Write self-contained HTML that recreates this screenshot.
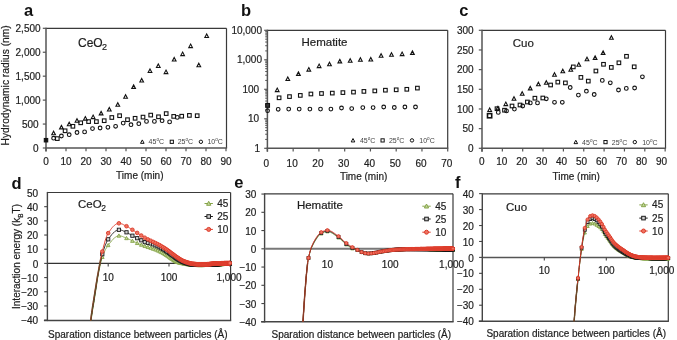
<!DOCTYPE html>
<html><head><meta charset="utf-8"><title>Figure</title>
<style>html,body{margin:0;padding:0;background:#fff;}svg{display:block;}</style></head>
<body><svg width="677" height="340" viewBox="0 0 677 340" font-family='"Liberation Sans", Arial, Helvetica, sans-serif'>
<rect width="677" height="340" fill="#fff"/>
<line x1="46.00" y1="28.30" x2="226.50" y2="28.30" stroke="#3a3a3a" stroke-width="1.2"/>
<line x1="226.50" y1="28.30" x2="226.50" y2="148.00" stroke="#3a3a3a" stroke-width="1.2"/>
<line x1="46.00" y1="27.70" x2="46.00" y2="151.40" stroke="#555" stroke-width="1.5"/>
<line x1="45.20" y1="148.00" x2="227.10" y2="148.00" stroke="#555" stroke-width="1.5"/>
<line x1="46.00" y1="148.00" x2="46.00" y2="151.20" stroke="#555" stroke-width="1.2"/>
<text x="46.00" y="165.00" font-size="10" text-anchor="middle" fill="#1e1e1e" stroke="#1e1e1e" stroke-width="0.2" font-weight="normal" >0</text>
<line x1="66.00" y1="148.00" x2="66.00" y2="151.20" stroke="#555" stroke-width="1.2"/>
<text x="66.00" y="165.00" font-size="10" text-anchor="middle" fill="#1e1e1e" stroke="#1e1e1e" stroke-width="0.2" font-weight="normal" >10</text>
<line x1="86.00" y1="148.00" x2="86.00" y2="151.20" stroke="#555" stroke-width="1.2"/>
<text x="86.00" y="165.00" font-size="10" text-anchor="middle" fill="#1e1e1e" stroke="#1e1e1e" stroke-width="0.2" font-weight="normal" >20</text>
<line x1="106.00" y1="148.00" x2="106.00" y2="151.20" stroke="#555" stroke-width="1.2"/>
<text x="106.00" y="165.00" font-size="10" text-anchor="middle" fill="#1e1e1e" stroke="#1e1e1e" stroke-width="0.2" font-weight="normal" >30</text>
<line x1="126.00" y1="148.00" x2="126.00" y2="151.20" stroke="#555" stroke-width="1.2"/>
<text x="126.00" y="165.00" font-size="10" text-anchor="middle" fill="#1e1e1e" stroke="#1e1e1e" stroke-width="0.2" font-weight="normal" >40</text>
<line x1="146.00" y1="148.00" x2="146.00" y2="151.20" stroke="#555" stroke-width="1.2"/>
<text x="146.00" y="165.00" font-size="10" text-anchor="middle" fill="#1e1e1e" stroke="#1e1e1e" stroke-width="0.2" font-weight="normal" >50</text>
<line x1="166.00" y1="148.00" x2="166.00" y2="151.20" stroke="#555" stroke-width="1.2"/>
<text x="166.00" y="165.00" font-size="10" text-anchor="middle" fill="#1e1e1e" stroke="#1e1e1e" stroke-width="0.2" font-weight="normal" >60</text>
<line x1="186.00" y1="148.00" x2="186.00" y2="151.20" stroke="#555" stroke-width="1.2"/>
<text x="186.00" y="165.00" font-size="10" text-anchor="middle" fill="#1e1e1e" stroke="#1e1e1e" stroke-width="0.2" font-weight="normal" >70</text>
<line x1="206.00" y1="148.00" x2="206.00" y2="151.20" stroke="#555" stroke-width="1.2"/>
<text x="206.00" y="165.00" font-size="10" text-anchor="middle" fill="#1e1e1e" stroke="#1e1e1e" stroke-width="0.2" font-weight="normal" >80</text>
<line x1="226.00" y1="148.00" x2="226.00" y2="151.20" stroke="#555" stroke-width="1.2"/>
<text x="226.00" y="165.00" font-size="10" text-anchor="middle" fill="#1e1e1e" stroke="#1e1e1e" stroke-width="0.2" font-weight="normal" >90</text>
<line x1="42.80" y1="148.00" x2="46.00" y2="148.00" stroke="#555" stroke-width="1.2"/>
<text x="38.60" y="151.60" font-size="10" text-anchor="end" fill="#1e1e1e" stroke="#1e1e1e" stroke-width="0.2" font-weight="normal" >0</text>
<line x1="42.80" y1="124.06" x2="46.00" y2="124.06" stroke="#555" stroke-width="1.2"/>
<text x="38.60" y="127.66" font-size="10" text-anchor="end" fill="#1e1e1e" stroke="#1e1e1e" stroke-width="0.2" font-weight="normal" >500</text>
<line x1="42.80" y1="100.12" x2="46.00" y2="100.12" stroke="#555" stroke-width="1.2"/>
<text x="40.60" y="103.72" font-size="10" text-anchor="end" fill="#1e1e1e" stroke="#1e1e1e" stroke-width="0.2" font-weight="normal" >1,000</text>
<line x1="42.80" y1="76.18" x2="46.00" y2="76.18" stroke="#555" stroke-width="1.2"/>
<text x="40.60" y="79.78" font-size="10" text-anchor="end" fill="#1e1e1e" stroke="#1e1e1e" stroke-width="0.2" font-weight="normal" >1,500</text>
<line x1="42.80" y1="52.24" x2="46.00" y2="52.24" stroke="#555" stroke-width="1.2"/>
<text x="40.60" y="55.84" font-size="10" text-anchor="end" fill="#1e1e1e" stroke="#1e1e1e" stroke-width="0.2" font-weight="normal" >2,000</text>
<line x1="42.80" y1="28.30" x2="46.00" y2="28.30" stroke="#555" stroke-width="1.2"/>
<text x="40.60" y="31.90" font-size="10" text-anchor="end" fill="#1e1e1e" stroke="#1e1e1e" stroke-width="0.2" font-weight="normal" >2,500</text>
<path d="M53.60 131.17L55.45 134.68L51.75 134.68Z" fill="none" stroke="#111" stroke-width="1.1"/>
<path d="M61.40 125.37L63.25 128.88L59.55 128.88Z" fill="none" stroke="#111" stroke-width="1.1"/>
<path d="M69.20 122.27L71.05 125.78L67.35 125.78Z" fill="none" stroke="#111" stroke-width="1.1"/>
<path d="M77.00 118.77L78.85 122.28L75.15 122.28Z" fill="none" stroke="#111" stroke-width="1.1"/>
<path d="M85.30 116.57L87.15 120.08L83.45 120.08Z" fill="none" stroke="#111" stroke-width="1.1"/>
<path d="M93.10 115.07L94.95 118.58L91.25 118.58Z" fill="none" stroke="#111" stroke-width="1.1"/>
<path d="M101.10 111.37L102.95 114.88L99.25 114.88Z" fill="none" stroke="#111" stroke-width="1.1"/>
<path d="M109.30 107.47L111.15 110.98L107.45 110.98Z" fill="none" stroke="#111" stroke-width="1.1"/>
<path d="M117.80 102.77L119.65 106.28L115.95 106.28Z" fill="none" stroke="#111" stroke-width="1.1"/>
<path d="M125.60 94.77L127.45 98.28L123.75 98.28Z" fill="none" stroke="#111" stroke-width="1.1"/>
<path d="M133.60 84.87L135.45 88.38L131.75 88.38Z" fill="none" stroke="#111" stroke-width="1.1"/>
<path d="M141.70 78.47L143.55 81.98L139.85 81.98Z" fill="none" stroke="#111" stroke-width="1.1"/>
<path d="M150.00 68.97L151.85 72.48L148.15 72.48Z" fill="none" stroke="#111" stroke-width="1.1"/>
<path d="M158.30 63.97L160.15 67.48L156.45 67.48Z" fill="none" stroke="#111" stroke-width="1.1"/>
<path d="M166.00 70.07L167.85 73.58L164.15 73.58Z" fill="none" stroke="#111" stroke-width="1.1"/>
<path d="M174.20 57.47L176.05 60.98L172.35 60.98Z" fill="none" stroke="#111" stroke-width="1.1"/>
<path d="M182.60 52.07L184.45 55.58L180.75 55.58Z" fill="none" stroke="#111" stroke-width="1.1"/>
<path d="M190.60 44.07L192.45 47.58L188.75 47.58Z" fill="none" stroke="#111" stroke-width="1.1"/>
<path d="M198.80 63.27L200.65 66.78L196.95 66.78Z" fill="none" stroke="#111" stroke-width="1.1"/>
<path d="M206.70 33.97L208.55 37.48L204.85 37.48Z" fill="none" stroke="#111" stroke-width="1.1"/>
<rect x="55.50" y="136.80" width="3.60" height="3.60" fill="none" stroke="#111" stroke-width="1.1"/>
<rect x="63.30" y="129.00" width="3.60" height="3.60" fill="none" stroke="#111" stroke-width="1.1"/>
<rect x="71.10" y="124.50" width="3.60" height="3.60" fill="none" stroke="#111" stroke-width="1.1"/>
<rect x="78.90" y="121.00" width="3.60" height="3.60" fill="none" stroke="#111" stroke-width="1.1"/>
<rect x="86.80" y="119.80" width="3.60" height="3.60" fill="none" stroke="#111" stroke-width="1.1"/>
<rect x="94.60" y="119.80" width="3.60" height="3.60" fill="none" stroke="#111" stroke-width="1.1"/>
<rect x="102.40" y="118.90" width="3.60" height="3.60" fill="none" stroke="#111" stroke-width="1.1"/>
<rect x="110.00" y="115.70" width="3.60" height="3.60" fill="none" stroke="#111" stroke-width="1.1"/>
<rect x="117.80" y="113.90" width="3.60" height="3.60" fill="none" stroke="#111" stroke-width="1.1"/>
<rect x="125.70" y="117.90" width="3.60" height="3.60" fill="none" stroke="#111" stroke-width="1.1"/>
<rect x="133.30" y="116.50" width="3.60" height="3.60" fill="none" stroke="#111" stroke-width="1.1"/>
<rect x="141.20" y="115.30" width="3.60" height="3.60" fill="none" stroke="#111" stroke-width="1.1"/>
<rect x="148.90" y="113.30" width="3.60" height="3.60" fill="none" stroke="#111" stroke-width="1.1"/>
<rect x="156.70" y="115.00" width="3.60" height="3.60" fill="none" stroke="#111" stroke-width="1.1"/>
<rect x="164.40" y="111.80" width="3.60" height="3.60" fill="none" stroke="#111" stroke-width="1.1"/>
<rect x="171.90" y="114.60" width="3.60" height="3.60" fill="none" stroke="#111" stroke-width="1.1"/>
<rect x="179.90" y="114.40" width="3.60" height="3.60" fill="none" stroke="#111" stroke-width="1.1"/>
<rect x="187.60" y="113.60" width="3.60" height="3.60" fill="none" stroke="#111" stroke-width="1.1"/>
<rect x="195.40" y="113.90" width="3.60" height="3.60" fill="none" stroke="#111" stroke-width="1.1"/>
<circle cx="53.60" cy="138.20" r="1.85" fill="none" stroke="#111" stroke-width="1.1"/>
<circle cx="61.40" cy="136.00" r="1.85" fill="none" stroke="#111" stroke-width="1.1"/>
<circle cx="69.20" cy="134.70" r="1.85" fill="none" stroke="#111" stroke-width="1.1"/>
<circle cx="77.00" cy="132.50" r="1.85" fill="none" stroke="#111" stroke-width="1.1"/>
<circle cx="84.60" cy="131.90" r="1.85" fill="none" stroke="#111" stroke-width="1.1"/>
<circle cx="92.50" cy="128.60" r="1.85" fill="none" stroke="#111" stroke-width="1.1"/>
<circle cx="100.10" cy="128.00" r="1.85" fill="none" stroke="#111" stroke-width="1.1"/>
<circle cx="107.90" cy="127.30" r="1.85" fill="none" stroke="#111" stroke-width="1.1"/>
<circle cx="115.60" cy="126.30" r="1.85" fill="none" stroke="#111" stroke-width="1.1"/>
<circle cx="123.20" cy="123.10" r="1.85" fill="none" stroke="#111" stroke-width="1.1"/>
<circle cx="131.00" cy="124.70" r="1.85" fill="none" stroke="#111" stroke-width="1.1"/>
<circle cx="138.80" cy="123.70" r="1.85" fill="none" stroke="#111" stroke-width="1.1"/>
<circle cx="146.50" cy="121.40" r="1.85" fill="none" stroke="#111" stroke-width="1.1"/>
<circle cx="154.40" cy="121.40" r="1.85" fill="none" stroke="#111" stroke-width="1.1"/>
<circle cx="162.10" cy="120.70" r="1.85" fill="none" stroke="#111" stroke-width="1.1"/>
<circle cx="169.60" cy="121.90" r="1.85" fill="none" stroke="#111" stroke-width="1.1"/>
<circle cx="177.30" cy="117.40" r="1.85" fill="none" stroke="#111" stroke-width="1.1"/>
<rect x="44.30" y="138.50" width="3.40" height="3.40" fill="#111" stroke="#111" stroke-width="1.1"/>
<path d="M142.30 139.92L144.10 143.34L140.50 143.34Z" fill="none" stroke="#111" stroke-width="1.0"/>
<rect x="170.20" y="140.20" width="3.20" height="3.20" fill="none" stroke="#111" stroke-width="1.0"/>
<circle cx="200.90" cy="141.80" r="1.70" fill="none" stroke="#111" stroke-width="1.0"/>
<text x="148.60" y="144.40" font-size="7" fill="#444">45<tspan font-size="4.6" dy="-3.2">o</tspan><tspan dy="3.2">C</tspan></text>
<text x="177.70" y="144.40" font-size="7" fill="#444">25<tspan font-size="4.6" dy="-3.2">o</tspan><tspan dy="3.2">C</tspan></text>
<text x="207.40" y="144.40" font-size="7" fill="#444">10<tspan font-size="4.6" dy="-3.2">o</tspan><tspan dy="3.2">C</tspan></text>
<text x="24.00" y="16.00" font-size="16.5" text-anchor="start" fill="#111" font-weight="bold" >a</text>
<text x="78" y="46.8" font-size="12" fill="#1e1e1e" stroke="#1e1e1e" stroke-width="0.2">CeO<tspan font-size="9" dx="-0.6" dy="2.8">2</tspan></text>
<text x="139.80" y="179.20" font-size="10" text-anchor="middle" fill="#1e1e1e" stroke="#1e1e1e" stroke-width="0.2" font-weight="normal" >Time (min)</text>
<text transform="translate(9.4,85.4) rotate(-90)" font-size="10.25" text-anchor="middle" fill="#1e1e1e" stroke="#1e1e1e" stroke-width="0.2">Hydrodynamic radius (nm)</text>
<line x1="267.40" y1="30.30" x2="447.70" y2="30.30" stroke="#3a3a3a" stroke-width="1.2"/>
<line x1="447.70" y1="30.30" x2="447.70" y2="148.30" stroke="#3a3a3a" stroke-width="1.2"/>
<line x1="267.40" y1="29.70" x2="267.40" y2="151.70" stroke="#555" stroke-width="1.5"/>
<line x1="266.60" y1="148.30" x2="448.30" y2="148.30" stroke="#555" stroke-width="1.5"/>
<line x1="267.40" y1="148.30" x2="267.40" y2="151.50" stroke="#555" stroke-width="1.2"/>
<text x="266.40" y="167.00" font-size="10" text-anchor="middle" fill="#1e1e1e" stroke="#1e1e1e" stroke-width="0.2" font-weight="normal" >0</text>
<line x1="293.16" y1="148.30" x2="293.16" y2="151.50" stroke="#555" stroke-width="1.2"/>
<text x="292.16" y="167.00" font-size="10" text-anchor="middle" fill="#1e1e1e" stroke="#1e1e1e" stroke-width="0.2" font-weight="normal" >10</text>
<line x1="318.92" y1="148.30" x2="318.92" y2="151.50" stroke="#555" stroke-width="1.2"/>
<text x="317.92" y="167.00" font-size="10" text-anchor="middle" fill="#1e1e1e" stroke="#1e1e1e" stroke-width="0.2" font-weight="normal" >20</text>
<line x1="344.68" y1="148.30" x2="344.68" y2="151.50" stroke="#555" stroke-width="1.2"/>
<text x="343.68" y="167.00" font-size="10" text-anchor="middle" fill="#1e1e1e" stroke="#1e1e1e" stroke-width="0.2" font-weight="normal" >30</text>
<line x1="370.44" y1="148.30" x2="370.44" y2="151.50" stroke="#555" stroke-width="1.2"/>
<text x="369.44" y="167.00" font-size="10" text-anchor="middle" fill="#1e1e1e" stroke="#1e1e1e" stroke-width="0.2" font-weight="normal" >40</text>
<line x1="396.20" y1="148.30" x2="396.20" y2="151.50" stroke="#555" stroke-width="1.2"/>
<text x="395.20" y="167.00" font-size="10" text-anchor="middle" fill="#1e1e1e" stroke="#1e1e1e" stroke-width="0.2" font-weight="normal" >50</text>
<line x1="421.96" y1="148.30" x2="421.96" y2="151.50" stroke="#555" stroke-width="1.2"/>
<text x="420.96" y="167.00" font-size="10" text-anchor="middle" fill="#1e1e1e" stroke="#1e1e1e" stroke-width="0.2" font-weight="normal" >60</text>
<line x1="447.72" y1="148.30" x2="447.72" y2="151.50" stroke="#555" stroke-width="1.2"/>
<text x="446.72" y="167.00" font-size="10" text-anchor="middle" fill="#1e1e1e" stroke="#1e1e1e" stroke-width="0.2" font-weight="normal" >70</text>
<line x1="264.20" y1="148.30" x2="267.40" y2="148.30" stroke="#555" stroke-width="1.2"/>
<text x="260.00" y="151.90" font-size="10" text-anchor="end" fill="#1e1e1e" stroke="#1e1e1e" stroke-width="0.2" font-weight="normal" >1</text>
<line x1="264.20" y1="118.80" x2="267.40" y2="118.80" stroke="#555" stroke-width="1.2"/>
<text x="259.10" y="122.40" font-size="10" text-anchor="end" fill="#1e1e1e" stroke="#1e1e1e" stroke-width="0.2" font-weight="normal" >10</text>
<line x1="264.20" y1="89.30" x2="267.40" y2="89.30" stroke="#555" stroke-width="1.2"/>
<text x="259.10" y="92.90" font-size="10" text-anchor="end" fill="#1e1e1e" stroke="#1e1e1e" stroke-width="0.2" font-weight="normal" >100</text>
<line x1="264.20" y1="59.80" x2="267.40" y2="59.80" stroke="#555" stroke-width="1.2"/>
<text x="262.00" y="63.40" font-size="10" text-anchor="end" fill="#1e1e1e" stroke="#1e1e1e" stroke-width="0.2" font-weight="normal" >1,000</text>
<line x1="264.20" y1="30.30" x2="267.40" y2="30.30" stroke="#555" stroke-width="1.2"/>
<text x="262.00" y="33.90" font-size="10" text-anchor="end" fill="#1e1e1e" stroke="#1e1e1e" stroke-width="0.2" font-weight="normal" >10,000</text>
<line x1="265.20" y1="139.42" x2="267.40" y2="139.42" stroke="#555" stroke-width="1.0"/>
<line x1="265.20" y1="134.22" x2="267.40" y2="134.22" stroke="#555" stroke-width="1.0"/>
<line x1="265.20" y1="130.54" x2="267.40" y2="130.54" stroke="#555" stroke-width="1.0"/>
<line x1="265.20" y1="127.68" x2="267.40" y2="127.68" stroke="#555" stroke-width="1.0"/>
<line x1="265.20" y1="125.34" x2="267.40" y2="125.34" stroke="#555" stroke-width="1.0"/>
<line x1="265.20" y1="123.37" x2="267.40" y2="123.37" stroke="#555" stroke-width="1.0"/>
<line x1="265.20" y1="121.66" x2="267.40" y2="121.66" stroke="#555" stroke-width="1.0"/>
<line x1="265.20" y1="120.15" x2="267.40" y2="120.15" stroke="#555" stroke-width="1.0"/>
<line x1="265.20" y1="109.92" x2="267.40" y2="109.92" stroke="#555" stroke-width="1.0"/>
<line x1="265.20" y1="104.72" x2="267.40" y2="104.72" stroke="#555" stroke-width="1.0"/>
<line x1="265.20" y1="101.04" x2="267.40" y2="101.04" stroke="#555" stroke-width="1.0"/>
<line x1="265.20" y1="98.18" x2="267.40" y2="98.18" stroke="#555" stroke-width="1.0"/>
<line x1="265.20" y1="95.84" x2="267.40" y2="95.84" stroke="#555" stroke-width="1.0"/>
<line x1="265.20" y1="93.87" x2="267.40" y2="93.87" stroke="#555" stroke-width="1.0"/>
<line x1="265.20" y1="92.16" x2="267.40" y2="92.16" stroke="#555" stroke-width="1.0"/>
<line x1="265.20" y1="90.65" x2="267.40" y2="90.65" stroke="#555" stroke-width="1.0"/>
<line x1="265.20" y1="80.42" x2="267.40" y2="80.42" stroke="#555" stroke-width="1.0"/>
<line x1="265.20" y1="75.22" x2="267.40" y2="75.22" stroke="#555" stroke-width="1.0"/>
<line x1="265.20" y1="71.54" x2="267.40" y2="71.54" stroke="#555" stroke-width="1.0"/>
<line x1="265.20" y1="68.68" x2="267.40" y2="68.68" stroke="#555" stroke-width="1.0"/>
<line x1="265.20" y1="66.34" x2="267.40" y2="66.34" stroke="#555" stroke-width="1.0"/>
<line x1="265.20" y1="64.37" x2="267.40" y2="64.37" stroke="#555" stroke-width="1.0"/>
<line x1="265.20" y1="62.66" x2="267.40" y2="62.66" stroke="#555" stroke-width="1.0"/>
<line x1="265.20" y1="61.15" x2="267.40" y2="61.15" stroke="#555" stroke-width="1.0"/>
<line x1="265.20" y1="50.92" x2="267.40" y2="50.92" stroke="#555" stroke-width="1.0"/>
<line x1="265.20" y1="45.72" x2="267.40" y2="45.72" stroke="#555" stroke-width="1.0"/>
<line x1="265.20" y1="42.04" x2="267.40" y2="42.04" stroke="#555" stroke-width="1.0"/>
<line x1="265.20" y1="39.18" x2="267.40" y2="39.18" stroke="#555" stroke-width="1.0"/>
<line x1="265.20" y1="36.84" x2="267.40" y2="36.84" stroke="#555" stroke-width="1.0"/>
<line x1="265.20" y1="34.87" x2="267.40" y2="34.87" stroke="#555" stroke-width="1.0"/>
<line x1="265.20" y1="33.16" x2="267.40" y2="33.16" stroke="#555" stroke-width="1.0"/>
<line x1="265.20" y1="31.65" x2="267.40" y2="31.65" stroke="#555" stroke-width="1.0"/>
<path d="M277.20 88.07L279.05 91.58L275.35 91.58Z" fill="none" stroke="#111" stroke-width="1.1"/>
<path d="M287.80 76.97L289.65 80.48L285.95 80.48Z" fill="none" stroke="#111" stroke-width="1.1"/>
<path d="M298.40 71.87L300.25 75.38L296.55 75.38Z" fill="none" stroke="#111" stroke-width="1.1"/>
<path d="M308.80 67.57L310.65 71.08L306.95 71.08Z" fill="none" stroke="#111" stroke-width="1.1"/>
<path d="M319.10 64.07L320.95 67.58L317.25 67.58Z" fill="none" stroke="#111" stroke-width="1.1"/>
<path d="M329.50 62.17L331.35 65.68L327.65 65.68Z" fill="none" stroke="#111" stroke-width="1.1"/>
<path d="M339.80 59.37L341.65 62.88L337.95 62.88Z" fill="none" stroke="#111" stroke-width="1.1"/>
<path d="M350.20 58.67L352.05 62.18L348.35 62.18Z" fill="none" stroke="#111" stroke-width="1.1"/>
<path d="M360.40 57.67L362.25 61.18L358.55 61.18Z" fill="none" stroke="#111" stroke-width="1.1"/>
<path d="M370.80 57.47L372.65 60.98L368.95 60.98Z" fill="none" stroke="#111" stroke-width="1.1"/>
<path d="M381.10 53.67L382.95 57.18L379.25 57.18Z" fill="none" stroke="#111" stroke-width="1.1"/>
<path d="M391.50 52.77L393.35 56.28L389.65 56.28Z" fill="none" stroke="#111" stroke-width="1.1"/>
<path d="M402.10 52.07L403.95 55.58L400.25 55.58Z" fill="none" stroke="#111" stroke-width="1.1"/>
<path d="M412.40 50.87L414.25 54.38L410.55 54.38Z" fill="none" stroke="#111" stroke-width="1.1"/>
<rect x="277.30" y="96.00" width="3.60" height="3.60" fill="none" stroke="#111" stroke-width="1.1"/>
<rect x="287.70" y="94.80" width="3.60" height="3.60" fill="none" stroke="#111" stroke-width="1.1"/>
<rect x="298.50" y="93.60" width="3.60" height="3.60" fill="none" stroke="#111" stroke-width="1.1"/>
<rect x="309.10" y="92.20" width="3.60" height="3.60" fill="none" stroke="#111" stroke-width="1.1"/>
<rect x="319.70" y="91.70" width="3.60" height="3.60" fill="none" stroke="#111" stroke-width="1.1"/>
<rect x="330.50" y="91.30" width="3.60" height="3.60" fill="none" stroke="#111" stroke-width="1.1"/>
<rect x="341.10" y="90.80" width="3.60" height="3.60" fill="none" stroke="#111" stroke-width="1.1"/>
<rect x="351.70" y="90.30" width="3.60" height="3.60" fill="none" stroke="#111" stroke-width="1.1"/>
<rect x="362.10" y="89.60" width="3.60" height="3.60" fill="none" stroke="#111" stroke-width="1.1"/>
<rect x="373.00" y="89.10" width="3.60" height="3.60" fill="none" stroke="#111" stroke-width="1.1"/>
<rect x="383.60" y="88.40" width="3.60" height="3.60" fill="none" stroke="#111" stroke-width="1.1"/>
<rect x="394.40" y="88.00" width="3.60" height="3.60" fill="none" stroke="#111" stroke-width="1.1"/>
<rect x="405.00" y="87.50" width="3.60" height="3.60" fill="none" stroke="#111" stroke-width="1.1"/>
<rect x="415.60" y="86.30" width="3.60" height="3.60" fill="none" stroke="#111" stroke-width="1.1"/>
<circle cx="278.20" cy="109.30" r="1.85" fill="none" stroke="#111" stroke-width="1.1"/>
<circle cx="288.70" cy="109.10" r="1.85" fill="none" stroke="#111" stroke-width="1.1"/>
<circle cx="299.20" cy="109.10" r="1.85" fill="none" stroke="#111" stroke-width="1.1"/>
<circle cx="309.90" cy="109.10" r="1.85" fill="none" stroke="#111" stroke-width="1.1"/>
<circle cx="320.50" cy="109.10" r="1.85" fill="none" stroke="#111" stroke-width="1.1"/>
<circle cx="330.90" cy="109.10" r="1.85" fill="none" stroke="#111" stroke-width="1.1"/>
<circle cx="341.50" cy="108.00" r="1.85" fill="none" stroke="#111" stroke-width="1.1"/>
<circle cx="351.70" cy="108.60" r="1.85" fill="none" stroke="#111" stroke-width="1.1"/>
<circle cx="362.80" cy="107.60" r="1.85" fill="none" stroke="#111" stroke-width="1.1"/>
<circle cx="373.10" cy="107.60" r="1.85" fill="none" stroke="#111" stroke-width="1.1"/>
<circle cx="383.70" cy="107.00" r="1.85" fill="none" stroke="#111" stroke-width="1.1"/>
<circle cx="394.30" cy="107.50" r="1.85" fill="none" stroke="#111" stroke-width="1.1"/>
<circle cx="404.90" cy="107.00" r="1.85" fill="none" stroke="#111" stroke-width="1.1"/>
<circle cx="415.50" cy="107.00" r="1.85" fill="none" stroke="#111" stroke-width="1.1"/>
<rect x="265.70" y="103.50" width="3.80" height="3.80" fill="#333" stroke="#111" stroke-width="1.1"/>
<circle cx="267.60" cy="110.70" r="1.80" fill="none" stroke="#111" stroke-width="1.1"/>
<path d="M353.00 138.52L354.80 141.94L351.20 141.94Z" fill="none" stroke="#111" stroke-width="1.0"/>
<rect x="381.00" y="138.80" width="3.20" height="3.20" fill="none" stroke="#111" stroke-width="1.0"/>
<circle cx="412.00" cy="140.40" r="1.70" fill="none" stroke="#111" stroke-width="1.0"/>
<text x="359.90" y="143.00" font-size="7" fill="#444">45<tspan font-size="4.6" dy="-3.2">o</tspan><tspan dy="3.2">C</tspan></text>
<text x="388.90" y="143.00" font-size="7" fill="#444">25<tspan font-size="4.6" dy="-3.2">o</tspan><tspan dy="3.2">C</tspan></text>
<text x="419.30" y="143.00" font-size="7" fill="#444">10<tspan font-size="4.6" dy="-3.2">o</tspan><tspan dy="3.2">C</tspan></text>
<text x="241.00" y="16.00" font-size="16.5" text-anchor="start" fill="#111" font-weight="bold" >b</text>
<text x="301.50" y="46.00" font-size="11.5" text-anchor="start" fill="#1e1e1e" stroke="#1e1e1e" stroke-width="0.2" font-weight="normal" >Hematite</text>
<text x="363.60" y="179.80" font-size="10" text-anchor="middle" fill="#1e1e1e" stroke="#1e1e1e" stroke-width="0.2" font-weight="normal" >Time (min)</text>
<line x1="482.00" y1="30.30" x2="665.50" y2="30.30" stroke="#3a3a3a" stroke-width="1.2"/>
<line x1="665.50" y1="30.30" x2="665.50" y2="148.30" stroke="#3a3a3a" stroke-width="1.2"/>
<line x1="482.00" y1="29.70" x2="482.00" y2="151.70" stroke="#555" stroke-width="1.5"/>
<line x1="481.20" y1="148.30" x2="666.10" y2="148.30" stroke="#555" stroke-width="1.5"/>
<line x1="482.00" y1="148.30" x2="482.00" y2="151.50" stroke="#555" stroke-width="1.2"/>
<text x="481.80" y="165.00" font-size="10" text-anchor="middle" fill="#1e1e1e" stroke="#1e1e1e" stroke-width="0.2" font-weight="normal" >0</text>
<line x1="502.35" y1="148.30" x2="502.35" y2="151.50" stroke="#555" stroke-width="1.2"/>
<text x="501.76" y="165.00" font-size="10" text-anchor="middle" fill="#1e1e1e" stroke="#1e1e1e" stroke-width="0.2" font-weight="normal" >10</text>
<line x1="522.70" y1="148.30" x2="522.70" y2="151.50" stroke="#555" stroke-width="1.2"/>
<text x="521.72" y="165.00" font-size="10" text-anchor="middle" fill="#1e1e1e" stroke="#1e1e1e" stroke-width="0.2" font-weight="normal" >20</text>
<line x1="543.05" y1="148.30" x2="543.05" y2="151.50" stroke="#555" stroke-width="1.2"/>
<text x="541.68" y="165.00" font-size="10" text-anchor="middle" fill="#1e1e1e" stroke="#1e1e1e" stroke-width="0.2" font-weight="normal" >30</text>
<line x1="563.40" y1="148.30" x2="563.40" y2="151.50" stroke="#555" stroke-width="1.2"/>
<text x="561.64" y="165.00" font-size="10" text-anchor="middle" fill="#1e1e1e" stroke="#1e1e1e" stroke-width="0.2" font-weight="normal" >40</text>
<line x1="583.75" y1="148.30" x2="583.75" y2="151.50" stroke="#555" stroke-width="1.2"/>
<text x="581.60" y="165.00" font-size="10" text-anchor="middle" fill="#1e1e1e" stroke="#1e1e1e" stroke-width="0.2" font-weight="normal" >50</text>
<line x1="604.10" y1="148.30" x2="604.10" y2="151.50" stroke="#555" stroke-width="1.2"/>
<text x="601.56" y="165.00" font-size="10" text-anchor="middle" fill="#1e1e1e" stroke="#1e1e1e" stroke-width="0.2" font-weight="normal" >60</text>
<line x1="624.45" y1="148.30" x2="624.45" y2="151.50" stroke="#555" stroke-width="1.2"/>
<text x="621.52" y="165.00" font-size="10" text-anchor="middle" fill="#1e1e1e" stroke="#1e1e1e" stroke-width="0.2" font-weight="normal" >70</text>
<line x1="644.80" y1="148.30" x2="644.80" y2="151.50" stroke="#555" stroke-width="1.2"/>
<text x="641.48" y="165.00" font-size="10" text-anchor="middle" fill="#1e1e1e" stroke="#1e1e1e" stroke-width="0.2" font-weight="normal" >80</text>
<line x1="665.15" y1="148.30" x2="665.15" y2="151.50" stroke="#555" stroke-width="1.2"/>
<text x="661.44" y="165.00" font-size="10" text-anchor="middle" fill="#1e1e1e" stroke="#1e1e1e" stroke-width="0.2" font-weight="normal" >90</text>
<line x1="478.80" y1="148.30" x2="482.00" y2="148.30" stroke="#555" stroke-width="1.2"/>
<text x="473.60" y="151.90" font-size="10" text-anchor="end" fill="#1e1e1e" stroke="#1e1e1e" stroke-width="0.2" font-weight="normal" >0</text>
<line x1="478.80" y1="128.63" x2="482.00" y2="128.63" stroke="#555" stroke-width="1.2"/>
<text x="473.60" y="132.23" font-size="10" text-anchor="end" fill="#1e1e1e" stroke="#1e1e1e" stroke-width="0.2" font-weight="normal" >50</text>
<line x1="478.80" y1="108.97" x2="482.00" y2="108.97" stroke="#555" stroke-width="1.2"/>
<text x="473.60" y="112.57" font-size="10" text-anchor="end" fill="#1e1e1e" stroke="#1e1e1e" stroke-width="0.2" font-weight="normal" >100</text>
<line x1="478.80" y1="89.30" x2="482.00" y2="89.30" stroke="#555" stroke-width="1.2"/>
<text x="473.60" y="92.90" font-size="10" text-anchor="end" fill="#1e1e1e" stroke="#1e1e1e" stroke-width="0.2" font-weight="normal" >150</text>
<line x1="478.80" y1="69.63" x2="482.00" y2="69.63" stroke="#555" stroke-width="1.2"/>
<text x="473.60" y="73.23" font-size="10" text-anchor="end" fill="#1e1e1e" stroke="#1e1e1e" stroke-width="0.2" font-weight="normal" >200</text>
<line x1="478.80" y1="49.97" x2="482.00" y2="49.97" stroke="#555" stroke-width="1.2"/>
<text x="473.60" y="53.57" font-size="10" text-anchor="end" fill="#1e1e1e" stroke="#1e1e1e" stroke-width="0.2" font-weight="normal" >250</text>
<line x1="478.80" y1="30.30" x2="482.00" y2="30.30" stroke="#555" stroke-width="1.2"/>
<text x="473.60" y="33.90" font-size="10" text-anchor="end" fill="#1e1e1e" stroke="#1e1e1e" stroke-width="0.2" font-weight="normal" >300</text>
<path d="M489.70 107.97L491.55 111.48L487.85 111.48Z" fill="none" stroke="#111" stroke-width="1.1"/>
<path d="M497.90 106.37L499.75 109.88L496.05 109.88Z" fill="none" stroke="#111" stroke-width="1.1"/>
<path d="M505.80 102.07L507.65 105.58L503.95 105.58Z" fill="none" stroke="#111" stroke-width="1.1"/>
<path d="M514.00 96.67L515.85 100.18L512.15 100.18Z" fill="none" stroke="#111" stroke-width="1.1"/>
<path d="M522.20 91.77L524.05 95.28L520.35 95.28Z" fill="none" stroke="#111" stroke-width="1.1"/>
<path d="M530.20 86.37L532.05 89.88L528.35 89.88Z" fill="none" stroke="#111" stroke-width="1.1"/>
<path d="M538.40 82.27L540.25 85.78L536.55 85.78Z" fill="none" stroke="#111" stroke-width="1.1"/>
<path d="M546.30 80.67L548.15 84.18L544.45 84.18Z" fill="none" stroke="#111" stroke-width="1.1"/>
<path d="M554.50 72.77L556.35 76.28L552.65 76.28Z" fill="none" stroke="#111" stroke-width="1.1"/>
<path d="M562.80 69.27L564.65 72.78L560.95 72.78Z" fill="none" stroke="#111" stroke-width="1.1"/>
<path d="M570.80 67.67L572.65 71.18L568.95 71.18Z" fill="none" stroke="#111" stroke-width="1.1"/>
<path d="M578.80 62.67L580.65 66.18L576.95 66.18Z" fill="none" stroke="#111" stroke-width="1.1"/>
<path d="M587.00 57.17L588.85 60.68L585.15 60.68Z" fill="none" stroke="#111" stroke-width="1.1"/>
<path d="M595.10 55.87L596.95 59.38L593.25 59.38Z" fill="none" stroke="#111" stroke-width="1.1"/>
<path d="M603.10 50.87L604.95 54.38L601.25 54.38Z" fill="none" stroke="#111" stroke-width="1.1"/>
<path d="M611.40 35.67L613.25 39.18L609.55 39.18Z" fill="none" stroke="#111" stroke-width="1.1"/>
<rect x="495.20" y="106.90" width="3.60" height="3.60" fill="none" stroke="#111" stroke-width="1.1"/>
<rect x="502.70" y="108.40" width="3.60" height="3.60" fill="none" stroke="#111" stroke-width="1.1"/>
<rect x="510.20" y="104.20" width="3.60" height="3.60" fill="none" stroke="#111" stroke-width="1.1"/>
<rect x="518.20" y="103.20" width="3.60" height="3.60" fill="none" stroke="#111" stroke-width="1.1"/>
<rect x="525.60" y="100.20" width="3.60" height="3.60" fill="none" stroke="#111" stroke-width="1.1"/>
<rect x="533.10" y="96.40" width="3.60" height="3.60" fill="none" stroke="#111" stroke-width="1.1"/>
<rect x="541.00" y="96.20" width="3.60" height="3.60" fill="none" stroke="#111" stroke-width="1.1"/>
<rect x="548.80" y="83.20" width="3.60" height="3.60" fill="none" stroke="#111" stroke-width="1.1"/>
<rect x="556.00" y="80.30" width="3.60" height="3.60" fill="none" stroke="#111" stroke-width="1.1"/>
<rect x="563.60" y="81.10" width="3.60" height="3.60" fill="none" stroke="#111" stroke-width="1.1"/>
<rect x="571.50" y="65.10" width="3.60" height="3.60" fill="none" stroke="#111" stroke-width="1.1"/>
<rect x="579.10" y="75.60" width="3.60" height="3.60" fill="none" stroke="#111" stroke-width="1.1"/>
<rect x="586.50" y="79.30" width="3.60" height="3.60" fill="none" stroke="#111" stroke-width="1.1"/>
<rect x="594.10" y="69.20" width="3.60" height="3.60" fill="none" stroke="#111" stroke-width="1.1"/>
<rect x="601.70" y="62.50" width="3.60" height="3.60" fill="none" stroke="#111" stroke-width="1.1"/>
<rect x="609.50" y="65.60" width="3.60" height="3.60" fill="none" stroke="#111" stroke-width="1.1"/>
<rect x="617.10" y="61.00" width="3.60" height="3.60" fill="none" stroke="#111" stroke-width="1.1"/>
<rect x="624.70" y="54.50" width="3.60" height="3.60" fill="none" stroke="#111" stroke-width="1.1"/>
<rect x="632.40" y="65.00" width="3.60" height="3.60" fill="none" stroke="#111" stroke-width="1.1"/>
<circle cx="498.30" cy="112.40" r="1.85" fill="none" stroke="#111" stroke-width="1.1"/>
<circle cx="506.50" cy="110.90" r="1.85" fill="none" stroke="#111" stroke-width="1.1"/>
<circle cx="514.40" cy="109.10" r="1.85" fill="none" stroke="#111" stroke-width="1.1"/>
<circle cx="522.70" cy="106.00" r="1.85" fill="none" stroke="#111" stroke-width="1.1"/>
<circle cx="530.30" cy="102.90" r="1.85" fill="none" stroke="#111" stroke-width="1.1"/>
<circle cx="537.50" cy="102.90" r="1.85" fill="none" stroke="#111" stroke-width="1.1"/>
<circle cx="546.30" cy="98.80" r="1.85" fill="none" stroke="#111" stroke-width="1.1"/>
<circle cx="554.50" cy="102.30" r="1.85" fill="none" stroke="#111" stroke-width="1.1"/>
<circle cx="562.30" cy="102.30" r="1.85" fill="none" stroke="#111" stroke-width="1.1"/>
<circle cx="570.20" cy="87.50" r="1.85" fill="none" stroke="#111" stroke-width="1.1"/>
<circle cx="578.40" cy="95.10" r="1.85" fill="none" stroke="#111" stroke-width="1.1"/>
<circle cx="586.40" cy="91.20" r="1.85" fill="none" stroke="#111" stroke-width="1.1"/>
<circle cx="594.20" cy="94.50" r="1.85" fill="none" stroke="#111" stroke-width="1.1"/>
<circle cx="602.30" cy="80.40" r="1.85" fill="none" stroke="#111" stroke-width="1.1"/>
<circle cx="610.30" cy="82.80" r="1.85" fill="none" stroke="#111" stroke-width="1.1"/>
<circle cx="618.50" cy="90.00" r="1.85" fill="none" stroke="#111" stroke-width="1.1"/>
<circle cx="626.30" cy="88.40" r="1.85" fill="none" stroke="#111" stroke-width="1.1"/>
<circle cx="634.60" cy="88.00" r="1.85" fill="none" stroke="#111" stroke-width="1.1"/>
<circle cx="642.40" cy="76.80" r="1.85" fill="none" stroke="#111" stroke-width="1.1"/>
<rect x="487.50" y="113.60" width="4.20" height="4.20" fill="none" stroke="#111" stroke-width="1.6"/>
<path d="M575.80 140.22L577.60 143.64L574.00 143.64Z" fill="none" stroke="#111" stroke-width="1.0"/>
<rect x="603.90" y="140.50" width="3.20" height="3.20" fill="none" stroke="#111" stroke-width="1.0"/>
<circle cx="634.80" cy="142.10" r="1.70" fill="none" stroke="#111" stroke-width="1.0"/>
<text x="582.10" y="144.70" font-size="7" fill="#444">45<tspan font-size="4.6" dy="-3.2">o</tspan><tspan dy="3.2">C</tspan></text>
<text x="611.80" y="144.70" font-size="7" fill="#444">25<tspan font-size="4.6" dy="-3.2">o</tspan><tspan dy="3.2">C</tspan></text>
<text x="642.20" y="144.70" font-size="7" fill="#444">10<tspan font-size="4.6" dy="-3.2">o</tspan><tspan dy="3.2">C</tspan></text>
<text x="459.20" y="16.00" font-size="16.5" text-anchor="start" fill="#111" font-weight="bold" >c</text>
<text x="512.70" y="47.30" font-size="11.5" text-anchor="start" fill="#1e1e1e" stroke="#1e1e1e" stroke-width="0.2" font-weight="normal" >Cuo</text>
<text x="576.20" y="179.50" font-size="10" text-anchor="middle" fill="#1e1e1e" stroke="#1e1e1e" stroke-width="0.2" font-weight="normal" >Time (min)</text>
<clipPath id="cd"><rect x="47.4" y="192.5" width="185.39999999999998" height="128.0"/></clipPath>
<line x1="47.40" y1="192.50" x2="230.60" y2="192.50" stroke="#3a3a3a" stroke-width="1.2"/>
<line x1="230.60" y1="192.50" x2="230.60" y2="320.50" stroke="#3a3a3a" stroke-width="1.2"/>
<line x1="47.40" y1="191.90" x2="47.40" y2="321.10" stroke="#444" stroke-width="1.4"/>
<line x1="43.90" y1="320.50" x2="231.20" y2="320.50" stroke="#444" stroke-width="1.4"/>
<line x1="47.40" y1="263.40" x2="230.60" y2="263.40" stroke="#333" stroke-width="1.1"/>
<text x="38.20" y="196.60" font-size="10" text-anchor="end" fill="#1e1e1e" stroke="#1e1e1e" stroke-width="0.2" font-weight="normal" >50</text>
<line x1="44.20" y1="206.68" x2="47.40" y2="206.68" stroke="#444" stroke-width="1.1"/>
<text x="38.20" y="210.78" font-size="10" text-anchor="end" fill="#1e1e1e" stroke="#1e1e1e" stroke-width="0.2" font-weight="normal" >40</text>
<line x1="44.20" y1="220.86" x2="47.40" y2="220.86" stroke="#444" stroke-width="1.1"/>
<text x="38.20" y="224.96" font-size="10" text-anchor="end" fill="#1e1e1e" stroke="#1e1e1e" stroke-width="0.2" font-weight="normal" >30</text>
<line x1="44.20" y1="235.04" x2="47.40" y2="235.04" stroke="#444" stroke-width="1.1"/>
<text x="38.20" y="239.14" font-size="10" text-anchor="end" fill="#1e1e1e" stroke="#1e1e1e" stroke-width="0.2" font-weight="normal" >20</text>
<line x1="44.20" y1="249.22" x2="47.40" y2="249.22" stroke="#444" stroke-width="1.1"/>
<text x="38.20" y="253.32" font-size="10" text-anchor="end" fill="#1e1e1e" stroke="#1e1e1e" stroke-width="0.2" font-weight="normal" >10</text>
<line x1="44.20" y1="263.40" x2="47.40" y2="263.40" stroke="#444" stroke-width="1.1"/>
<text x="38.20" y="267.50" font-size="10" text-anchor="end" fill="#1e1e1e" stroke="#1e1e1e" stroke-width="0.2" font-weight="normal" >0</text>
<line x1="44.20" y1="277.58" x2="47.40" y2="277.58" stroke="#444" stroke-width="1.1"/>
<text x="38.20" y="281.68" font-size="10" text-anchor="end" fill="#1e1e1e" stroke="#1e1e1e" stroke-width="0.2" font-weight="normal" >−10</text>
<line x1="44.20" y1="291.76" x2="47.40" y2="291.76" stroke="#444" stroke-width="1.1"/>
<text x="38.20" y="295.86" font-size="10" text-anchor="end" fill="#1e1e1e" stroke="#1e1e1e" stroke-width="0.2" font-weight="normal" >−20</text>
<line x1="44.20" y1="305.94" x2="47.40" y2="305.94" stroke="#444" stroke-width="1.1"/>
<text x="38.20" y="310.04" font-size="10" text-anchor="end" fill="#1e1e1e" stroke="#1e1e1e" stroke-width="0.2" font-weight="normal" >−30</text>
<line x1="44.20" y1="320.12" x2="47.40" y2="320.12" stroke="#444" stroke-width="1.1"/>
<text x="38.20" y="324.22" font-size="10" text-anchor="end" fill="#1e1e1e" stroke="#1e1e1e" stroke-width="0.2" font-weight="normal" >−40</text>
<line x1="108.20" y1="263.40" x2="108.20" y2="266.60" stroke="#444" stroke-width="1.1"/>
<text x="108.20" y="280.80" font-size="10" text-anchor="middle" fill="#1e1e1e" stroke="#1e1e1e" stroke-width="0.2" font-weight="normal" >10</text>
<line x1="169.00" y1="263.40" x2="169.00" y2="266.60" stroke="#444" stroke-width="1.1"/>
<text x="169.00" y="280.80" font-size="10" text-anchor="middle" fill="#1e1e1e" stroke="#1e1e1e" stroke-width="0.2" font-weight="normal" >100</text>
<line x1="229.80" y1="263.40" x2="229.80" y2="266.60" stroke="#444" stroke-width="1.1"/>
<text x="229.00" y="280.80" font-size="10" text-anchor="middle" fill="#1e1e1e" stroke="#1e1e1e" stroke-width="0.2" font-weight="normal" >1,000</text>
<defs>
<marker id="m1" markerUnits="userSpaceOnUse" markerWidth="12" markerHeight="12" refX="0" refY="0" viewBox="-6 -6 12 12" overflow="visible"><path d="M0 -1.78L1.80 1.46L-1.80 1.46Z" fill="#c4d89a" stroke="#86a44a" stroke-width="0.9"/></marker>
</defs>
<g clip-path="url(#cd)">
<path d="M87.1 362.7 L87.4 358.8 L87.7 355.0 L88.0 351.3 L88.3 347.7 L88.5 344.2 L88.8 340.9 L89.1 337.7 L89.4 334.7 L89.7 331.9 L90.0 329.4 L90.3 327.0 L90.5 324.6 L90.8 322.4 L91.1 320.3 L91.4 318.3 L91.7 316.4 L92.0 314.5 L92.3 312.6 L92.5 310.8 L92.8 309.1 L93.1 307.3 L93.4 305.6 L93.7 303.8 L94.0 302.1 L94.3 300.3 L94.5 298.5 L94.8 296.6 L95.1 294.7 L95.4 292.8 L95.7 290.9 L96.0 289.0 L96.3 287.1 L96.6 285.2 L96.8 283.3 L97.1 281.5 L97.4 279.7 L97.7 277.9 L98.0 276.3 L98.3 274.6 L98.6 273.1 L98.8 271.6 L99.1 270.2 L99.4 268.8 L99.7 267.4 L100.0 266.0 L100.3 264.7 L100.6 263.4 L100.8 262.2 L101.1 261.1 L101.4 260.0 L101.7 258.9 L102.0 258.0 L102.3 257.1 L102.6 256.3 L102.8 255.6 L103.1 254.8 L103.4 254.1 L103.7 253.4 L104.0 252.7 L104.3 252.1 L104.6 251.5 L104.8 250.8 L105.1 250.3 L105.4 249.7 L105.7 249.2 L106.0 248.6 L106.3 248.1 L106.6 247.6 L106.8 247.2 L107.1 246.7 L107.4 246.3 L107.7 245.9 L108.0 245.5 L108.3 245.2 L108.6 244.8 L108.8 244.4 L109.1 244.1 L109.4 243.7 L109.7 243.3 L110.0 243.0 L110.3 242.6 L110.6 242.2 L110.8 241.9 L111.1 241.5 L111.4 241.2 L111.7 240.8 L112.0 240.5 L112.3 240.2 L112.6 239.8 L112.9 239.5 L113.1 239.2 L113.4 238.9 L113.7 238.6 L114.0 238.4 L114.3 238.1 L114.6 237.8 L114.9 237.6 L115.1 237.4 L115.4 237.1 L115.7 236.9 L116.0 236.7 L116.3 236.6 L116.6 236.4 L116.9 236.3 L117.1 236.1 L117.4 236.0 L117.7 235.9 L118.0 235.9 L118.3 235.8 L118.6 235.8 L118.9 235.7 L119.1 235.8 L119.4 235.8 L119.7 235.8 L120.0 235.8 L120.3 235.9 L120.6 235.9 L120.9 236.0 L121.1 236.1 L121.4 236.2 L121.7 236.2 L122.0 236.3 L122.3 236.4 L122.6 236.5 L122.9 236.7 L123.1 236.8 L123.4 236.9 L123.7 237.0 L124.0 237.1 L124.3 237.2 L124.6 237.4 L124.9 237.5 L125.1 237.6 L125.4 237.7 L125.7 237.8 L126.0 238.0 L126.3 238.1 L126.6 238.2 L126.9 238.3 L127.1 238.4 L127.4 238.5 L127.7 238.7 L128.0 238.8 L128.3 238.9 L128.6 239.0 L128.9 239.2 L129.1 239.3 L129.4 239.4 L129.7 239.6 L130.0 239.7 L130.3 239.8 L130.6 240.0 L130.9 240.1 L131.2 240.3 L131.4 240.4 L131.7 240.5 L132.0 240.7 L132.3 240.8 L132.6 240.9 L132.9 241.1 L133.2 241.2 L133.4 241.3 L133.7 241.5 L134.0 241.6 L134.3 241.8 L134.6 241.9 L134.9 242.0 L135.2 242.2 L135.4 242.3 L135.7 242.4 L136.0 242.6 L136.3 242.7 L136.6 242.8 L136.9 243.0 L137.2 243.1 L137.4 243.2 L137.7 243.4 L138.0 243.5 L138.3 243.6 L138.6 243.7 L138.9 243.8 L139.2 244.0 L139.4 244.1 L139.7 244.2 L140.0 244.3 L140.3 244.4 L140.6 244.6 L140.9 244.7 L141.2 244.8 L141.4 244.9 L141.7 245.0 L142.0 245.1 L142.3 245.2 L142.6 245.3 L142.9 245.4 L143.2 245.5 L143.4 245.6 L143.7 245.7 L144.0 245.8 L144.3 245.9 L144.6 246.0 L144.9 246.1 L145.2 246.2 L145.4 246.3 L145.7 246.4 L146.0 246.5 L146.3 246.6 L146.6 246.7 L146.9 246.8 L147.2 246.8 L147.4 246.9 L147.7 247.0 L148.0 247.1 L148.3 247.2 L148.6 247.3 L148.9 247.4 L149.2 247.5 L149.5 247.5 L149.7 247.6 L150.0 247.7 L150.3 247.8 L150.6 247.9 L150.9 248.0 L151.2 248.1 L151.5 248.2 L151.7 248.3 L152.0 248.4 L152.3 248.5 L152.6 248.6 L152.9 248.7 L153.2 248.8 L153.5 248.9 L153.7 249.0 L154.0 249.1 L154.3 249.2 L154.6 249.3 L154.9 249.4 L155.2 249.5 L155.5 249.6 L155.7 249.7 L156.0 249.8 L156.3 250.0 L156.6 250.1 L156.9 250.2 L157.2 250.3 L157.5 250.4 L157.7 250.5 L158.0 250.7 L158.3 250.8 L158.6 250.9 L158.9 251.0 L159.2 251.2 L159.5 251.3 L159.7 251.4 L160.0 251.6 L160.3 251.7 L160.6 251.8 L160.9 252.0 L161.2 252.1 L161.5 252.3 L161.7 252.4 L162.0 252.6 L162.3 252.7 L162.6 252.9 L162.9 253.0 L163.2 253.2 L163.5 253.3 L163.7 253.5 L164.0 253.7 L164.3 253.8 L164.6 254.0 L164.9 254.2 L165.2 254.4 L165.5 254.5 L165.7 254.7 L166.0 254.9 L166.3 255.1 L166.6 255.2 L166.9 255.4 L167.2 255.6 L167.5 255.8 L167.8 256.0 L168.0 256.2 L168.3 256.4 L168.6 256.6 L168.9 256.8 L169.2 257.1 L169.5 257.3 L169.8 257.5 L170.0 257.7 L170.3 257.9 L170.6 258.1 L170.9 258.3 L171.2 258.5 L171.5 258.7 L171.8 258.9 L172.0 259.0 L172.3 259.2 L172.6 259.4 L172.9 259.6 L173.2 259.8 L173.5 260.0 L173.8 260.2 L174.0 260.4 L174.3 260.6 L174.6 260.7 L174.9 260.9 L175.2 261.1 L175.5 261.2 L175.8 261.4 L176.0 261.5 L176.3 261.7 L176.6 261.8 L176.9 261.9 L177.2 262.0 L177.5 262.1 L177.8 262.2 L178.0 262.3 L178.3 262.4 L178.6 262.4 L178.9 262.5 L179.2 262.6 L179.5 262.6 L179.8 262.7 L180.0 262.8 L180.3 262.8 L180.6 262.9 L180.9 263.0 L181.2 263.0 L181.5 263.1 L181.8 263.1 L182.0 263.2 L182.3 263.2 L182.6 263.3 L182.9 263.4 L183.2 263.4 L183.5 263.5 L183.8 263.5 L184.0 263.6 L184.3 263.7 L184.6 263.7 L184.9 263.8 L185.2 263.8 L185.5 263.9 L185.8 263.9 L186.1 264.0 L186.3 264.0 L186.6 264.1 L186.9 264.1 L187.2 264.2 L187.5 264.2 L187.8 264.3 L188.1 264.3 L188.3 264.3 L188.6 264.4 L188.9 264.4 L189.2 264.5 L189.5 264.5 L189.8 264.5 L190.1 264.6 L190.3 264.6 L190.6 264.6 L190.9 264.7 L191.2 264.7 L191.5 264.7 L191.8 264.8 L192.1 264.8 L192.3 264.8 L192.6 264.8 L192.9 264.8 L193.2 264.9 L193.5 264.9 L193.8 264.9 L194.1 264.9 L194.3 264.9 L194.6 264.9 L194.9 265.0 L195.2 265.0 L195.5 265.0 L195.8 265.0 L196.1 265.0 L196.3 265.0 L196.6 265.0 L196.9 265.0 L197.2 265.1 L197.5 265.1 L197.8 265.1 L198.1 265.1 L198.3 265.1 L198.6 265.1 L198.9 265.1 L199.2 265.1 L199.5 265.1 L199.8 265.1 L200.1 265.1 L200.3 265.1 L200.6 265.1 L200.9 265.1 L201.2 265.1 L201.5 265.1 L201.8 265.1 L202.1 265.1 L202.3 265.1 L202.6 265.1 L202.9 265.1 L203.2 265.1 L203.5 265.1 L203.8 265.0 L204.1 265.0 L204.4 265.0 L204.6 265.0 L204.9 265.0 L205.2 265.0 L205.5 265.0 L205.8 265.0 L206.1 265.0 L206.4 265.0 L206.6 265.0 L206.9 265.0 L207.2 264.9 L207.5 264.9 L207.8 264.9 L208.1 264.9 L208.4 264.9 L208.6 264.9 L208.9 264.9 L209.2 264.9 L209.5 264.8 L209.8 264.8 L210.1 264.8 L210.4 264.8 L210.6 264.8 L210.9 264.8 L211.2 264.7 L211.5 264.7 L211.8 264.7 L212.1 264.7 L212.4 264.7 L212.6 264.6 L212.9 264.6 L213.2 264.6 L213.5 264.6 L213.8 264.6 L214.1 264.5 L214.4 264.5 L214.6 264.5 L214.9 264.5 L215.2 264.5 L215.5 264.5 L215.8 264.4 L216.1 264.4 L216.4 264.4 L216.6 264.4 L216.9 264.4 L217.2 264.4 L217.5 264.3 L217.8 264.3 L218.1 264.3 L218.4 264.3 L218.6 264.3 L218.9 264.3 L219.2 264.2 L219.5 264.2 L219.8 264.2 L220.1 264.2 L220.4 264.2 L220.6 264.2 L220.9 264.1 L221.2 264.1 L221.5 264.1 L221.8 264.1 L222.1 264.1 L222.4 264.1 L222.7 264.1 L222.9 264.1 L223.2 264.0 L223.5 264.0 L223.8 264.0 L224.1 264.0 L224.4 264.0 L224.7 264.0 L224.9 264.0 L225.2 264.0 L225.5 264.0 L225.8 263.9 L226.1 263.9 L226.4 263.9 L226.7 263.9 L226.9 263.9 L227.2 263.9 L227.5 263.9 L227.8 263.9 L228.1 263.9 L228.4 263.9 L228.7 263.9 L228.9 263.8 L229.2 263.8 L229.5 263.8 L229.8 263.8" fill="none" stroke="#86a44a" stroke-width="1.0"/>
<path d="M102.3 257.0 L108.2 245.2 L118.9 235.7 L126.5 238.2 L132.4 240.9 L137.2 243.1 L141.3 244.8 L144.8 246.1 L147.9 247.1 L150.7 247.9 L153.2 248.8 L155.5 249.6 L157.6 250.5 L159.6 251.4 L161.4 252.2 L163.1 253.1 L164.7 254.1 L166.2 255.0 L167.6 255.9 L169.0 256.9 L170.3 257.9 L171.5 258.7 L172.7 259.5 L173.8 260.2 L174.9 260.9 L175.9 261.5 L176.9 261.9 L177.9 262.2 L178.8 262.5 L179.7 262.7 L180.6 262.9 L181.4 263.1 L182.2 263.2 L183.0 263.4 L183.8 263.5 L184.5 263.7 L185.2 263.8 L185.9 264.0 L186.6 264.1 L187.3 264.2 L188.0 264.3 L188.6 264.4 L189.2 264.5 L189.8 264.5 L190.4 264.6 L191.0 264.7 L191.6 264.7 L192.1 264.8 L192.7 264.8 L193.2 264.9 L193.7 264.9 L194.2 264.9 L194.7 264.9 L195.2 265.0 L195.7 265.0 L196.2 265.0 L196.7 265.0 L197.1 265.1 L197.6 265.1 L198.0 265.1 L198.4 265.1 L198.9 265.1 L199.3 265.1 L199.7 265.1 L200.1 265.1 L200.5 265.1 L200.9 265.1 L201.3 265.1 L201.7 265.1 L202.1 265.1 L202.5 265.1 L202.8 265.1 L203.2 265.1 L203.5 265.1 L203.9 265.0 L204.3 265.0 L204.6 265.0 L204.9 265.0 L205.3 265.0 L205.6 265.0 L205.9 265.0 L206.3 265.0 L206.6 265.0 L206.9 265.0 L207.2 264.9 L207.5 264.9 L207.8 264.9 L208.1 264.9 L208.4 264.9 L208.7 264.9 L209.0 264.9 L209.3 264.9 L209.6 264.8 L209.9 264.8 L210.1 264.8 L210.4 264.8 L210.7 264.8 L211.0 264.7 L211.2 264.7 L211.5 264.7 L211.8 264.7 L212.0 264.7 L212.3 264.7 L212.5 264.6 L212.8 264.6 L213.0 264.6 L213.3 264.6 L213.5 264.6 L213.8 264.6 L214.0 264.6 L214.3 264.5 L214.5 264.5 L214.7 264.5 L215.0 264.5 L215.2 264.5 L215.4 264.5 L215.6 264.5 L215.9 264.4 L216.1 264.4 L216.3 264.4 L216.5 264.4 L216.7 264.4 L217.0 264.4 L217.2 264.4 L217.4 264.3 L217.6 264.3 L217.8 264.3 L218.0 264.3 L218.2 264.3 L218.4 264.3 L218.6 264.3 L218.8 264.3 L219.0 264.2 L219.2 264.2 L219.4 264.2 L219.6 264.2 L219.8 264.2 L220.0 264.2 L220.2 264.2 L220.4 264.2 L220.6 264.2 L220.8 264.2 L220.9 264.1 L221.1 264.1 L221.3 264.1 L221.5 264.1 L221.7 264.1 L221.8 264.1 L222.0 264.1 L222.2 264.1 L222.4 264.1 L222.6 264.1 L222.7 264.1 L222.9 264.1 L223.1 264.0 L223.2 264.0 L223.4 264.0 L223.6 264.0 L223.7 264.0 L223.9 264.0 L224.1 264.0 L224.2 264.0 L224.4 264.0 L224.6 264.0 L224.7 264.0 L224.9 264.0 L225.0 264.0 L225.2 264.0 L225.4 264.0 L225.5 264.0 L225.7 263.9 L225.8 263.9 L226.0 263.9 L226.1 263.9 L226.3 263.9 L226.4 263.9 L226.6 263.9 L226.7 263.9 L226.9 263.9 L227.0 263.9 L227.2 263.9 L227.3 263.9 L227.5 263.9 L227.6 263.9 L227.7 263.9 L227.9 263.9 L228.0 263.9 L228.2 263.9 L228.3 263.9 L228.4 263.9 L228.6 263.9 L228.7 263.9 L228.9 263.8 L229.0 263.8 L229.1 263.8 L229.3 263.8 L229.4 263.8 L229.5 263.8 L229.7 263.8 L229.8 263.8" fill="none" stroke="none" marker-start="url(#m1)" marker-mid="url(#m1)" marker-end="url(#m1)"/>
</g>
<defs>
<marker id="m2" markerUnits="userSpaceOnUse" markerWidth="12" markerHeight="12" refX="0" refY="0" viewBox="-6 -6 12 12" overflow="visible"><rect x="-1.62" y="-1.62" width="3.24" height="3.24" fill="#d0d0d0" stroke="#1a1a1a" stroke-width="0.9"/></marker>
</defs>
<g clip-path="url(#cd)">
<path d="M87.1 362.7 L87.4 358.6 L87.7 354.6 L88.0 350.7 L88.3 347.0 L88.5 343.3 L88.8 339.8 L89.1 336.5 L89.4 333.4 L89.7 330.6 L90.0 327.9 L90.3 325.5 L90.5 323.2 L90.8 320.9 L91.1 318.8 L91.4 316.8 L91.7 314.8 L92.0 312.9 L92.3 311.1 L92.5 309.3 L92.8 307.6 L93.1 305.8 L93.4 304.1 L93.7 302.4 L94.0 300.6 L94.3 298.9 L94.5 297.1 L94.8 295.2 L95.1 293.3 L95.4 291.4 L95.7 289.5 L96.0 287.7 L96.3 285.8 L96.6 283.9 L96.8 282.1 L97.1 280.2 L97.4 278.4 L97.7 276.7 L98.0 275.0 L98.3 273.3 L98.6 271.7 L98.8 270.2 L99.1 268.7 L99.4 267.2 L99.7 265.7 L100.0 264.2 L100.3 262.8 L100.6 261.4 L100.8 260.1 L101.1 258.8 L101.4 257.6 L101.7 256.4 L102.0 255.3 L102.3 254.3 L102.6 253.4 L102.8 252.4 L103.1 251.5 L103.4 250.6 L103.7 249.7 L104.0 248.8 L104.3 248.0 L104.6 247.2 L104.8 246.4 L105.1 245.6 L105.4 244.9 L105.7 244.2 L106.0 243.5 L106.3 242.8 L106.6 242.2 L106.8 241.6 L107.1 241.0 L107.4 240.5 L107.7 240.0 L108.0 239.6 L108.3 239.2 L108.6 238.8 L108.8 238.4 L109.1 238.0 L109.4 237.6 L109.7 237.3 L110.0 236.9 L110.3 236.5 L110.6 236.1 L110.8 235.8 L111.1 235.4 L111.4 235.1 L111.7 234.7 L112.0 234.4 L112.3 234.1 L112.6 233.7 L112.9 233.4 L113.1 233.1 L113.4 232.8 L113.7 232.5 L114.0 232.3 L114.3 232.0 L114.6 231.8 L114.9 231.5 L115.1 231.3 L115.4 231.1 L115.7 230.9 L116.0 230.7 L116.3 230.6 L116.6 230.4 L116.9 230.3 L117.1 230.1 L117.4 230.0 L117.7 230.0 L118.0 229.9 L118.3 229.8 L118.6 229.8 L118.9 229.8 L119.1 229.8 L119.4 229.8 L119.7 229.8 L120.0 229.9 L120.3 229.9 L120.6 230.0 L120.9 230.1 L121.1 230.1 L121.4 230.2 L121.7 230.3 L122.0 230.4 L122.3 230.5 L122.6 230.6 L122.9 230.7 L123.1 230.8 L123.4 231.0 L123.7 231.1 L124.0 231.2 L124.3 231.3 L124.6 231.5 L124.9 231.6 L125.1 231.7 L125.4 231.9 L125.7 232.0 L126.0 232.1 L126.3 232.3 L126.6 232.4 L126.9 232.5 L127.1 232.6 L127.4 232.8 L127.7 232.9 L128.0 233.1 L128.3 233.3 L128.6 233.4 L128.9 233.6 L129.1 233.8 L129.4 234.0 L129.7 234.1 L130.0 234.3 L130.3 234.5 L130.6 234.7 L130.9 234.9 L131.2 235.0 L131.4 235.2 L131.7 235.4 L132.0 235.5 L132.3 235.7 L132.6 235.8 L132.9 236.0 L133.2 236.1 L133.4 236.3 L133.7 236.4 L134.0 236.6 L134.3 236.7 L134.6 236.9 L134.9 237.0 L135.2 237.1 L135.4 237.3 L135.7 237.4 L136.0 237.6 L136.3 237.7 L136.6 237.8 L136.9 238.0 L137.2 238.1 L137.4 238.3 L137.7 238.4 L138.0 238.6 L138.3 238.7 L138.6 238.9 L138.9 239.0 L139.2 239.2 L139.4 239.3 L139.7 239.5 L140.0 239.6 L140.3 239.8 L140.6 239.9 L140.9 240.1 L141.2 240.2 L141.4 240.4 L141.7 240.5 L142.0 240.7 L142.3 240.9 L142.6 241.0 L142.9 241.2 L143.2 241.4 L143.4 241.5 L143.7 241.7 L144.0 241.8 L144.3 241.9 L144.6 242.1 L144.9 242.2 L145.2 242.2 L145.4 242.3 L145.7 242.4 L146.0 242.5 L146.3 242.6 L146.6 242.6 L146.9 242.7 L147.2 242.7 L147.4 242.8 L147.7 242.9 L148.0 242.9 L148.3 243.0 L148.6 243.0 L148.9 243.1 L149.2 243.2 L149.5 243.2 L149.7 243.3 L150.0 243.4 L150.3 243.4 L150.6 243.5 L150.9 243.6 L151.2 243.7 L151.5 243.8 L151.7 243.9 L152.0 244.0 L152.3 244.1 L152.6 244.2 L152.9 244.3 L153.2 244.4 L153.5 244.5 L153.7 244.6 L154.0 244.8 L154.3 244.9 L154.6 245.0 L154.9 245.1 L155.2 245.2 L155.5 245.4 L155.7 245.5 L156.0 245.6 L156.3 245.7 L156.6 245.9 L156.9 246.0 L157.2 246.1 L157.5 246.3 L157.7 246.4 L158.0 246.5 L158.3 246.7 L158.6 246.8 L158.9 247.0 L159.2 247.1 L159.5 247.3 L159.7 247.4 L160.0 247.5 L160.3 247.7 L160.6 247.8 L160.9 248.0 L161.2 248.2 L161.5 248.3 L161.7 248.5 L162.0 248.6 L162.3 248.8 L162.6 249.0 L162.9 249.1 L163.2 249.3 L163.5 249.5 L163.7 249.6 L164.0 249.8 L164.3 250.0 L164.6 250.1 L164.9 250.3 L165.2 250.5 L165.5 250.7 L165.7 250.9 L166.0 251.0 L166.3 251.2 L166.6 251.4 L166.9 251.6 L167.2 251.8 L167.5 252.0 L167.8 252.2 L168.0 252.4 L168.3 252.6 L168.6 252.8 L168.9 253.0 L169.2 253.2 L169.5 253.4 L169.8 253.6 L170.0 253.8 L170.3 254.0 L170.6 254.2 L170.9 254.4 L171.2 254.6 L171.5 254.8 L171.8 255.0 L172.0 255.2 L172.3 255.4 L172.6 255.7 L172.9 255.9 L173.2 256.1 L173.5 256.3 L173.8 256.5 L174.0 256.7 L174.3 256.9 L174.6 257.1 L174.9 257.4 L175.2 257.6 L175.5 257.8 L175.8 258.0 L176.0 258.2 L176.3 258.4 L176.6 258.5 L176.9 258.7 L177.2 258.9 L177.5 259.1 L177.8 259.3 L178.0 259.4 L178.3 259.6 L178.6 259.8 L178.9 259.9 L179.2 260.1 L179.5 260.3 L179.8 260.4 L180.0 260.6 L180.3 260.7 L180.6 260.9 L180.9 261.0 L181.2 261.2 L181.5 261.3 L181.8 261.4 L182.0 261.6 L182.3 261.7 L182.6 261.8 L182.9 261.9 L183.2 262.0 L183.5 262.1 L183.8 262.3 L184.0 262.4 L184.3 262.5 L184.6 262.6 L184.9 262.7 L185.2 262.8 L185.5 262.9 L185.8 263.0 L186.1 263.1 L186.3 263.2 L186.6 263.2 L186.9 263.3 L187.2 263.4 L187.5 263.5 L187.8 263.6 L188.1 263.6 L188.3 263.7 L188.6 263.8 L188.9 263.9 L189.2 263.9 L189.5 264.0 L189.8 264.1 L190.1 264.1 L190.3 264.2 L190.6 264.2 L190.9 264.3 L191.2 264.4 L191.5 264.4 L191.8 264.4 L192.1 264.5 L192.3 264.5 L192.6 264.5 L192.9 264.6 L193.2 264.6 L193.5 264.6 L193.8 264.6 L194.1 264.6 L194.3 264.6 L194.6 264.7 L194.9 264.7 L195.2 264.7 L195.5 264.7 L195.8 264.7 L196.1 264.7 L196.3 264.7 L196.6 264.8 L196.9 264.8 L197.2 264.8 L197.5 264.8 L197.8 264.8 L198.1 264.8 L198.3 264.8 L198.6 264.8 L198.9 264.8 L199.2 264.8 L199.5 264.8 L199.8 264.8 L200.1 264.8 L200.3 264.8 L200.6 264.8 L200.9 264.8 L201.2 264.8 L201.5 264.8 L201.8 264.8 L202.1 264.8 L202.3 264.8 L202.6 264.8 L202.9 264.8 L203.2 264.8 L203.5 264.8 L203.8 264.8 L204.1 264.8 L204.4 264.8 L204.6 264.8 L204.9 264.8 L205.2 264.8 L205.5 264.8 L205.8 264.8 L206.1 264.8 L206.4 264.8 L206.6 264.8 L206.9 264.7 L207.2 264.7 L207.5 264.7 L207.8 264.7 L208.1 264.7 L208.4 264.7 L208.6 264.7 L208.9 264.7 L209.2 264.6 L209.5 264.6 L209.8 264.6 L210.1 264.6 L210.4 264.6 L210.6 264.5 L210.9 264.5 L211.2 264.5 L211.5 264.5 L211.8 264.4 L212.1 264.4 L212.4 264.4 L212.6 264.4 L212.9 264.3 L213.2 264.3 L213.5 264.3 L213.8 264.3 L214.1 264.3 L214.4 264.2 L214.6 264.2 L214.9 264.2 L215.2 264.2 L215.5 264.2 L215.8 264.2 L216.1 264.2 L216.4 264.1 L216.6 264.1 L216.9 264.1 L217.2 264.1 L217.5 264.1 L217.8 264.1 L218.1 264.0 L218.4 264.0 L218.6 264.0 L218.9 264.0 L219.2 264.0 L219.5 264.0 L219.8 264.0 L220.1 264.0 L220.4 263.9 L220.6 263.9 L220.9 263.9 L221.2 263.9 L221.5 263.9 L221.8 263.9 L222.1 263.9 L222.4 263.9 L222.7 263.9 L222.9 263.9 L223.2 263.8 L223.5 263.8 L223.8 263.8 L224.1 263.8 L224.4 263.8 L224.7 263.8 L224.9 263.8 L225.2 263.8 L225.5 263.8 L225.8 263.8 L226.1 263.8 L226.4 263.8 L226.7 263.7 L226.9 263.7 L227.2 263.7 L227.5 263.7 L227.8 263.7 L228.1 263.7 L228.4 263.7 L228.7 263.7 L228.9 263.7 L229.2 263.7 L229.5 263.7 L229.8 263.7" fill="none" stroke="#1a1a1a" stroke-width="1.0"/>
<path d="M102.3 254.2 L108.2 239.3 L118.9 229.8 L126.5 232.3 L132.4 235.7 L137.2 238.2 L141.3 240.3 L144.8 242.1 L147.9 242.9 L150.7 243.5 L153.2 244.4 L155.5 245.4 L157.6 246.3 L159.6 247.3 L161.4 248.3 L163.1 249.2 L164.7 250.2 L166.2 251.2 L167.6 252.1 L169.0 253.1 L170.3 254.0 L171.5 254.9 L172.7 255.7 L173.8 256.5 L174.9 257.3 L175.9 258.1 L176.9 258.7 L177.9 259.3 L178.8 259.9 L179.7 260.4 L180.6 260.8 L181.4 261.3 L182.2 261.6 L183.0 262.0 L183.8 262.3 L184.5 262.5 L185.2 262.8 L185.9 263.0 L186.6 263.3 L187.3 263.4 L188.0 263.6 L188.6 263.8 L189.2 263.9 L189.8 264.1 L190.4 264.2 L191.0 264.3 L191.6 264.4 L192.1 264.5 L192.7 264.5 L193.2 264.6 L193.7 264.6 L194.2 264.6 L194.7 264.7 L195.2 264.7 L195.7 264.7 L196.2 264.7 L196.7 264.8 L197.1 264.8 L197.6 264.8 L198.0 264.8 L198.4 264.8 L198.9 264.8 L199.3 264.8 L199.7 264.8 L200.1 264.8 L200.5 264.8 L200.9 264.8 L201.3 264.8 L201.7 264.8 L202.1 264.8 L202.5 264.8 L202.8 264.8 L203.2 264.8 L203.5 264.8 L203.9 264.8 L204.3 264.8 L204.6 264.8 L204.9 264.8 L205.3 264.8 L205.6 264.8 L205.9 264.8 L206.3 264.8 L206.6 264.8 L206.9 264.7 L207.2 264.7 L207.5 264.7 L207.8 264.7 L208.1 264.7 L208.4 264.7 L208.7 264.7 L209.0 264.7 L209.3 264.6 L209.6 264.6 L209.9 264.6 L210.1 264.6 L210.4 264.5 L210.7 264.5 L211.0 264.5 L211.2 264.5 L211.5 264.5 L211.8 264.4 L212.0 264.4 L212.3 264.4 L212.5 264.4 L212.8 264.4 L213.0 264.3 L213.3 264.3 L213.5 264.3 L213.8 264.3 L214.0 264.3 L214.3 264.3 L214.5 264.2 L214.7 264.2 L215.0 264.2 L215.2 264.2 L215.4 264.2 L215.6 264.2 L215.9 264.2 L216.1 264.2 L216.3 264.1 L216.5 264.1 L216.7 264.1 L217.0 264.1 L217.2 264.1 L217.4 264.1 L217.6 264.1 L217.8 264.1 L218.0 264.1 L218.2 264.0 L218.4 264.0 L218.6 264.0 L218.8 264.0 L219.0 264.0 L219.2 264.0 L219.4 264.0 L219.6 264.0 L219.8 264.0 L220.0 264.0 L220.2 264.0 L220.4 263.9 L220.6 263.9 L220.8 263.9 L220.9 263.9 L221.1 263.9 L221.3 263.9 L221.5 263.9 L221.7 263.9 L221.8 263.9 L222.0 263.9 L222.2 263.9 L222.4 263.9 L222.6 263.9 L222.7 263.9 L222.9 263.9 L223.1 263.8 L223.2 263.8 L223.4 263.8 L223.6 263.8 L223.7 263.8 L223.9 263.8 L224.1 263.8 L224.2 263.8 L224.4 263.8 L224.6 263.8 L224.7 263.8 L224.9 263.8 L225.0 263.8 L225.2 263.8 L225.4 263.8 L225.5 263.8 L225.7 263.8 L225.8 263.8 L226.0 263.8 L226.1 263.8 L226.3 263.8 L226.4 263.8 L226.6 263.7 L226.7 263.7 L226.9 263.7 L227.0 263.7 L227.2 263.7 L227.3 263.7 L227.5 263.7 L227.6 263.7 L227.7 263.7 L227.9 263.7 L228.0 263.7 L228.2 263.7 L228.3 263.7 L228.4 263.7 L228.6 263.7 L228.7 263.7 L228.9 263.7 L229.0 263.7 L229.1 263.7 L229.3 263.7 L229.4 263.7 L229.5 263.7 L229.7 263.7 L229.8 263.7" fill="none" stroke="none" marker-start="url(#m2)" marker-mid="url(#m2)" marker-end="url(#m2)"/>
</g>
<defs>
<marker id="m3" markerUnits="userSpaceOnUse" markerWidth="12" markerHeight="12" refX="0" refY="0" viewBox="-6 -6 12 12" overflow="visible"><circle r="1.80" fill="#ee7462" stroke="#dc3b2a" stroke-width="0.9"/></marker>
</defs>
<g clip-path="url(#cd)">
<path d="M87.1 362.7 L87.4 358.4 L87.7 354.3 L88.0 350.3 L88.3 346.3 L88.5 342.5 L88.8 338.9 L89.1 335.4 L89.4 332.2 L89.7 329.2 L90.0 326.5 L90.3 323.9 L90.5 321.5 L90.8 319.1 L91.1 316.9 L91.4 314.7 L91.7 312.7 L92.0 310.7 L92.3 308.7 L92.5 306.8 L92.8 305.0 L93.1 303.2 L93.4 301.4 L93.7 299.6 L94.0 297.8 L94.3 296.0 L94.5 294.2 L94.8 292.4 L95.1 290.6 L95.4 288.8 L95.7 287.0 L96.0 285.2 L96.3 283.5 L96.6 281.8 L96.8 280.1 L97.1 278.4 L97.4 276.7 L97.7 275.1 L98.0 273.5 L98.3 271.9 L98.6 270.3 L98.8 268.8 L99.1 267.2 L99.4 265.7 L99.7 264.1 L100.0 262.6 L100.3 261.1 L100.6 259.6 L100.8 258.1 L101.1 256.7 L101.4 255.4 L101.7 254.0 L102.0 252.8 L102.3 251.6 L102.6 250.5 L102.8 249.4 L103.1 248.3 L103.4 247.2 L103.7 246.1 L104.0 245.0 L104.3 243.9 L104.6 242.9 L104.8 241.9 L105.1 240.9 L105.4 240.0 L105.7 239.0 L106.0 238.2 L106.3 237.3 L106.6 236.5 L106.8 235.8 L107.1 235.1 L107.4 234.5 L107.7 233.9 L108.0 233.4 L108.3 232.9 L108.6 232.5 L108.8 232.1 L109.1 231.7 L109.4 231.3 L109.7 230.9 L110.0 230.5 L110.3 230.1 L110.6 229.7 L110.8 229.3 L111.1 228.9 L111.4 228.6 L111.7 228.2 L112.0 227.9 L112.3 227.5 L112.6 227.2 L112.9 226.9 L113.1 226.6 L113.4 226.3 L113.7 226.0 L114.0 225.7 L114.3 225.5 L114.6 225.2 L114.9 225.0 L115.1 224.8 L115.4 224.6 L115.7 224.4 L116.0 224.2 L116.3 224.0 L116.6 223.9 L116.9 223.7 L117.1 223.6 L117.4 223.5 L117.7 223.4 L118.0 223.4 L118.3 223.3 L118.6 223.3 L118.9 223.3 L119.1 223.3 L119.4 223.3 L119.7 223.3 L120.0 223.4 L120.3 223.4 L120.6 223.5 L120.9 223.6 L121.1 223.7 L121.4 223.8 L121.7 223.9 L122.0 224.0 L122.3 224.1 L122.6 224.2 L122.9 224.4 L123.1 224.5 L123.4 224.7 L123.7 224.8 L124.0 225.0 L124.3 225.1 L124.6 225.3 L124.9 225.4 L125.1 225.6 L125.4 225.7 L125.7 225.9 L126.0 226.0 L126.3 226.1 L126.6 226.3 L126.9 226.4 L127.1 226.6 L127.4 226.7 L127.7 226.9 L128.0 227.0 L128.3 227.2 L128.6 227.4 L128.9 227.6 L129.1 227.7 L129.4 227.9 L129.7 228.1 L130.0 228.3 L130.3 228.4 L130.6 228.6 L130.9 228.8 L131.2 229.0 L131.4 229.2 L131.7 229.4 L132.0 229.6 L132.3 229.7 L132.6 229.9 L132.9 230.1 L133.2 230.3 L133.4 230.5 L133.7 230.6 L134.0 230.8 L134.3 231.0 L134.6 231.2 L134.9 231.4 L135.2 231.6 L135.4 231.8 L135.7 232.0 L136.0 232.1 L136.3 232.3 L136.6 232.5 L136.9 232.7 L137.2 232.9 L137.4 233.1 L137.7 233.2 L138.0 233.4 L138.3 233.6 L138.6 233.8 L138.9 234.0 L139.2 234.1 L139.4 234.3 L139.7 234.5 L140.0 234.7 L140.3 234.8 L140.6 235.0 L140.9 235.2 L141.2 235.4 L141.4 235.6 L141.7 235.8 L142.0 235.9 L142.3 236.1 L142.6 236.3 L142.9 236.5 L143.2 236.7 L143.4 236.9 L143.7 237.1 L144.0 237.3 L144.3 237.4 L144.6 237.6 L144.9 237.8 L145.2 237.9 L145.4 238.1 L145.7 238.2 L146.0 238.4 L146.3 238.6 L146.6 238.7 L146.9 238.8 L147.2 239.0 L147.4 239.1 L147.7 239.3 L148.0 239.4 L148.3 239.6 L148.6 239.7 L148.9 239.8 L149.2 240.0 L149.5 240.1 L149.7 240.2 L150.0 240.4 L150.3 240.5 L150.6 240.7 L150.9 240.8 L151.2 240.9 L151.5 241.1 L151.7 241.2 L152.0 241.3 L152.3 241.5 L152.6 241.6 L152.9 241.7 L153.2 241.9 L153.5 242.0 L153.7 242.1 L154.0 242.3 L154.3 242.4 L154.6 242.5 L154.9 242.7 L155.2 242.8 L155.5 243.0 L155.7 243.1 L156.0 243.2 L156.3 243.4 L156.6 243.5 L156.9 243.7 L157.2 243.8 L157.5 244.0 L157.7 244.1 L158.0 244.3 L158.3 244.4 L158.6 244.6 L158.9 244.7 L159.2 244.9 L159.5 245.1 L159.7 245.2 L160.0 245.4 L160.3 245.5 L160.6 245.7 L160.9 245.9 L161.2 246.0 L161.5 246.2 L161.7 246.4 L162.0 246.5 L162.3 246.7 L162.6 246.9 L162.9 247.0 L163.2 247.2 L163.5 247.4 L163.7 247.6 L164.0 247.7 L164.3 247.9 L164.6 248.1 L164.9 248.3 L165.2 248.5 L165.5 248.7 L165.7 248.8 L166.0 249.0 L166.3 249.2 L166.6 249.4 L166.9 249.6 L167.2 249.8 L167.5 250.0 L167.8 250.3 L168.0 250.5 L168.3 250.7 L168.6 250.9 L168.9 251.1 L169.2 251.3 L169.5 251.6 L169.8 251.8 L170.0 252.0 L170.3 252.2 L170.6 252.5 L170.9 252.7 L171.2 252.9 L171.5 253.1 L171.8 253.3 L172.0 253.5 L172.3 253.8 L172.6 254.0 L172.9 254.2 L173.2 254.4 L173.5 254.6 L173.8 254.8 L174.0 255.1 L174.3 255.3 L174.6 255.5 L174.9 255.7 L175.2 255.9 L175.5 256.1 L175.8 256.3 L176.0 256.6 L176.3 256.8 L176.6 257.0 L176.9 257.2 L177.2 257.3 L177.5 257.5 L177.8 257.7 L178.0 257.9 L178.3 258.1 L178.6 258.3 L178.9 258.5 L179.2 258.7 L179.5 258.9 L179.8 259.1 L180.0 259.3 L180.3 259.4 L180.6 259.6 L180.9 259.8 L181.2 259.9 L181.5 260.1 L181.8 260.3 L182.0 260.4 L182.3 260.5 L182.6 260.7 L182.9 260.8 L183.2 260.9 L183.5 261.1 L183.8 261.2 L184.0 261.3 L184.3 261.4 L184.6 261.5 L184.9 261.7 L185.2 261.8 L185.5 261.9 L185.8 262.0 L186.1 262.1 L186.3 262.2 L186.6 262.3 L186.9 262.4 L187.2 262.5 L187.5 262.5 L187.8 262.6 L188.1 262.7 L188.3 262.8 L188.6 262.9 L188.9 263.0 L189.2 263.1 L189.5 263.1 L189.8 263.2 L190.1 263.3 L190.3 263.4 L190.6 263.4 L190.9 263.5 L191.2 263.6 L191.5 263.6 L191.8 263.7 L192.1 263.7 L192.3 263.8 L192.6 263.8 L192.9 263.9 L193.2 263.9 L193.5 263.9 L193.8 263.9 L194.1 264.0 L194.3 264.0 L194.6 264.0 L194.9 264.1 L195.2 264.1 L195.5 264.1 L195.8 264.1 L196.1 264.2 L196.3 264.2 L196.6 264.2 L196.9 264.2 L197.2 264.2 L197.5 264.3 L197.8 264.3 L198.1 264.3 L198.3 264.3 L198.6 264.3 L198.9 264.3 L199.2 264.3 L199.5 264.3 L199.8 264.3 L200.1 264.3 L200.3 264.3 L200.6 264.3 L200.9 264.3 L201.2 264.3 L201.5 264.3 L201.8 264.3 L202.1 264.3 L202.3 264.3 L202.6 264.3 L202.9 264.3 L203.2 264.3 L203.5 264.3 L203.8 264.3 L204.1 264.3 L204.4 264.3 L204.6 264.3 L204.9 264.3 L205.2 264.3 L205.5 264.3 L205.8 264.3 L206.1 264.3 L206.4 264.3 L206.6 264.3 L206.9 264.3 L207.2 264.2 L207.5 264.2 L207.8 264.2 L208.1 264.2 L208.4 264.2 L208.6 264.2 L208.9 264.2 L209.2 264.1 L209.5 264.1 L209.8 264.1 L210.1 264.1 L210.4 264.0 L210.6 264.0 L210.9 264.0 L211.2 263.9 L211.5 263.9 L211.8 263.9 L212.1 263.9 L212.4 263.8 L212.6 263.8 L212.9 263.8 L213.2 263.8 L213.5 263.7 L213.8 263.7 L214.1 263.7 L214.4 263.7 L214.6 263.7 L214.9 263.6 L215.2 263.6 L215.5 263.6 L215.8 263.6 L216.1 263.6 L216.4 263.6 L216.6 263.6 L216.9 263.5 L217.2 263.5 L217.5 263.5 L217.8 263.5 L218.1 263.5 L218.4 263.5 L218.6 263.4 L218.9 263.4 L219.2 263.4 L219.5 263.4 L219.8 263.4 L220.1 263.4 L220.4 263.4 L220.6 263.4 L220.9 263.4 L221.2 263.3 L221.5 263.3 L221.8 263.3 L222.1 263.3 L222.4 263.3 L222.7 263.3 L222.9 263.3 L223.2 263.3 L223.5 263.3 L223.8 263.3 L224.1 263.3 L224.4 263.2 L224.7 263.2 L224.9 263.2 L225.2 263.2 L225.5 263.2 L225.8 263.2 L226.1 263.2 L226.4 263.2 L226.7 263.2 L226.9 263.2 L227.2 263.2 L227.5 263.2 L227.8 263.2 L228.1 263.2 L228.4 263.2 L228.7 263.2 L228.9 263.2 L229.2 263.2 L229.5 263.1 L229.8 263.1" fill="none" stroke="#dc3b2a" stroke-width="1.0"/>
<path d="M102.3 251.5 L108.2 233.1 L118.9 223.3 L126.5 226.2 L132.4 229.8 L137.2 232.9 L141.3 235.5 L144.8 237.7 L147.9 239.4 L150.7 240.7 L153.2 241.9 L155.5 243.0 L157.6 244.1 L159.6 245.1 L161.4 246.2 L163.1 247.2 L164.7 248.2 L166.2 249.2 L167.6 250.2 L169.0 251.2 L170.3 252.2 L171.5 253.2 L172.7 254.0 L173.8 254.9 L174.9 255.7 L175.9 256.5 L176.9 257.2 L177.9 257.8 L178.8 258.4 L179.7 259.0 L180.6 259.6 L181.4 260.1 L182.2 260.5 L183.0 260.9 L183.8 261.2 L184.5 261.5 L185.2 261.8 L185.9 262.0 L186.6 262.3 L187.3 262.5 L188.0 262.7 L188.6 262.9 L189.2 263.1 L189.8 263.2 L190.4 263.4 L191.0 263.5 L191.6 263.7 L192.1 263.8 L192.7 263.8 L193.2 263.9 L193.7 263.9 L194.2 264.0 L194.7 264.0 L195.2 264.1 L195.7 264.1 L196.2 264.2 L196.7 264.2 L197.1 264.2 L197.6 264.3 L198.0 264.3 L198.4 264.3 L198.9 264.3 L199.3 264.3 L199.7 264.3 L200.1 264.3 L200.5 264.3 L200.9 264.3 L201.3 264.3 L201.7 264.3 L202.1 264.3 L202.5 264.3 L202.8 264.3 L203.2 264.3 L203.5 264.3 L203.9 264.3 L204.3 264.3 L204.6 264.3 L204.9 264.3 L205.3 264.3 L205.6 264.3 L205.9 264.3 L206.3 264.3 L206.6 264.3 L206.9 264.3 L207.2 264.2 L207.5 264.2 L207.8 264.2 L208.1 264.2 L208.4 264.2 L208.7 264.2 L209.0 264.1 L209.3 264.1 L209.6 264.1 L209.9 264.1 L210.1 264.0 L210.4 264.0 L210.7 264.0 L211.0 264.0 L211.2 263.9 L211.5 263.9 L211.8 263.9 L212.0 263.9 L212.3 263.8 L212.5 263.8 L212.8 263.8 L213.0 263.8 L213.3 263.8 L213.5 263.7 L213.8 263.7 L214.0 263.7 L214.3 263.7 L214.5 263.7 L214.7 263.7 L215.0 263.6 L215.2 263.6 L215.4 263.6 L215.6 263.6 L215.9 263.6 L216.1 263.6 L216.3 263.6 L216.5 263.6 L216.7 263.5 L217.0 263.5 L217.2 263.5 L217.4 263.5 L217.6 263.5 L217.8 263.5 L218.0 263.5 L218.2 263.5 L218.4 263.5 L218.6 263.4 L218.8 263.4 L219.0 263.4 L219.2 263.4 L219.4 263.4 L219.6 263.4 L219.8 263.4 L220.0 263.4 L220.2 263.4 L220.4 263.4 L220.6 263.4 L220.8 263.4 L220.9 263.4 L221.1 263.3 L221.3 263.3 L221.5 263.3 L221.7 263.3 L221.8 263.3 L222.0 263.3 L222.2 263.3 L222.4 263.3 L222.6 263.3 L222.7 263.3 L222.9 263.3 L223.1 263.3 L223.2 263.3 L223.4 263.3 L223.6 263.3 L223.7 263.3 L223.9 263.3 L224.1 263.3 L224.2 263.3 L224.4 263.2 L224.6 263.2 L224.7 263.2 L224.9 263.2 L225.0 263.2 L225.2 263.2 L225.4 263.2 L225.5 263.2 L225.7 263.2 L225.8 263.2 L226.0 263.2 L226.1 263.2 L226.3 263.2 L226.4 263.2 L226.6 263.2 L226.7 263.2 L226.9 263.2 L227.0 263.2 L227.2 263.2 L227.3 263.2 L227.5 263.2 L227.6 263.2 L227.7 263.2 L227.9 263.2 L228.0 263.2 L228.2 263.2 L228.3 263.2 L228.4 263.2 L228.6 263.2 L228.7 263.2 L228.9 263.2 L229.0 263.2 L229.1 263.2 L229.3 263.2 L229.4 263.1 L229.5 263.1 L229.7 263.1 L229.8 263.1" fill="none" stroke="none" marker-start="url(#m3)" marker-mid="url(#m3)" marker-end="url(#m3)"/>
</g>
<g clip-path="url(#cd)"><path d="M87.7 354.2 L87.9 351.1 L88.1 348.0 L88.4 345.1 L88.6 342.2 L88.8 339.4 L89.0 336.7 L89.2 334.2 L89.4 331.8 L89.7 329.5 L89.9 327.3 L90.1 325.3 L90.3 323.4 L90.5 321.5 L90.8 319.7 L91.0 318.0 L91.2 316.3 L91.4 314.7 L91.6 313.1 L91.9 311.5 L92.1 310.0 L92.3 308.5 L92.5 307.1 L92.7 305.7 L92.9 304.3 L93.2 302.9 L93.4 301.5 L93.6 300.2 L93.8 298.8 L94.0 297.4 L94.3 296.1 L94.5 294.7 L94.7 293.3 L94.9 291.9 L95.1 290.5 L95.4 289.1 L95.6 287.7 L95.8 286.4 L96.0 285.0 L96.2 283.7 L96.4 282.4 L96.7 281.1 L96.9 279.8 L97.1 278.5 L97.3 277.2 L97.5 276.0 L97.8 274.7 L98.0 273.5 L98.2 272.3 L98.4 271.1 L98.6 269.9 L98.9 268.7 L99.1 267.5 L99.3 266.3 L99.5 265.1 L99.7 263.9 L99.9 262.8 L100.2 261.6 L100.4 260.5 L100.6 259.3" fill="none" stroke="#6a4a2a" stroke-width="1.4"/></g>
<line x1="204.50" y1="203.50" x2="212.90" y2="203.50" stroke="#86a44a" stroke-width="1.0"/>
<path d="M208.70 201.31L210.80 205.30L206.60 205.30Z" fill="#c4d89a" stroke="#86a44a" stroke-width="1.0"/>
<text x="217.20" y="207.00" font-size="10" text-anchor="start" fill="#1e1e1e" stroke="#1e1e1e" stroke-width="0.2" font-weight="normal" >45</text>
<line x1="204.50" y1="216.50" x2="212.90" y2="216.50" stroke="#1a1a1a" stroke-width="1.0"/>
<rect x="206.90" y="214.70" width="3.60" height="3.60" fill="#d0d0d0" stroke="#1a1a1a" stroke-width="1.0"/>
<text x="217.20" y="220.00" font-size="10" text-anchor="start" fill="#1e1e1e" stroke="#1e1e1e" stroke-width="0.2" font-weight="normal" >25</text>
<line x1="204.50" y1="229.40" x2="212.90" y2="229.40" stroke="#dc3b2a" stroke-width="1.0"/>
<circle cx="208.70" cy="229.40" r="2.00" fill="#ee7462" stroke="#dc3b2a" stroke-width="1.0"/>
<text x="217.20" y="232.90" font-size="10" text-anchor="start" fill="#1e1e1e" stroke="#1e1e1e" stroke-width="0.2" font-weight="normal" >10</text>
<text x="11.50" y="189.00" font-size="16.5" text-anchor="start" fill="#111" font-weight="bold" >d</text>
<text x="78" y="208" font-size="11.5" fill="#1e1e1e" stroke="#1e1e1e" stroke-width="0.2">CeO<tspan font-size="8.5" dx="-0.4" dy="3">2</tspan></text>
<text x="137.80" y="337.50" font-size="10" text-anchor="middle" fill="#1e1e1e" stroke="#1e1e1e" stroke-width="0.2" font-weight="normal" >Sparation distance between particles (Å)</text>
<text transform="translate(20,256.5) rotate(-90)" font-size="10" text-anchor="middle" fill="#1e1e1e" stroke="#1e1e1e" stroke-width="0.2">Interaction energy (k<tspan font-size="6.5" dy="2.5">B</tspan><tspan dy="-2.5">T)</tspan></text>
<clipPath id="ce"><rect x="264.6" y="193.8" width="190.59999999999997" height="128.0"/></clipPath>
<line x1="264.60" y1="193.80" x2="453.00" y2="193.80" stroke="#3a3a3a" stroke-width="1.2"/>
<line x1="453.00" y1="193.80" x2="453.00" y2="321.80" stroke="#3a3a3a" stroke-width="1.2"/>
<line x1="264.60" y1="193.20" x2="264.60" y2="322.40" stroke="#444" stroke-width="1.4"/>
<line x1="261.10" y1="321.80" x2="453.60" y2="321.80" stroke="#444" stroke-width="1.4"/>
<line x1="264.60" y1="248.80" x2="453.00" y2="248.80" stroke="#787878" stroke-width="1.9"/>
<line x1="261.40" y1="194.05" x2="264.60" y2="194.05" stroke="#444" stroke-width="1.1"/>
<text x="256.40" y="198.15" font-size="10" text-anchor="end" fill="#1e1e1e" stroke="#1e1e1e" stroke-width="0.2" font-weight="normal" >30</text>
<line x1="261.40" y1="212.30" x2="264.60" y2="212.30" stroke="#444" stroke-width="1.1"/>
<text x="256.40" y="216.40" font-size="10" text-anchor="end" fill="#1e1e1e" stroke="#1e1e1e" stroke-width="0.2" font-weight="normal" >20</text>
<line x1="261.40" y1="230.55" x2="264.60" y2="230.55" stroke="#444" stroke-width="1.1"/>
<text x="256.40" y="234.65" font-size="10" text-anchor="end" fill="#1e1e1e" stroke="#1e1e1e" stroke-width="0.2" font-weight="normal" >10</text>
<line x1="261.40" y1="248.80" x2="264.60" y2="248.80" stroke="#444" stroke-width="1.1"/>
<text x="256.40" y="252.90" font-size="10" text-anchor="end" fill="#1e1e1e" stroke="#1e1e1e" stroke-width="0.2" font-weight="normal" >0</text>
<line x1="261.40" y1="267.05" x2="264.60" y2="267.05" stroke="#444" stroke-width="1.1"/>
<text x="256.40" y="271.15" font-size="10" text-anchor="end" fill="#1e1e1e" stroke="#1e1e1e" stroke-width="0.2" font-weight="normal" >−10</text>
<line x1="261.40" y1="285.30" x2="264.60" y2="285.30" stroke="#444" stroke-width="1.1"/>
<text x="256.40" y="289.40" font-size="10" text-anchor="end" fill="#1e1e1e" stroke="#1e1e1e" stroke-width="0.2" font-weight="normal" >−20</text>
<line x1="261.40" y1="303.55" x2="264.60" y2="303.55" stroke="#444" stroke-width="1.1"/>
<text x="256.40" y="307.65" font-size="10" text-anchor="end" fill="#1e1e1e" stroke="#1e1e1e" stroke-width="0.2" font-weight="normal" >−30</text>
<line x1="261.40" y1="321.80" x2="264.60" y2="321.80" stroke="#444" stroke-width="1.1"/>
<text x="256.40" y="325.90" font-size="10" text-anchor="end" fill="#1e1e1e" stroke="#1e1e1e" stroke-width="0.2" font-weight="normal" >−40</text>
<text x="327.40" y="267.70" font-size="10" text-anchor="middle" fill="#1e1e1e" stroke="#1e1e1e" stroke-width="0.2" font-weight="normal" >10</text>
<text x="390.20" y="267.70" font-size="10" text-anchor="middle" fill="#1e1e1e" stroke="#1e1e1e" stroke-width="0.2" font-weight="normal" >100</text>
<text x="451.60" y="267.70" font-size="10" text-anchor="middle" fill="#1e1e1e" stroke="#1e1e1e" stroke-width="0.2" font-weight="normal" >1,000</text>
<defs>
<marker id="m4" markerUnits="userSpaceOnUse" markerWidth="12" markerHeight="12" refX="0" refY="0" viewBox="-6 -6 12 12" overflow="visible"><path d="M0 -1.58L1.60 1.30L-1.60 1.30Z" fill="#c4d89a" stroke="#86a44a" stroke-width="0.9"/></marker>
</defs>
<g clip-path="url(#ce)">
<path d="M298.8 413.1 L299.1 404.9 L299.4 396.9 L299.7 389.0 L300.0 381.2 L300.3 373.7 L300.6 366.5 L300.9 359.5 L301.2 352.8 L301.5 346.5 L301.9 340.5 L302.2 335.0 L302.5 329.8 L302.8 324.9 L303.1 320.0 L303.4 315.1 L303.7 310.4 L304.0 305.7 L304.3 301.1 L304.6 296.6 L304.9 292.3 L305.3 288.1 L305.6 284.1 L305.9 280.3 L306.2 276.7 L306.5 273.4 L306.8 270.2 L307.1 267.3 L307.4 264.7 L307.7 262.4 L308.0 260.3 L308.3 258.6 L308.7 257.2 L309.0 255.9 L309.3 254.7 L309.6 253.6 L309.9 252.5 L310.2 251.5 L310.5 250.6 L310.8 249.7 L311.1 248.9 L311.4 248.1 L311.7 247.4 L312.1 246.7 L312.4 246.0 L312.7 245.4 L313.0 244.8 L313.3 244.2 L313.6 243.6 L313.9 243.1 L314.2 242.5 L314.5 242.0 L314.8 241.4 L315.1 240.9 L315.5 240.4 L315.8 239.9 L316.1 239.4 L316.4 238.9 L316.7 238.5 L317.0 238.0 L317.3 237.6 L317.6 237.2 L317.9 236.8 L318.2 236.4 L318.5 236.0 L318.9 235.7 L319.2 235.3 L319.5 235.0 L319.8 234.7 L320.1 234.5 L320.4 234.2 L320.7 234.0 L321.0 233.8 L321.3 233.6 L321.6 233.5 L321.9 233.3 L322.3 233.2 L322.6 233.0 L322.9 232.9 L323.2 232.7 L323.5 232.6 L323.8 232.5 L324.1 232.4 L324.4 232.2 L324.7 232.1 L325.0 232.0 L325.3 231.9 L325.7 231.9 L326.0 231.8 L326.3 231.7 L326.6 231.7 L326.9 231.7 L327.2 231.6 L327.5 231.6 L327.8 231.7 L328.1 231.7 L328.4 231.7 L328.7 231.8 L329.1 231.9 L329.4 232.0 L329.7 232.1 L330.0 232.2 L330.3 232.3 L330.6 232.4 L330.9 232.6 L331.2 232.7 L331.5 232.9 L331.8 233.0 L332.1 233.2 L332.5 233.4 L332.8 233.6 L333.1 233.8 L333.4 234.0 L333.7 234.2 L334.0 234.4 L334.3 234.7 L334.6 234.9 L334.9 235.1 L335.2 235.3 L335.5 235.6 L335.9 235.8 L336.2 236.0 L336.5 236.2 L336.8 236.5 L337.1 236.7 L337.4 236.9 L337.7 237.1 L338.0 237.4 L338.3 237.6 L338.6 237.8 L338.9 238.0 L339.3 238.3 L339.6 238.5 L339.9 238.8 L340.2 239.0 L340.5 239.3 L340.8 239.6 L341.1 239.9 L341.4 240.1 L341.7 240.4 L342.0 240.7 L342.3 241.0 L342.7 241.3 L343.0 241.6 L343.3 241.9 L343.6 242.2 L343.9 242.5 L344.2 242.8 L344.5 243.1 L344.8 243.4 L345.1 243.6 L345.4 243.9 L345.7 244.2 L346.1 244.4 L346.4 244.6 L346.7 244.9 L347.0 245.1 L347.3 245.4 L347.6 245.6 L347.9 245.8 L348.2 246.1 L348.5 246.3 L348.8 246.5 L349.1 246.8 L349.5 247.0 L349.8 247.2 L350.1 247.4 L350.4 247.6 L350.7 247.8 L351.0 248.0 L351.3 248.1 L351.6 248.3 L351.9 248.4 L352.2 248.6 L352.5 248.7 L352.9 248.8 L353.2 248.9 L353.5 249.0 L353.8 249.0 L354.1 249.1 L354.4 249.2 L354.7 249.2 L355.0 249.3 L355.3 249.4 L355.6 249.4 L355.9 249.5 L356.3 249.6 L356.6 249.7 L356.9 249.7 L357.2 249.8 L357.5 249.9 L357.8 250.1 L358.1 250.2 L358.4 250.4 L358.7 250.5 L359.0 250.7 L359.3 250.9 L359.7 251.1 L360.0 251.3 L360.3 251.5 L360.6 251.6 L360.9 251.8 L361.2 251.9 L361.5 252.1 L361.8 252.2 L362.1 252.3 L362.4 252.4 L362.7 252.5 L363.1 252.6 L363.4 252.7 L363.7 252.8 L364.0 252.9 L364.3 253.0 L364.6 253.1 L364.9 253.1 L365.2 253.2 L365.5 253.2 L365.8 253.3 L366.1 253.3 L366.5 253.4 L366.8 253.4 L367.1 253.5 L367.4 253.5 L367.7 253.5 L368.0 253.5 L368.3 253.5 L368.6 253.5 L368.9 253.5 L369.2 253.5 L369.5 253.5 L369.9 253.5 L370.2 253.5 L370.5 253.4 L370.8 253.4 L371.1 253.4 L371.4 253.3 L371.7 253.3 L372.0 253.3 L372.3 253.2 L372.6 253.2 L372.9 253.1 L373.3 253.1 L373.6 253.0 L373.9 253.0 L374.2 253.0 L374.5 252.9 L374.8 252.9 L375.1 252.8 L375.4 252.8 L375.7 252.7 L376.0 252.6 L376.3 252.6 L376.7 252.5 L377.0 252.4 L377.3 252.4 L377.6 252.3 L377.9 252.2 L378.2 252.2 L378.5 252.1 L378.8 252.0 L379.1 252.0 L379.4 251.9 L379.7 251.9 L380.1 251.8 L380.4 251.7 L380.7 251.7 L381.0 251.6 L381.3 251.6 L381.6 251.5 L381.9 251.5 L382.2 251.4 L382.5 251.4 L382.8 251.3 L383.1 251.3 L383.5 251.2 L383.8 251.2 L384.1 251.1 L384.4 251.1 L384.7 251.0 L385.0 251.0 L385.3 250.9 L385.6 250.9 L385.9 250.8 L386.2 250.8 L386.5 250.7 L386.9 250.7 L387.2 250.6 L387.5 250.6 L387.8 250.6 L388.1 250.5 L388.4 250.5 L388.7 250.4 L389.0 250.4 L389.3 250.4 L389.6 250.3 L389.9 250.3 L390.3 250.2 L390.6 250.2 L390.9 250.1 L391.2 250.1 L391.5 250.1 L391.8 250.0 L392.1 250.0 L392.4 250.0 L392.7 249.9 L393.0 249.9 L393.3 249.9 L393.7 249.8 L394.0 249.8 L394.3 249.8 L394.6 249.8 L394.9 249.7 L395.2 249.7 L395.5 249.7 L395.8 249.7 L396.1 249.7 L396.4 249.6 L396.7 249.6 L397.1 249.6 L397.4 249.6 L397.7 249.6 L398.0 249.5 L398.3 249.5 L398.6 249.5 L398.9 249.5 L399.2 249.5 L399.5 249.5 L399.8 249.4 L400.1 249.4 L400.5 249.4 L400.8 249.4 L401.1 249.4 L401.4 249.4 L401.7 249.4 L402.0 249.3 L402.3 249.3 L402.6 249.3 L402.9 249.3 L403.2 249.3 L403.5 249.3 L403.9 249.3 L404.2 249.3 L404.5 249.2 L404.8 249.2 L405.1 249.2 L405.4 249.2 L405.7 249.2 L406.0 249.2 L406.3 249.2 L406.6 249.2 L406.9 249.2 L407.3 249.2 L407.6 249.2 L407.9 249.2 L408.2 249.2 L408.5 249.2 L408.8 249.2 L409.1 249.2 L409.4 249.2 L409.7 249.2 L410.0 249.2 L410.3 249.2 L410.7 249.2 L411.0 249.2 L411.3 249.2 L411.6 249.2 L411.9 249.2 L412.2 249.2 L412.5 249.2 L412.8 249.2 L413.1 249.2 L413.4 249.2 L413.7 249.2 L414.1 249.2 L414.4 249.2 L414.7 249.2 L415.0 249.2 L415.3 249.2 L415.6 249.2 L415.9 249.2 L416.2 249.2 L416.5 249.2 L416.8 249.2 L417.1 249.2 L417.5 249.2 L417.8 249.2 L418.1 249.2 L418.4 249.2 L418.7 249.2 L419.0 249.2 L419.3 249.2 L419.6 249.2 L419.9 249.2 L420.2 249.2 L420.5 249.2 L420.9 249.2 L421.2 249.2 L421.5 249.2 L421.8 249.2 L422.1 249.2 L422.4 249.2 L422.7 249.2 L423.0 249.2 L423.3 249.2 L423.6 249.2 L423.9 249.2 L424.3 249.2 L424.6 249.2 L424.9 249.2 L425.2 249.2 L425.5 249.2 L425.8 249.2 L426.1 249.2 L426.4 249.2 L426.7 249.2 L427.0 249.2 L427.3 249.2 L427.7 249.2 L428.0 249.2 L428.3 249.2 L428.6 249.2 L428.9 249.2 L429.2 249.3 L429.5 249.3 L429.8 249.3 L430.1 249.3 L430.4 249.3 L430.7 249.3 L431.1 249.3 L431.4 249.3 L431.7 249.3 L432.0 249.3 L432.3 249.3 L432.6 249.3 L432.9 249.3 L433.2 249.3 L433.5 249.3 L433.8 249.3 L434.1 249.3 L434.5 249.3 L434.8 249.3 L435.1 249.4 L435.4 249.4 L435.7 249.4 L436.0 249.4 L436.3 249.4 L436.6 249.4 L436.9 249.4 L437.2 249.4 L437.5 249.4 L437.9 249.4 L438.2 249.4 L438.5 249.4 L438.8 249.4 L439.1 249.5 L439.4 249.5 L439.7 249.5 L440.0 249.5 L440.3 249.5 L440.6 249.5 L440.9 249.5 L441.3 249.5 L441.6 249.5 L441.9 249.5 L442.2 249.6 L442.5 249.6 L442.8 249.6 L443.1 249.6 L443.4 249.6 L443.7 249.6 L444.0 249.6 L444.3 249.6 L444.7 249.6 L445.0 249.7 L445.3 249.7 L445.6 249.7 L445.9 249.7 L446.2 249.7 L446.5 249.7 L446.8 249.7 L447.1 249.8 L447.4 249.8 L447.7 249.8 L448.1 249.8 L448.4 249.8 L448.7 249.8 L449.0 249.8 L449.3 249.9 L449.6 249.9 L449.9 249.9 L450.2 249.9 L450.5 249.9 L450.8 249.9 L451.1 250.0 L451.5 250.0 L451.8 250.0 L452.1 250.0 L452.4 250.0 L452.7 250.1 L453.0 250.1" fill="none" stroke="#86a44a" stroke-width="1.0"/>
<path d="M308.5 257.9 L321.3 233.7 L327.4 231.6 L338.5 237.7 L346.3 244.6 L352.4 248.6 L357.4 249.9 L361.6 252.1 L365.2 253.2 L368.4 253.5 L371.3 253.3 L373.9 253.0 L376.3 252.6 L378.5 252.1 L380.5 251.7 L382.4 251.4 L384.1 251.1 L385.8 250.8 L387.3 250.6 L388.8 250.4 L390.2 250.2 L391.5 250.1 L392.8 249.9 L394.0 249.8 L395.2 249.7 L396.3 249.6 L397.4 249.6 L398.4 249.5 L399.4 249.5 L400.3 249.4 L401.3 249.4 L402.2 249.3 L403.0 249.3 L403.9 249.3 L404.7 249.2 L405.5 249.2 L406.2 249.2 L407.0 249.2 L407.7 249.2 L408.4 249.2 L409.1 249.2 L409.8 249.2 L410.4 249.2 L411.1 249.2 L411.7 249.2 L412.3 249.2 L412.9 249.2 L413.5 249.2 L414.1 249.2 L414.6 249.2 L415.2 249.2 L415.7 249.2 L416.3 249.2 L416.8 249.2 L417.3 249.2 L417.8 249.2 L418.3 249.2 L418.8 249.2 L419.2 249.2 L419.7 249.2 L420.2 249.2 L420.6 249.2 L421.1 249.2 L421.5 249.2 L421.9 249.2 L422.3 249.2 L422.8 249.2 L423.2 249.2 L423.6 249.2 L424.0 249.2 L424.4 249.2 L424.8 249.2 L425.1 249.2 L425.5 249.2 L425.9 249.2 L426.2 249.2 L426.6 249.2 L427.0 249.2 L427.3 249.2 L427.7 249.2 L428.0 249.2 L428.3 249.2 L428.7 249.2 L429.0 249.3 L429.3 249.3 L429.7 249.3 L430.0 249.3 L430.3 249.3 L430.6 249.3 L430.9 249.3 L431.2 249.3 L431.5 249.3 L431.8 249.3 L432.1 249.3 L432.4 249.3 L432.7 249.3 L433.0 249.3 L433.3 249.3 L433.5 249.3 L433.8 249.3 L434.1 249.3 L434.4 249.3 L434.6 249.3 L434.9 249.4 L435.2 249.4 L435.4 249.4 L435.7 249.4 L435.9 249.4 L436.2 249.4 L436.4 249.4 L436.7 249.4 L436.9 249.4 L437.2 249.4 L437.4 249.4 L437.7 249.4 L437.9 249.4 L438.1 249.4 L438.4 249.4 L438.6 249.4 L438.8 249.4 L439.1 249.5 L439.3 249.5 L439.5 249.5 L439.7 249.5 L440.0 249.5 L440.2 249.5 L440.4 249.5 L440.6 249.5 L440.8 249.5 L441.0 249.5 L441.3 249.5 L441.5 249.5 L441.7 249.5 L441.9 249.5 L442.1 249.6 L442.3 249.6 L442.5 249.6 L442.7 249.6 L442.9 249.6 L443.1 249.6 L443.3 249.6 L443.5 249.6 L443.7 249.6 L443.9 249.6 L444.0 249.6 L444.2 249.6 L444.4 249.6 L444.6 249.6 L444.8 249.7 L445.0 249.7 L445.2 249.7 L445.3 249.7 L445.5 249.7 L445.7 249.7 L445.9 249.7 L446.0 249.7 L446.2 249.7 L446.4 249.7 L446.6 249.7 L446.7 249.7 L446.9 249.7 L447.1 249.8 L447.3 249.8 L447.4 249.8 L447.6 249.8 L447.8 249.8 L447.9 249.8 L448.1 249.8 L448.2 249.8 L448.4 249.8 L448.6 249.8 L448.7 249.8 L448.9 249.8 L449.0 249.9 L449.2 249.9 L449.4 249.9 L449.5 249.9 L449.7 249.9 L449.8 249.9 L450.0 249.9 L450.1 249.9 L450.3 249.9 L450.4 249.9 L450.6 249.9 L450.7 249.9 L450.9 250.0 L451.0 250.0 L451.2 250.0 L451.3 250.0 L451.5 250.0 L451.6 250.0 L451.7 250.0 L451.9 250.0 L452.0 250.0 L452.2 250.0 L452.3 250.0 L452.4 250.0 L452.6 250.1 L452.7 250.1 L452.9 250.1 L453.0 250.1" fill="none" stroke="none" marker-start="url(#m4)" marker-mid="url(#m4)" marker-end="url(#m4)"/>
</g>
<defs>
<marker id="m5" markerUnits="userSpaceOnUse" markerWidth="12" markerHeight="12" refX="0" refY="0" viewBox="-6 -6 12 12" overflow="visible"><rect x="-1.44" y="-1.44" width="2.88" height="2.88" fill="#d0d0d0" stroke="#1a1a1a" stroke-width="0.9"/></marker>
</defs>
<g clip-path="url(#ce)">
<path d="M298.8 413.1 L299.1 404.9 L299.4 396.9 L299.7 389.0 L300.0 381.2 L300.3 373.7 L300.6 366.5 L300.9 359.5 L301.2 352.8 L301.5 346.5 L301.9 340.5 L302.2 335.0 L302.5 329.8 L302.8 324.9 L303.1 320.0 L303.4 315.2 L303.7 310.4 L304.0 305.7 L304.3 301.2 L304.6 296.7 L304.9 292.4 L305.3 288.3 L305.6 284.3 L305.9 280.5 L306.2 276.9 L306.5 273.5 L306.8 270.4 L307.1 267.5 L307.4 264.8 L307.7 262.5 L308.0 260.4 L308.3 258.6 L308.7 257.2 L309.0 255.8 L309.3 254.5 L309.6 253.3 L309.9 252.2 L310.2 251.2 L310.5 250.2 L310.8 249.2 L311.1 248.4 L311.4 247.6 L311.7 246.8 L312.1 246.0 L312.4 245.4 L312.7 244.7 L313.0 244.1 L313.3 243.5 L313.6 242.9 L313.9 242.3 L314.2 241.8 L314.5 241.2 L314.8 240.7 L315.1 240.1 L315.5 239.6 L315.8 239.1 L316.1 238.6 L316.4 238.2 L316.7 237.7 L317.0 237.2 L317.3 236.8 L317.6 236.4 L317.9 236.0 L318.2 235.6 L318.5 235.3 L318.9 234.9 L319.2 234.6 L319.5 234.3 L319.8 234.0 L320.1 233.7 L320.4 233.5 L320.7 233.3 L321.0 233.1 L321.3 232.9 L321.6 232.8 L321.9 232.6 L322.3 232.4 L322.6 232.3 L322.9 232.2 L323.2 232.0 L323.5 231.9 L323.8 231.7 L324.1 231.6 L324.4 231.5 L324.7 231.4 L325.0 231.3 L325.3 231.2 L325.7 231.1 L326.0 231.1 L326.3 231.0 L326.6 231.0 L326.9 230.9 L327.2 230.9 L327.5 230.9 L327.8 230.9 L328.1 231.0 L328.4 231.0 L328.7 231.1 L329.1 231.1 L329.4 231.2 L329.7 231.3 L330.0 231.4 L330.3 231.6 L330.6 231.7 L330.9 231.8 L331.2 232.0 L331.5 232.1 L331.8 232.3 L332.1 232.5 L332.5 232.7 L332.8 232.9 L333.1 233.1 L333.4 233.3 L333.7 233.5 L334.0 233.7 L334.3 233.9 L334.6 234.1 L334.9 234.4 L335.2 234.6 L335.5 234.8 L335.9 235.1 L336.2 235.3 L336.5 235.5 L336.8 235.7 L337.1 236.0 L337.4 236.2 L337.7 236.4 L338.0 236.6 L338.3 236.8 L338.6 237.1 L338.9 237.3 L339.3 237.5 L339.6 237.8 L339.9 238.0 L340.2 238.3 L340.5 238.6 L340.8 238.8 L341.1 239.1 L341.4 239.4 L341.7 239.7 L342.0 240.0 L342.3 240.3 L342.7 240.6 L343.0 240.9 L343.3 241.2 L343.6 241.5 L343.9 241.8 L344.2 242.1 L344.5 242.4 L344.8 242.6 L345.1 242.9 L345.4 243.2 L345.7 243.4 L346.1 243.7 L346.4 243.9 L346.7 244.2 L347.0 244.4 L347.3 244.6 L347.6 244.8 L347.9 245.1 L348.2 245.3 L348.5 245.5 L348.8 245.7 L349.1 245.9 L349.5 246.1 L349.8 246.4 L350.1 246.6 L350.4 246.8 L350.7 246.9 L351.0 247.1 L351.3 247.3 L351.6 247.5 L351.9 247.7 L352.2 247.8 L352.5 248.0 L352.9 248.1 L353.2 248.2 L353.5 248.4 L353.8 248.5 L354.1 248.6 L354.4 248.7 L354.7 248.9 L355.0 249.0 L355.3 249.1 L355.6 249.2 L355.9 249.3 L356.3 249.4 L356.6 249.6 L356.9 249.7 L357.2 249.8 L357.5 250.0 L357.8 250.1 L358.1 250.3 L358.4 250.4 L358.7 250.6 L359.0 250.8 L359.3 251.0 L359.7 251.1 L360.0 251.3 L360.3 251.5 L360.6 251.6 L360.9 251.8 L361.2 251.9 L361.5 252.1 L361.8 252.2 L362.1 252.3 L362.4 252.4 L362.7 252.5 L363.1 252.6 L363.4 252.7 L363.7 252.8 L364.0 252.9 L364.3 253.0 L364.6 253.1 L364.9 253.1 L365.2 253.2 L365.5 253.2 L365.8 253.3 L366.1 253.3 L366.5 253.4 L366.8 253.4 L367.1 253.5 L367.4 253.5 L367.7 253.5 L368.0 253.5 L368.3 253.5 L368.6 253.5 L368.9 253.5 L369.2 253.5 L369.5 253.5 L369.9 253.5 L370.2 253.5 L370.5 253.4 L370.8 253.4 L371.1 253.4 L371.4 253.3 L371.7 253.3 L372.0 253.3 L372.3 253.2 L372.6 253.2 L372.9 253.1 L373.3 253.1 L373.6 253.0 L373.9 253.0 L374.2 253.0 L374.5 252.9 L374.8 252.9 L375.1 252.8 L375.4 252.8 L375.7 252.7 L376.0 252.6 L376.3 252.6 L376.7 252.5 L377.0 252.4 L377.3 252.4 L377.6 252.3 L377.9 252.2 L378.2 252.2 L378.5 252.1 L378.8 252.0 L379.1 252.0 L379.4 251.9 L379.7 251.9 L380.1 251.8 L380.4 251.7 L380.7 251.7 L381.0 251.6 L381.3 251.6 L381.6 251.5 L381.9 251.5 L382.2 251.4 L382.5 251.4 L382.8 251.3 L383.1 251.3 L383.5 251.2 L383.8 251.2 L384.1 251.1 L384.4 251.1 L384.7 251.0 L385.0 251.0 L385.3 250.9 L385.6 250.9 L385.9 250.8 L386.2 250.8 L386.5 250.7 L386.9 250.7 L387.2 250.6 L387.5 250.6 L387.8 250.6 L388.1 250.5 L388.4 250.5 L388.7 250.4 L389.0 250.4 L389.3 250.4 L389.6 250.3 L389.9 250.3 L390.3 250.2 L390.6 250.2 L390.9 250.1 L391.2 250.1 L391.5 250.1 L391.8 250.0 L392.1 250.0 L392.4 250.0 L392.7 249.9 L393.0 249.9 L393.3 249.9 L393.7 249.8 L394.0 249.8 L394.3 249.8 L394.6 249.8 L394.9 249.7 L395.2 249.7 L395.5 249.7 L395.8 249.7 L396.1 249.7 L396.4 249.6 L396.7 249.6 L397.1 249.6 L397.4 249.6 L397.7 249.6 L398.0 249.5 L398.3 249.5 L398.6 249.5 L398.9 249.5 L399.2 249.5 L399.5 249.5 L399.8 249.4 L400.1 249.4 L400.5 249.4 L400.8 249.4 L401.1 249.4 L401.4 249.4 L401.7 249.4 L402.0 249.3 L402.3 249.3 L402.6 249.3 L402.9 249.3 L403.2 249.3 L403.5 249.3 L403.9 249.3 L404.2 249.3 L404.5 249.2 L404.8 249.2 L405.1 249.2 L405.4 249.2 L405.7 249.2 L406.0 249.2 L406.3 249.2 L406.6 249.2 L406.9 249.2 L407.3 249.2 L407.6 249.2 L407.9 249.2 L408.2 249.2 L408.5 249.2 L408.8 249.2 L409.1 249.2 L409.4 249.2 L409.7 249.2 L410.0 249.2 L410.3 249.2 L410.7 249.2 L411.0 249.2 L411.3 249.2 L411.6 249.2 L411.9 249.2 L412.2 249.2 L412.5 249.2 L412.8 249.2 L413.1 249.2 L413.4 249.2 L413.7 249.2 L414.1 249.2 L414.4 249.2 L414.7 249.2 L415.0 249.2 L415.3 249.2 L415.6 249.2 L415.9 249.2 L416.2 249.2 L416.5 249.2 L416.8 249.2 L417.1 249.2 L417.5 249.2 L417.8 249.2 L418.1 249.2 L418.4 249.2 L418.7 249.2 L419.0 249.2 L419.3 249.2 L419.6 249.2 L419.9 249.2 L420.2 249.2 L420.5 249.2 L420.9 249.2 L421.2 249.2 L421.5 249.2 L421.8 249.2 L422.1 249.2 L422.4 249.2 L422.7 249.2 L423.0 249.2 L423.3 249.2 L423.6 249.2 L423.9 249.2 L424.3 249.2 L424.6 249.2 L424.9 249.2 L425.2 249.2 L425.5 249.2 L425.8 249.2 L426.1 249.2 L426.4 249.2 L426.7 249.2 L427.0 249.2 L427.3 249.2 L427.7 249.2 L428.0 249.2 L428.3 249.2 L428.6 249.2 L428.9 249.2 L429.2 249.2 L429.5 249.2 L429.8 249.2 L430.1 249.2 L430.4 249.2 L430.7 249.2 L431.1 249.2 L431.4 249.2 L431.7 249.2 L432.0 249.2 L432.3 249.2 L432.6 249.2 L432.9 249.2 L433.2 249.2 L433.5 249.2 L433.8 249.2 L434.1 249.2 L434.5 249.2 L434.8 249.2 L435.1 249.2 L435.4 249.2 L435.7 249.2 L436.0 249.2 L436.3 249.2 L436.6 249.2 L436.9 249.2 L437.2 249.2 L437.5 249.2 L437.9 249.2 L438.2 249.2 L438.5 249.2 L438.8 249.2 L439.1 249.2 L439.4 249.2 L439.7 249.2 L440.0 249.2 L440.3 249.2 L440.6 249.2 L440.9 249.2 L441.3 249.2 L441.6 249.2 L441.9 249.2 L442.2 249.2 L442.5 249.2 L442.8 249.2 L443.1 249.2 L443.4 249.3 L443.7 249.3 L444.0 249.3 L444.3 249.3 L444.7 249.3 L445.0 249.3 L445.3 249.3 L445.6 249.3 L445.9 249.3 L446.2 249.3 L446.5 249.3 L446.8 249.3 L447.1 249.3 L447.4 249.3 L447.7 249.3 L448.1 249.3 L448.4 249.3 L448.7 249.3 L449.0 249.3 L449.3 249.3 L449.6 249.3 L449.9 249.3 L450.2 249.3 L450.5 249.3 L450.8 249.3 L451.1 249.3 L451.5 249.3 L451.8 249.3 L452.1 249.3 L452.4 249.3 L452.7 249.3 L453.0 249.3" fill="none" stroke="#1a1a1a" stroke-width="1.0"/>
<path d="M308.5 257.9 L321.3 232.9 L327.4 230.9 L338.5 236.9 L346.3 243.9 L352.4 247.9 L357.4 249.9 L361.6 252.1 L365.2 253.2 L368.4 253.5 L371.3 253.3 L373.9 253.0 L376.3 252.6 L378.5 252.1 L380.5 251.7 L382.4 251.4 L384.1 251.1 L385.8 250.8 L387.3 250.6 L388.8 250.4 L390.2 250.2 L391.5 250.1 L392.8 249.9 L394.0 249.8 L395.2 249.7 L396.3 249.6 L397.4 249.6 L398.4 249.5 L399.4 249.5 L400.3 249.4 L401.3 249.4 L402.2 249.3 L403.0 249.3 L403.9 249.3 L404.7 249.2 L405.5 249.2 L406.2 249.2 L407.0 249.2 L407.7 249.2 L408.4 249.2 L409.1 249.2 L409.8 249.2 L410.4 249.2 L411.1 249.2 L411.7 249.2 L412.3 249.2 L412.9 249.2 L413.5 249.2 L414.1 249.2 L414.6 249.2 L415.2 249.2 L415.7 249.2 L416.3 249.2 L416.8 249.2 L417.3 249.2 L417.8 249.2 L418.3 249.2 L418.8 249.2 L419.2 249.2 L419.7 249.2 L420.2 249.2 L420.6 249.2 L421.1 249.2 L421.5 249.2 L421.9 249.2 L422.3 249.2 L422.8 249.2 L423.2 249.2 L423.6 249.2 L424.0 249.2 L424.4 249.2 L424.8 249.2 L425.1 249.2 L425.5 249.2 L425.9 249.2 L426.2 249.2 L426.6 249.2 L427.0 249.2 L427.3 249.2 L427.7 249.2 L428.0 249.2 L428.3 249.2 L428.7 249.2 L429.0 249.2 L429.3 249.2 L429.7 249.2 L430.0 249.2 L430.3 249.2 L430.6 249.2 L430.9 249.2 L431.2 249.2 L431.5 249.2 L431.8 249.2 L432.1 249.2 L432.4 249.2 L432.7 249.2 L433.0 249.2 L433.3 249.2 L433.5 249.2 L433.8 249.2 L434.1 249.2 L434.4 249.2 L434.6 249.2 L434.9 249.2 L435.2 249.2 L435.4 249.2 L435.7 249.2 L435.9 249.2 L436.2 249.2 L436.4 249.2 L436.7 249.2 L436.9 249.2 L437.2 249.2 L437.4 249.2 L437.7 249.2 L437.9 249.2 L438.1 249.2 L438.4 249.2 L438.6 249.2 L438.8 249.2 L439.1 249.2 L439.3 249.2 L439.5 249.2 L439.7 249.2 L440.0 249.2 L440.2 249.2 L440.4 249.2 L440.6 249.2 L440.8 249.2 L441.0 249.2 L441.3 249.2 L441.5 249.2 L441.7 249.2 L441.9 249.2 L442.1 249.2 L442.3 249.2 L442.5 249.2 L442.7 249.2 L442.9 249.2 L443.1 249.2 L443.3 249.3 L443.5 249.3 L443.7 249.3 L443.9 249.3 L444.0 249.3 L444.2 249.3 L444.4 249.3 L444.6 249.3 L444.8 249.3 L445.0 249.3 L445.2 249.3 L445.3 249.3 L445.5 249.3 L445.7 249.3 L445.9 249.3 L446.0 249.3 L446.2 249.3 L446.4 249.3 L446.6 249.3 L446.7 249.3 L446.9 249.3 L447.1 249.3 L447.3 249.3 L447.4 249.3 L447.6 249.3 L447.8 249.3 L447.9 249.3 L448.1 249.3 L448.2 249.3 L448.4 249.3 L448.6 249.3 L448.7 249.3 L448.9 249.3 L449.0 249.3 L449.2 249.3 L449.4 249.3 L449.5 249.3 L449.7 249.3 L449.8 249.3 L450.0 249.3 L450.1 249.3 L450.3 249.3 L450.4 249.3 L450.6 249.3 L450.7 249.3 L450.9 249.3 L451.0 249.3 L451.2 249.3 L451.3 249.3 L451.5 249.3 L451.6 249.3 L451.7 249.3 L451.9 249.3 L452.0 249.3 L452.2 249.3 L452.3 249.3 L452.4 249.3 L452.6 249.3 L452.7 249.3 L452.9 249.3 L453.0 249.3" fill="none" stroke="none" marker-start="url(#m5)" marker-mid="url(#m5)" marker-end="url(#m5)"/>
</g>
<defs>
<marker id="m6" markerUnits="userSpaceOnUse" markerWidth="12" markerHeight="12" refX="0" refY="0" viewBox="-6 -6 12 12" overflow="visible"><circle r="1.60" fill="#ee7462" stroke="#dc3b2a" stroke-width="0.9"/></marker>
</defs>
<g clip-path="url(#ce)">
<path d="M298.8 413.1 L299.1 404.9 L299.4 396.9 L299.7 389.0 L300.0 381.2 L300.3 373.7 L300.6 366.5 L300.9 359.5 L301.2 352.8 L301.5 346.5 L301.9 340.5 L302.2 335.0 L302.5 329.8 L302.8 324.9 L303.1 320.0 L303.4 315.2 L303.7 310.4 L304.0 305.8 L304.3 301.2 L304.6 296.8 L304.9 292.5 L305.3 288.4 L305.6 284.4 L305.9 280.7 L306.2 277.1 L306.5 273.7 L306.8 270.5 L307.1 267.6 L307.4 265.0 L307.7 262.6 L308.0 260.5 L308.3 258.7 L308.7 257.1 L309.0 255.7 L309.3 254.4 L309.6 253.1 L309.9 252.0 L310.2 250.8 L310.5 249.8 L310.8 248.8 L311.1 247.9 L311.4 247.0 L311.7 246.2 L312.1 245.4 L312.4 244.7 L312.7 244.0 L313.0 243.4 L313.3 242.7 L313.6 242.2 L313.9 241.6 L314.2 241.0 L314.5 240.5 L314.8 239.9 L315.1 239.4 L315.5 238.9 L315.8 238.4 L316.1 237.9 L316.4 237.4 L316.7 236.9 L317.0 236.5 L317.3 236.1 L317.6 235.6 L317.9 235.2 L318.2 234.9 L318.5 234.5 L318.9 234.2 L319.2 233.8 L319.5 233.5 L319.8 233.3 L320.1 233.0 L320.4 232.8 L320.7 232.5 L321.0 232.4 L321.3 232.2 L321.6 232.0 L321.9 231.9 L322.3 231.7 L322.6 231.6 L322.9 231.4 L323.2 231.3 L323.5 231.1 L323.8 231.0 L324.1 230.9 L324.4 230.8 L324.7 230.7 L325.0 230.6 L325.3 230.5 L325.7 230.4 L326.0 230.3 L326.3 230.3 L326.6 230.2 L326.9 230.2 L327.2 230.2 L327.5 230.2 L327.8 230.2 L328.1 230.2 L328.4 230.3 L328.7 230.3 L329.1 230.4 L329.4 230.5 L329.7 230.6 L330.0 230.7 L330.3 230.8 L330.6 231.0 L330.9 231.1 L331.2 231.3 L331.5 231.4 L331.8 231.6 L332.1 231.8 L332.5 232.0 L332.8 232.1 L333.1 232.3 L333.4 232.6 L333.7 232.8 L334.0 233.0 L334.3 233.2 L334.6 233.4 L334.9 233.6 L335.2 233.9 L335.5 234.1 L335.9 234.3 L336.2 234.6 L336.5 234.8 L336.8 235.0 L337.1 235.2 L337.4 235.5 L337.7 235.7 L338.0 235.9 L338.3 236.1 L338.6 236.3 L338.9 236.6 L339.3 236.8 L339.6 237.0 L339.9 237.3 L340.2 237.6 L340.5 237.8 L340.8 238.1 L341.1 238.4 L341.4 238.7 L341.7 239.0 L342.0 239.3 L342.3 239.6 L342.7 239.9 L343.0 240.2 L343.3 240.5 L343.6 240.8 L343.9 241.1 L344.2 241.4 L344.5 241.6 L344.8 241.9 L345.1 242.2 L345.4 242.5 L345.7 242.7 L346.1 243.0 L346.4 243.2 L346.7 243.4 L347.0 243.6 L347.3 243.9 L347.6 244.1 L347.9 244.3 L348.2 244.5 L348.5 244.7 L348.8 244.9 L349.1 245.1 L349.5 245.3 L349.8 245.5 L350.1 245.7 L350.4 245.9 L350.7 246.1 L351.0 246.3 L351.3 246.5 L351.6 246.7 L351.9 246.9 L352.2 247.1 L352.5 247.3 L352.9 247.4 L353.2 247.6 L353.5 247.8 L353.8 248.0 L354.1 248.1 L354.4 248.3 L354.7 248.5 L355.0 248.6 L355.3 248.8 L355.6 249.0 L355.9 249.1 L356.3 249.3 L356.6 249.5 L356.9 249.6 L357.2 249.8 L357.5 250.0 L357.8 250.1 L358.1 250.3 L358.4 250.5 L358.7 250.7 L359.0 250.8 L359.3 251.0 L359.7 251.2 L360.0 251.3 L360.3 251.5 L360.6 251.7 L360.9 251.8 L361.2 251.9 L361.5 252.1 L361.8 252.2 L362.1 252.3 L362.4 252.4 L362.7 252.5 L363.1 252.6 L363.4 252.7 L363.7 252.8 L364.0 252.9 L364.3 253.0 L364.6 253.1 L364.9 253.1 L365.2 253.2 L365.5 253.2 L365.8 253.3 L366.1 253.3 L366.5 253.4 L366.8 253.4 L367.1 253.5 L367.4 253.5 L367.7 253.5 L368.0 253.5 L368.3 253.5 L368.6 253.5 L368.9 253.5 L369.2 253.5 L369.5 253.5 L369.9 253.5 L370.2 253.5 L370.5 253.4 L370.8 253.4 L371.1 253.4 L371.4 253.3 L371.7 253.3 L372.0 253.3 L372.3 253.2 L372.6 253.2 L372.9 253.1 L373.3 253.1 L373.6 253.0 L373.9 253.0 L374.2 253.0 L374.5 252.9 L374.8 252.9 L375.1 252.8 L375.4 252.8 L375.7 252.7 L376.0 252.6 L376.3 252.6 L376.7 252.5 L377.0 252.4 L377.3 252.4 L377.6 252.3 L377.9 252.2 L378.2 252.2 L378.5 252.1 L378.8 252.0 L379.1 252.0 L379.4 251.9 L379.7 251.9 L380.1 251.8 L380.4 251.7 L380.7 251.7 L381.0 251.6 L381.3 251.6 L381.6 251.5 L381.9 251.5 L382.2 251.4 L382.5 251.4 L382.8 251.3 L383.1 251.3 L383.5 251.2 L383.8 251.2 L384.1 251.1 L384.4 251.1 L384.7 251.0 L385.0 251.0 L385.3 250.9 L385.6 250.9 L385.9 250.8 L386.2 250.8 L386.5 250.7 L386.9 250.7 L387.2 250.6 L387.5 250.6 L387.8 250.6 L388.1 250.5 L388.4 250.5 L388.7 250.4 L389.0 250.4 L389.3 250.4 L389.6 250.3 L389.9 250.3 L390.3 250.2 L390.6 250.2 L390.9 250.1 L391.2 250.1 L391.5 250.1 L391.8 250.0 L392.1 250.0 L392.4 250.0 L392.7 249.9 L393.0 249.9 L393.3 249.9 L393.7 249.8 L394.0 249.8 L394.3 249.8 L394.6 249.8 L394.9 249.7 L395.2 249.7 L395.5 249.7 L395.8 249.7 L396.1 249.7 L396.4 249.6 L396.7 249.6 L397.1 249.6 L397.4 249.6 L397.7 249.6 L398.0 249.6 L398.3 249.5 L398.6 249.5 L398.9 249.5 L399.2 249.5 L399.5 249.5 L399.8 249.5 L400.1 249.5 L400.5 249.4 L400.8 249.4 L401.1 249.4 L401.4 249.4 L401.7 249.4 L402.0 249.4 L402.3 249.4 L402.6 249.3 L402.9 249.3 L403.2 249.3 L403.5 249.3 L403.9 249.3 L404.2 249.3 L404.5 249.3 L404.8 249.3 L405.1 249.3 L405.4 249.3 L405.7 249.2 L406.0 249.2 L406.3 249.2 L406.6 249.2 L406.9 249.2 L407.3 249.2 L407.6 249.2 L407.9 249.2 L408.2 249.2 L408.5 249.2 L408.8 249.2 L409.1 249.2 L409.4 249.2 L409.7 249.2 L410.0 249.1 L410.3 249.1 L410.7 249.1 L411.0 249.1 L411.3 249.1 L411.6 249.1 L411.9 249.1 L412.2 249.1 L412.5 249.1 L412.8 249.1 L413.1 249.1 L413.4 249.1 L413.7 249.1 L414.1 249.1 L414.4 249.1 L414.7 249.1 L415.0 249.0 L415.3 249.0 L415.6 249.0 L415.9 249.0 L416.2 249.0 L416.5 249.0 L416.8 249.0 L417.1 249.0 L417.5 249.0 L417.8 249.0 L418.1 249.0 L418.4 249.0 L418.7 249.0 L419.0 249.0 L419.3 249.0 L419.6 249.0 L419.9 249.0 L420.2 248.9 L420.5 248.9 L420.9 248.9 L421.2 248.9 L421.5 248.9 L421.8 248.9 L422.1 248.9 L422.4 248.9 L422.7 248.9 L423.0 248.9 L423.3 248.9 L423.6 248.9 L423.9 248.9 L424.3 248.9 L424.6 248.9 L424.9 248.9 L425.2 248.9 L425.5 248.9 L425.8 248.9 L426.1 248.8 L426.4 248.8 L426.7 248.8 L427.0 248.8 L427.3 248.8 L427.7 248.8 L428.0 248.8 L428.3 248.8 L428.6 248.8 L428.9 248.8 L429.2 248.8 L429.5 248.8 L429.8 248.8 L430.1 248.8 L430.4 248.8 L430.7 248.8 L431.1 248.8 L431.4 248.8 L431.7 248.8 L432.0 248.8 L432.3 248.8 L432.6 248.8 L432.9 248.8 L433.2 248.7 L433.5 248.7 L433.8 248.7 L434.1 248.7 L434.5 248.7 L434.8 248.7 L435.1 248.7 L435.4 248.7 L435.7 248.7 L436.0 248.7 L436.3 248.7 L436.6 248.7 L436.9 248.7 L437.2 248.7 L437.5 248.7 L437.9 248.7 L438.2 248.7 L438.5 248.7 L438.8 248.7 L439.1 248.7 L439.4 248.7 L439.7 248.7 L440.0 248.7 L440.3 248.7 L440.6 248.7 L440.9 248.7 L441.3 248.7 L441.6 248.7 L441.9 248.7 L442.2 248.7 L442.5 248.7 L442.8 248.7 L443.1 248.7 L443.4 248.7 L443.7 248.6 L444.0 248.6 L444.3 248.6 L444.7 248.6 L445.0 248.6 L445.3 248.6 L445.6 248.6 L445.9 248.6 L446.2 248.6 L446.5 248.6 L446.8 248.6 L447.1 248.6 L447.4 248.6 L447.7 248.6 L448.1 248.6 L448.4 248.6 L448.7 248.6 L449.0 248.6 L449.3 248.6 L449.6 248.6 L449.9 248.6 L450.2 248.6 L450.5 248.6 L450.8 248.6 L451.1 248.6 L451.5 248.6 L451.8 248.6 L452.1 248.6 L452.4 248.6 L452.7 248.6 L453.0 248.6" fill="none" stroke="#dc3b2a" stroke-width="1.0"/>
<path d="M308.5 257.9 L321.3 232.2 L327.4 230.2 L338.5 236.2 L346.3 243.1 L352.4 247.2 L357.4 249.9 L361.6 252.1 L365.2 253.2 L368.4 253.5 L371.3 253.3 L373.9 253.0 L376.3 252.6 L378.5 252.1 L380.5 251.7 L382.4 251.4 L384.1 251.1 L385.8 250.8 L387.3 250.6 L388.8 250.4 L390.2 250.2 L391.5 250.1 L392.8 249.9 L394.0 249.8 L395.2 249.7 L396.3 249.6 L397.4 249.6 L398.4 249.5 L399.4 249.5 L400.3 249.4 L401.3 249.4 L402.2 249.4 L403.0 249.3 L403.9 249.3 L404.7 249.3 L405.5 249.3 L406.2 249.2 L407.0 249.2 L407.7 249.2 L408.4 249.2 L409.1 249.2 L409.8 249.2 L410.4 249.1 L411.1 249.1 L411.7 249.1 L412.3 249.1 L412.9 249.1 L413.5 249.1 L414.1 249.1 L414.6 249.1 L415.2 249.0 L415.7 249.0 L416.3 249.0 L416.8 249.0 L417.3 249.0 L417.8 249.0 L418.3 249.0 L418.8 249.0 L419.2 249.0 L419.7 249.0 L420.2 248.9 L420.6 248.9 L421.1 248.9 L421.5 248.9 L421.9 248.9 L422.3 248.9 L422.8 248.9 L423.2 248.9 L423.6 248.9 L424.0 248.9 L424.4 248.9 L424.8 248.9 L425.1 248.9 L425.5 248.9 L425.9 248.9 L426.2 248.8 L426.6 248.8 L427.0 248.8 L427.3 248.8 L427.7 248.8 L428.0 248.8 L428.3 248.8 L428.7 248.8 L429.0 248.8 L429.3 248.8 L429.7 248.8 L430.0 248.8 L430.3 248.8 L430.6 248.8 L430.9 248.8 L431.2 248.8 L431.5 248.8 L431.8 248.8 L432.1 248.8 L432.4 248.8 L432.7 248.8 L433.0 248.8 L433.3 248.7 L433.5 248.7 L433.8 248.7 L434.1 248.7 L434.4 248.7 L434.6 248.7 L434.9 248.7 L435.2 248.7 L435.4 248.7 L435.7 248.7 L435.9 248.7 L436.2 248.7 L436.4 248.7 L436.7 248.7 L436.9 248.7 L437.2 248.7 L437.4 248.7 L437.7 248.7 L437.9 248.7 L438.1 248.7 L438.4 248.7 L438.6 248.7 L438.8 248.7 L439.1 248.7 L439.3 248.7 L439.5 248.7 L439.7 248.7 L440.0 248.7 L440.2 248.7 L440.4 248.7 L440.6 248.7 L440.8 248.7 L441.0 248.7 L441.3 248.7 L441.5 248.7 L441.7 248.7 L441.9 248.7 L442.1 248.7 L442.3 248.7 L442.5 248.7 L442.7 248.7 L442.9 248.7 L443.1 248.7 L443.3 248.7 L443.5 248.7 L443.7 248.6 L443.9 248.6 L444.0 248.6 L444.2 248.6 L444.4 248.6 L444.6 248.6 L444.8 248.6 L445.0 248.6 L445.2 248.6 L445.3 248.6 L445.5 248.6 L445.7 248.6 L445.9 248.6 L446.0 248.6 L446.2 248.6 L446.4 248.6 L446.6 248.6 L446.7 248.6 L446.9 248.6 L447.1 248.6 L447.3 248.6 L447.4 248.6 L447.6 248.6 L447.8 248.6 L447.9 248.6 L448.1 248.6 L448.2 248.6 L448.4 248.6 L448.6 248.6 L448.7 248.6 L448.9 248.6 L449.0 248.6 L449.2 248.6 L449.4 248.6 L449.5 248.6 L449.7 248.6 L449.8 248.6 L450.0 248.6 L450.1 248.6 L450.3 248.6 L450.4 248.6 L450.6 248.6 L450.7 248.6 L450.9 248.6 L451.0 248.6 L451.2 248.6 L451.3 248.6 L451.5 248.6 L451.6 248.6 L451.7 248.6 L451.9 248.6 L452.0 248.6 L452.2 248.6 L452.3 248.6 L452.4 248.6 L452.6 248.6 L452.7 248.6 L452.9 248.6 L453.0 248.6" fill="none" stroke="none" marker-start="url(#m6)" marker-mid="url(#m6)" marker-end="url(#m6)"/>
</g>
<g clip-path="url(#ce)"><path d="M299.5 393.0 L299.7 389.5 L299.8 386.0 L299.9 382.6 L300.1 379.2 L300.2 375.9 L300.4 372.5 L300.5 369.3 L300.6 366.1 L300.8 362.9 L300.9 359.9 L301.1 356.8 L301.2 353.9 L301.3 351.0 L301.5 348.2 L301.6 345.4 L301.7 342.7 L301.9 340.1 L302.0 337.6 L302.2 335.2 L302.3 332.9 L302.4 330.6 L302.6 328.4 L302.7 326.2 L302.8 324.0 L303.0 321.8 L303.1 319.6 L303.3 317.5 L303.4 315.3 L303.5 313.2 L303.7 311.1 L303.8 309.0 L303.9 306.9 L304.1 304.9 L304.2 302.9 L304.4 300.9 L304.5 298.9 L304.6 296.9 L304.8 295.0 L304.9 293.1 L305.0 291.2 L305.2 289.4 L305.3 287.6 L305.5 285.8 L305.6 284.1 L305.7 282.4 L305.9 280.7 L306.0 279.1 L306.1 277.5 L306.3 275.9 L306.4 274.4 L306.6 273.0 L306.7 271.6 L306.8 270.2 L307.0 268.9 L307.1 267.6 L307.3 266.4 L307.4 265.2 L307.5 264.1 L307.7 263.1" fill="none" stroke="#8a3a26" stroke-width="1.4"/></g>
<line x1="422.30" y1="206.20" x2="430.70" y2="206.20" stroke="#86a44a" stroke-width="1.0"/>
<path d="M426.50 204.01L428.60 208.00L424.40 208.00Z" fill="#c4d89a" stroke="#86a44a" stroke-width="1.0"/>
<text x="435.30" y="209.70" font-size="10" text-anchor="start" fill="#1e1e1e" stroke="#1e1e1e" stroke-width="0.2" font-weight="normal" >45</text>
<line x1="422.30" y1="219.00" x2="430.70" y2="219.00" stroke="#1a1a1a" stroke-width="1.0"/>
<rect x="424.70" y="217.20" width="3.60" height="3.60" fill="#d0d0d0" stroke="#1a1a1a" stroke-width="1.0"/>
<text x="435.30" y="222.50" font-size="10" text-anchor="start" fill="#1e1e1e" stroke="#1e1e1e" stroke-width="0.2" font-weight="normal" >25</text>
<line x1="422.30" y1="232.20" x2="430.70" y2="232.20" stroke="#dc3b2a" stroke-width="1.0"/>
<circle cx="426.50" cy="232.20" r="2.00" fill="#ee7462" stroke="#dc3b2a" stroke-width="1.0"/>
<text x="435.30" y="235.70" font-size="10" text-anchor="start" fill="#1e1e1e" stroke="#1e1e1e" stroke-width="0.2" font-weight="normal" >10</text>
<text x="234.20" y="187.70" font-size="16.5" text-anchor="start" fill="#111" font-weight="bold" >e</text>
<text x="296.90" y="208.90" font-size="11.5" text-anchor="start" fill="#1e1e1e" stroke="#1e1e1e" stroke-width="0.2" font-weight="normal" >Hematite</text>
<text x="361.30" y="337.50" font-size="10" text-anchor="middle" fill="#1e1e1e" stroke="#1e1e1e" stroke-width="0.2" font-weight="normal" >Sparation distance between particles (Å)</text>
<clipPath id="cf"><rect x="482.3" y="193.8" width="188.19999999999993" height="127.5"/></clipPath>
<line x1="482.30" y1="193.80" x2="668.30" y2="193.80" stroke="#3a3a3a" stroke-width="1.2"/>
<line x1="668.30" y1="193.80" x2="668.30" y2="321.30" stroke="#3a3a3a" stroke-width="1.2"/>
<line x1="482.30" y1="193.20" x2="482.30" y2="321.90" stroke="#444" stroke-width="1.4"/>
<line x1="478.80" y1="321.30" x2="668.90" y2="321.30" stroke="#444" stroke-width="1.4"/>
<line x1="482.30" y1="257.40" x2="668.30" y2="257.40" stroke="#555" stroke-width="1.5"/>
<line x1="479.10" y1="193.64" x2="482.30" y2="193.64" stroke="#444" stroke-width="1.1"/>
<text x="473.90" y="197.74" font-size="10" text-anchor="end" fill="#1e1e1e" stroke="#1e1e1e" stroke-width="0.2" font-weight="normal" >40</text>
<line x1="479.10" y1="209.58" x2="482.30" y2="209.58" stroke="#444" stroke-width="1.1"/>
<text x="473.90" y="213.68" font-size="10" text-anchor="end" fill="#1e1e1e" stroke="#1e1e1e" stroke-width="0.2" font-weight="normal" >30</text>
<line x1="479.10" y1="225.52" x2="482.30" y2="225.52" stroke="#444" stroke-width="1.1"/>
<text x="473.90" y="229.62" font-size="10" text-anchor="end" fill="#1e1e1e" stroke="#1e1e1e" stroke-width="0.2" font-weight="normal" >20</text>
<line x1="479.10" y1="241.46" x2="482.30" y2="241.46" stroke="#444" stroke-width="1.1"/>
<text x="473.90" y="245.56" font-size="10" text-anchor="end" fill="#1e1e1e" stroke="#1e1e1e" stroke-width="0.2" font-weight="normal" >10</text>
<line x1="479.10" y1="257.40" x2="482.30" y2="257.40" stroke="#444" stroke-width="1.1"/>
<text x="473.90" y="261.50" font-size="10" text-anchor="end" fill="#1e1e1e" stroke="#1e1e1e" stroke-width="0.2" font-weight="normal" >0</text>
<line x1="479.10" y1="273.34" x2="482.30" y2="273.34" stroke="#444" stroke-width="1.1"/>
<text x="473.90" y="277.44" font-size="10" text-anchor="end" fill="#1e1e1e" stroke="#1e1e1e" stroke-width="0.2" font-weight="normal" >−10</text>
<line x1="479.10" y1="289.28" x2="482.30" y2="289.28" stroke="#444" stroke-width="1.1"/>
<text x="473.90" y="293.38" font-size="10" text-anchor="end" fill="#1e1e1e" stroke="#1e1e1e" stroke-width="0.2" font-weight="normal" >−20</text>
<line x1="479.10" y1="305.22" x2="482.30" y2="305.22" stroke="#444" stroke-width="1.1"/>
<text x="473.90" y="309.32" font-size="10" text-anchor="end" fill="#1e1e1e" stroke="#1e1e1e" stroke-width="0.2" font-weight="normal" >−30</text>
<line x1="479.10" y1="321.16" x2="482.30" y2="321.16" stroke="#444" stroke-width="1.1"/>
<text x="473.90" y="325.26" font-size="10" text-anchor="end" fill="#1e1e1e" stroke="#1e1e1e" stroke-width="0.2" font-weight="normal" >−40</text>
<line x1="544.30" y1="257.40" x2="544.30" y2="260.60" stroke="#444" stroke-width="1.1"/>
<text x="544.30" y="273.80" font-size="10" text-anchor="middle" fill="#1e1e1e" stroke="#1e1e1e" stroke-width="0.2" font-weight="normal" >10</text>
<line x1="606.30" y1="257.40" x2="606.30" y2="260.60" stroke="#444" stroke-width="1.1"/>
<text x="606.30" y="273.80" font-size="10" text-anchor="middle" fill="#1e1e1e" stroke="#1e1e1e" stroke-width="0.2" font-weight="normal" >100</text>
<line x1="668.30" y1="257.40" x2="668.30" y2="260.60" stroke="#444" stroke-width="1.1"/>
<text x="661.80" y="273.80" font-size="10" text-anchor="middle" fill="#1e1e1e" stroke="#1e1e1e" stroke-width="0.2" font-weight="normal" >1,000</text>
<defs>
<marker id="m7" markerUnits="userSpaceOnUse" markerWidth="12" markerHeight="12" refX="0" refY="0" viewBox="-6 -6 12 12" overflow="visible"><path d="M0 -1.58L1.60 1.30L-1.60 1.30Z" fill="#c4d89a" stroke="#86a44a" stroke-width="0.9"/></marker>
</defs>
<g clip-path="url(#cf)">
<path d="M571.0 376.9 L571.2 372.8 L571.4 368.6 L571.6 364.5 L571.8 360.5 L572.0 356.6 L572.2 352.7 L572.4 349.0 L572.6 345.3 L572.8 341.7 L573.0 338.3 L573.2 335.0 L573.4 331.8 L573.6 328.8 L573.8 325.9 L574.0 323.1 L574.2 320.5 L574.4 317.9 L574.6 315.5 L574.7 313.0 L574.9 310.7 L575.1 308.4 L575.3 306.2 L575.5 304.0 L575.7 301.9 L575.9 299.8 L576.1 297.7 L576.3 295.7 L576.5 293.8 L576.7 291.8 L576.9 289.9 L577.1 288.0 L577.3 286.2 L577.5 284.3 L577.7 282.5 L577.9 280.6 L578.1 278.8 L578.3 277.0 L578.5 275.2 L578.6 273.3 L578.8 271.5 L579.0 269.8 L579.2 268.0 L579.4 266.2 L579.6 264.5 L579.8 262.8 L580.0 261.2 L580.2 259.6 L580.4 258.0 L580.6 256.5 L580.8 255.0 L581.0 253.5 L581.2 252.1 L581.4 250.8 L581.6 249.5 L581.8 248.2 L582.0 247.0 L582.2 245.8 L582.3 244.6 L582.5 243.4 L582.7 242.3 L582.9 241.2 L583.1 240.1 L583.3 239.1 L583.5 238.0 L583.7 237.1 L583.9 236.2 L584.1 235.3 L584.3 234.5 L584.5 233.7 L584.7 233.1 L584.9 232.4 L585.1 231.8 L585.3 231.3 L585.5 230.7 L585.7 230.2 L585.9 229.7 L586.1 229.2 L586.2 228.7 L586.4 228.3 L586.6 227.9 L586.8 227.5 L587.0 227.1 L587.2 226.8 L587.4 226.5 L587.6 226.2 L587.8 225.9 L588.0 225.7 L588.2 225.5 L588.4 225.2 L588.6 225.0 L588.8 224.8 L589.0 224.6 L589.2 224.4 L589.4 224.3 L589.6 224.1 L589.8 224.0 L589.9 223.9 L590.1 223.8 L590.3 223.7 L590.5 223.6 L590.7 223.6 L590.9 223.5 L591.1 223.4 L591.3 223.3 L591.5 223.3 L591.7 223.2 L591.9 223.2 L592.1 223.2 L592.3 223.1 L592.5 223.1 L592.7 223.1 L592.9 223.2 L593.1 223.2 L593.3 223.2 L593.5 223.3 L593.7 223.3 L593.8 223.4 L594.0 223.5 L594.2 223.6 L594.4 223.7 L594.6 223.7 L594.8 223.8 L595.0 223.9 L595.2 224.0 L595.4 224.1 L595.6 224.3 L595.8 224.4 L596.0 224.5 L596.2 224.7 L596.4 224.8 L596.6 225.0 L596.8 225.1 L597.0 225.2 L597.2 225.4 L597.4 225.5 L597.6 225.6 L597.7 225.7 L597.9 225.9 L598.1 226.0 L598.3 226.1 L598.5 226.2 L598.7 226.4 L598.9 226.5 L599.1 226.6 L599.3 226.8 L599.5 226.9 L599.7 227.0 L599.9 227.2 L600.1 227.3 L600.3 227.5 L600.5 227.6 L600.7 227.8 L600.9 228.0 L601.1 228.2 L601.3 228.4 L601.4 228.5 L601.6 228.7 L601.8 229.0 L602.0 229.2 L602.2 229.5 L602.4 229.8 L602.6 230.1 L602.8 230.4 L603.0 230.8 L603.2 231.1 L603.4 231.5 L603.6 231.8 L603.8 232.2 L604.0 232.6 L604.2 232.9 L604.4 233.2 L604.6 233.6 L604.8 233.9 L605.0 234.2 L605.2 234.5 L605.3 234.8 L605.5 235.0 L605.7 235.3 L605.9 235.6 L606.1 235.9 L606.3 236.1 L606.5 236.4 L606.7 236.7 L606.9 237.0 L607.1 237.2 L607.3 237.5 L607.5 237.7 L607.7 238.0 L607.9 238.3 L608.1 238.5 L608.3 238.8 L608.5 239.0 L608.7 239.3 L608.9 239.5 L609.1 239.8 L609.2 240.1 L609.4 240.3 L609.6 240.6 L609.8 240.8 L610.0 241.1 L610.2 241.3 L610.4 241.6 L610.6 241.9 L610.8 242.1 L611.0 242.4 L611.2 242.6 L611.4 242.9 L611.6 243.2 L611.8 243.4 L612.0 243.7 L612.2 243.9 L612.4 244.2 L612.6 244.4 L612.8 244.7 L612.9 244.9 L613.1 245.1 L613.3 245.3 L613.5 245.6 L613.7 245.8 L613.9 246.0 L614.1 246.2 L614.3 246.4 L614.5 246.6 L614.7 246.7 L614.9 246.9 L615.1 247.1 L615.3 247.3 L615.5 247.4 L615.7 247.6 L615.9 247.8 L616.1 247.9 L616.3 248.1 L616.5 248.2 L616.7 248.4 L616.8 248.6 L617.0 248.7 L617.2 248.8 L617.4 249.0 L617.6 249.1 L617.8 249.3 L618.0 249.4 L618.2 249.6 L618.4 249.7 L618.6 249.8 L618.8 250.0 L619.0 250.1 L619.2 250.2 L619.4 250.3 L619.6 250.5 L619.8 250.6 L620.0 250.7 L620.2 250.8 L620.4 250.9 L620.5 251.1 L620.7 251.2 L620.9 251.3 L621.1 251.4 L621.3 251.5 L621.5 251.6 L621.7 251.7 L621.9 251.8 L622.1 251.9 L622.3 252.0 L622.5 252.2 L622.7 252.3 L622.9 252.4 L623.1 252.5 L623.3 252.6 L623.5 252.7 L623.7 252.8 L623.9 253.0 L624.1 253.1 L624.3 253.2 L624.4 253.3 L624.6 253.5 L624.8 253.6 L625.0 253.7 L625.2 253.8 L625.4 254.0 L625.6 254.1 L625.8 254.2 L626.0 254.3 L626.2 254.4 L626.4 254.6 L626.6 254.7 L626.8 254.8 L627.0 254.9 L627.2 255.0 L627.4 255.1 L627.6 255.2 L627.8 255.3 L628.0 255.4 L628.2 255.5 L628.3 255.6 L628.5 255.7 L628.7 255.7 L628.9 255.8 L629.1 255.9 L629.3 256.0 L629.5 256.1 L629.7 256.2 L629.9 256.3 L630.1 256.3 L630.3 256.4 L630.5 256.5 L630.7 256.6 L630.9 256.6 L631.1 256.7 L631.3 256.8 L631.5 256.8 L631.7 256.9 L631.9 256.9 L632.0 257.0 L632.2 257.0 L632.4 257.1 L632.6 257.1 L632.8 257.2 L633.0 257.2 L633.2 257.3 L633.4 257.3 L633.6 257.3 L633.8 257.4 L634.0 257.4 L634.2 257.4 L634.4 257.5 L634.6 257.5 L634.8 257.5 L635.0 257.6 L635.2 257.6 L635.4 257.6 L635.6 257.7 L635.8 257.7 L635.9 257.7 L636.1 257.8 L636.3 257.8 L636.5 257.8 L636.7 257.8 L636.9 257.9 L637.1 257.9 L637.3 257.9 L637.5 258.0 L637.7 258.0 L637.9 258.0 L638.1 258.0 L638.3 258.0 L638.5 258.1 L638.7 258.1 L638.9 258.1 L639.1 258.1 L639.3 258.1 L639.5 258.2 L639.6 258.2 L639.8 258.2 L640.0 258.2 L640.2 258.2 L640.4 258.2 L640.6 258.2 L640.8 258.2 L641.0 258.3 L641.2 258.3 L641.4 258.3 L641.6 258.3 L641.8 258.3 L642.0 258.3 L642.2 258.3 L642.4 258.3 L642.6 258.3 L642.8 258.3 L643.0 258.3 L643.2 258.4 L643.4 258.4 L643.5 258.4 L643.7 258.4 L643.9 258.4 L644.1 258.4 L644.3 258.4 L644.5 258.4 L644.7 258.4 L644.9 258.4 L645.1 258.4 L645.3 258.4 L645.5 258.4 L645.7 258.4 L645.9 258.4 L646.1 258.4 L646.3 258.4 L646.5 258.4 L646.7 258.4 L646.9 258.4 L647.1 258.4 L647.3 258.4 L647.4 258.4 L647.6 258.4 L647.8 258.4 L648.0 258.4 L648.2 258.4 L648.4 258.4 L648.6 258.4 L648.8 258.4 L649.0 258.4 L649.2 258.4 L649.4 258.4 L649.6 258.4 L649.8 258.4 L650.0 258.4 L650.2 258.4 L650.4 258.4 L650.6 258.4 L650.8 258.4 L651.0 258.4 L651.1 258.4 L651.3 258.4 L651.5 258.4 L651.7 258.4 L651.9 258.4 L652.1 258.4 L652.3 258.4 L652.5 258.4 L652.7 258.4 L652.9 258.4 L653.1 258.4 L653.3 258.4 L653.5 258.4 L653.7 258.4 L653.9 258.4 L654.1 258.4 L654.3 258.4 L654.5 258.4 L654.7 258.4 L654.9 258.4 L655.0 258.4 L655.2 258.4 L655.4 258.4 L655.6 258.4 L655.8 258.4 L656.0 258.4 L656.2 258.4 L656.4 258.4 L656.6 258.4 L656.8 258.4 L657.0 258.4 L657.2 258.4 L657.4 258.4 L657.6 258.4 L657.8 258.4 L658.0 258.4 L658.2 258.4 L658.4 258.4 L658.6 258.4 L658.7 258.4 L658.9 258.4 L659.1 258.4 L659.3 258.4 L659.5 258.4 L659.7 258.4 L659.9 258.4 L660.1 258.4 L660.3 258.4 L660.5 258.4 L660.7 258.4 L660.9 258.4 L661.1 258.4 L661.3 258.4 L661.5 258.4 L661.7 258.4 L661.9 258.4 L662.1 258.4 L662.3 258.4 L662.5 258.4 L662.6 258.4 L662.8 258.4 L663.0 258.4 L663.2 258.4 L663.4 258.4 L663.6 258.4 L663.8 258.4 L664.0 258.4 L664.2 258.4 L664.4 258.4 L664.6 258.4 L664.8 258.4 L665.0 258.4 L665.2 258.4 L665.4 258.4 L665.6 258.4 L665.8 258.4 L666.0 258.4 L666.2 258.4 L666.4 258.4 L666.5 258.4 L666.7 258.4 L666.9 258.4 L667.1 258.4 L667.3 258.4 L667.5 258.4 L667.7 258.4 L667.9 258.4 L668.1 258.4 L668.3 258.4" fill="none" stroke="#86a44a" stroke-width="1.0"/>
<path d="M578.0 279.1 L581.6 249.1 L584.8 232.7 L587.6 226.2 L590.2 223.8 L592.5 223.1 L594.7 223.8 L596.7 225.0 L598.6 226.2 L600.3 227.5 L601.9 229.1 L603.5 231.6 L604.9 234.1 L606.3 236.1 L607.6 237.9 L608.9 239.6 L610.1 241.1 L611.2 242.7 L612.3 244.1 L613.4 245.4 L614.4 246.4 L615.4 247.3 L616.3 248.1 L617.2 248.8 L618.1 249.5 L619.0 250.1 L619.8 250.6 L620.6 251.1 L621.4 251.5 L622.1 251.9 L622.9 252.4 L623.6 252.8 L624.3 253.2 L625.0 253.7 L625.6 254.1 L626.3 254.5 L626.9 254.8 L627.5 255.2 L628.1 255.5 L628.7 255.7 L629.3 256.0 L629.9 256.2 L630.4 256.5 L631.0 256.7 L631.5 256.8 L632.0 257.0 L632.5 257.1 L633.0 257.2 L633.5 257.3 L634.0 257.4 L634.5 257.5 L635.0 257.6 L635.4 257.7 L635.9 257.7 L636.3 257.8 L636.8 257.8 L637.2 257.9 L637.6 258.0 L638.0 258.0 L638.4 258.1 L638.9 258.1 L639.3 258.1 L639.6 258.2 L640.0 258.2 L640.4 258.2 L640.8 258.2 L641.2 258.3 L641.5 258.3 L641.9 258.3 L642.2 258.3 L642.6 258.3 L642.9 258.3 L643.3 258.4 L643.6 258.4 L644.0 258.4 L644.3 258.4 L644.6 258.4 L644.9 258.4 L645.3 258.4 L645.6 258.4 L645.9 258.4 L646.2 258.4 L646.5 258.4 L646.8 258.4 L647.1 258.4 L647.4 258.4 L647.7 258.4 L648.0 258.4 L648.3 258.4 L648.5 258.4 L648.8 258.4 L649.1 258.4 L649.4 258.4 L649.6 258.4 L649.9 258.4 L650.2 258.4 L650.4 258.4 L650.7 258.4 L650.9 258.4 L651.2 258.4 L651.5 258.4 L651.7 258.4 L652.0 258.4 L652.2 258.4 L652.4 258.4 L652.7 258.4 L652.9 258.4 L653.2 258.4 L653.4 258.4 L653.6 258.4 L653.9 258.4 L654.1 258.4 L654.3 258.4 L654.5 258.4 L654.8 258.4 L655.0 258.4 L655.2 258.4 L655.4 258.4 L655.6 258.4 L655.9 258.4 L656.1 258.4 L656.3 258.4 L656.5 258.4 L656.7 258.4 L656.9 258.4 L657.1 258.4 L657.3 258.4 L657.5 258.4 L657.7 258.4 L657.9 258.4 L658.1 258.4 L658.3 258.4 L658.5 258.4 L658.7 258.4 L658.9 258.4 L659.1 258.4 L659.3 258.4 L659.5 258.4 L659.6 258.4 L659.8 258.4 L660.0 258.4 L660.2 258.4 L660.4 258.4 L660.6 258.4 L660.7 258.4 L660.9 258.4 L661.1 258.4 L661.3 258.4 L661.4 258.4 L661.6 258.4 L661.8 258.4 L662.0 258.4 L662.1 258.4 L662.3 258.4 L662.5 258.4 L662.6 258.4 L662.8 258.4 L663.0 258.4 L663.1 258.4 L663.3 258.4 L663.4 258.4 L663.6 258.4 L663.8 258.4 L663.9 258.4 L664.1 258.4 L664.2 258.4 L664.4 258.4 L664.6 258.4 L664.7 258.4 L664.9 258.4 L665.0 258.4 L665.2 258.4 L665.3 258.4 L665.5 258.4 L665.6 258.4 L665.8 258.4 L665.9 258.4 L666.1 258.4 L666.2 258.4 L666.3 258.4 L666.5 258.4 L666.6 258.4 L666.8 258.4 L666.9 258.4 L667.1 258.4 L667.2 258.4 L667.3 258.4 L667.5 258.4 L667.6 258.4 L667.8 258.4 L667.9 258.4 L668.0 258.4 L668.2 258.4 L668.3 258.4" fill="none" stroke="none" marker-start="url(#m7)" marker-mid="url(#m7)" marker-end="url(#m7)"/>
</g>
<defs>
<marker id="m8" markerUnits="userSpaceOnUse" markerWidth="12" markerHeight="12" refX="0" refY="0" viewBox="-6 -6 12 12" overflow="visible"><rect x="-1.44" y="-1.44" width="2.88" height="2.88" fill="#d0d0d0" stroke="#1a1a1a" stroke-width="0.9"/></marker>
</defs>
<g clip-path="url(#cf)">
<path d="M571.0 376.9 L571.2 372.8 L571.4 368.6 L571.6 364.6 L571.8 360.5 L572.0 356.6 L572.2 352.8 L572.4 349.0 L572.6 345.3 L572.8 341.8 L573.0 338.3 L573.2 335.0 L573.4 331.8 L573.6 328.8 L573.8 325.9 L574.0 323.1 L574.2 320.5 L574.4 317.9 L574.6 315.4 L574.7 313.0 L574.9 310.6 L575.1 308.3 L575.3 306.0 L575.5 303.8 L575.7 301.7 L575.9 299.6 L576.1 297.5 L576.3 295.5 L576.5 293.5 L576.7 291.6 L576.9 289.6 L577.1 287.7 L577.3 285.8 L577.5 283.9 L577.7 282.1 L577.9 280.2 L578.1 278.3 L578.3 276.5 L578.5 274.6 L578.6 272.8 L578.8 270.9 L579.0 269.1 L579.2 267.3 L579.4 265.6 L579.6 263.8 L579.8 262.1 L580.0 260.4 L580.2 258.7 L580.4 257.1 L580.6 255.5 L580.8 254.0 L581.0 252.5 L581.2 251.0 L581.4 249.6 L581.6 248.2 L581.8 246.9 L582.0 245.6 L582.2 244.3 L582.3 243.0 L582.5 241.7 L582.7 240.5 L582.9 239.3 L583.1 238.1 L583.3 237.0 L583.5 235.8 L583.7 234.8 L583.9 233.8 L584.1 232.8 L584.3 231.9 L584.5 231.0 L584.7 230.2 L584.9 229.5 L585.1 228.8 L585.3 228.1 L585.5 227.5 L585.7 226.8 L585.9 226.2 L586.1 225.6 L586.2 225.1 L586.4 224.6 L586.6 224.1 L586.8 223.6 L587.0 223.2 L587.2 222.8 L587.4 222.4 L587.6 222.1 L587.8 221.7 L588.0 221.5 L588.2 221.2 L588.4 220.9 L588.6 220.6 L588.8 220.4 L589.0 220.2 L589.2 220.0 L589.4 219.8 L589.6 219.6 L589.8 219.4 L589.9 219.3 L590.1 219.2 L590.3 219.1 L590.5 219.0 L590.7 218.9 L590.9 218.8 L591.1 218.7 L591.3 218.6 L591.5 218.5 L591.7 218.5 L591.9 218.4 L592.1 218.4 L592.3 218.4 L592.5 218.3 L592.7 218.4 L592.9 218.4 L593.1 218.4 L593.3 218.5 L593.5 218.6 L593.7 218.6 L593.8 218.7 L594.0 218.8 L594.2 218.9 L594.4 219.0 L594.6 219.1 L594.8 219.2 L595.0 219.3 L595.2 219.4 L595.4 219.5 L595.6 219.6 L595.8 219.8 L596.0 219.9 L596.2 220.0 L596.4 220.2 L596.6 220.3 L596.8 220.5 L597.0 220.6 L597.2 220.8 L597.4 221.0 L597.6 221.2 L597.7 221.4 L597.9 221.5 L598.1 221.7 L598.3 222.0 L598.5 222.2 L598.7 222.4 L598.9 222.6 L599.1 222.8 L599.3 223.1 L599.5 223.3 L599.7 223.6 L599.9 223.8 L600.1 224.1 L600.3 224.3 L600.5 224.6 L600.7 224.8 L600.9 225.1 L601.1 225.4 L601.3 225.7 L601.4 225.9 L601.6 226.2 L601.8 226.5 L602.0 226.8 L602.2 227.2 L602.4 227.5 L602.6 227.9 L602.8 228.2 L603.0 228.6 L603.2 229.0 L603.4 229.4 L603.6 229.8 L603.8 230.2 L604.0 230.5 L604.2 230.9 L604.4 231.3 L604.6 231.6 L604.8 232.0 L605.0 232.3 L605.2 232.6 L605.3 232.9 L605.5 233.2 L605.7 233.5 L605.9 233.8 L606.1 234.1 L606.3 234.4 L606.5 234.6 L606.7 234.9 L606.9 235.2 L607.1 235.5 L607.3 235.7 L607.5 236.0 L607.7 236.3 L607.9 236.5 L608.1 236.8 L608.3 237.1 L608.5 237.3 L608.7 237.6 L608.9 237.9 L609.1 238.2 L609.2 238.4 L609.4 238.7 L609.6 239.0 L609.8 239.3 L610.0 239.5 L610.2 239.8 L610.4 240.1 L610.6 240.4 L610.8 240.7 L611.0 241.0 L611.2 241.3 L611.4 241.6 L611.6 241.9 L611.8 242.2 L612.0 242.4 L612.2 242.7 L612.4 243.0 L612.6 243.3 L612.8 243.5 L612.9 243.8 L613.1 244.1 L613.3 244.3 L613.5 244.6 L613.7 244.8 L613.9 245.0 L614.1 245.2 L614.3 245.4 L614.5 245.6 L614.7 245.8 L614.9 246.0 L615.1 246.2 L615.3 246.4 L615.5 246.5 L615.7 246.7 L615.9 246.9 L616.1 247.0 L616.3 247.2 L616.5 247.4 L616.7 247.5 L616.8 247.7 L617.0 247.8 L617.2 248.0 L617.4 248.1 L617.6 248.3 L617.8 248.4 L618.0 248.6 L618.2 248.7 L618.4 248.9 L618.6 249.0 L618.8 249.2 L619.0 249.3 L619.2 249.4 L619.4 249.6 L619.6 249.7 L619.8 249.9 L620.0 250.0 L620.2 250.1 L620.4 250.3 L620.5 250.4 L620.7 250.5 L620.9 250.7 L621.1 250.8 L621.3 250.9 L621.5 251.0 L621.7 251.2 L621.9 251.3 L622.1 251.4 L622.3 251.5 L622.5 251.6 L622.7 251.8 L622.9 251.9 L623.1 252.0 L623.3 252.1 L623.5 252.2 L623.7 252.4 L623.9 252.5 L624.1 252.6 L624.3 252.7 L624.4 252.8 L624.6 252.9 L624.8 253.1 L625.0 253.2 L625.2 253.3 L625.4 253.4 L625.6 253.5 L625.8 253.6 L626.0 253.7 L626.2 253.8 L626.4 253.9 L626.6 254.0 L626.8 254.1 L627.0 254.3 L627.2 254.4 L627.4 254.5 L627.6 254.5 L627.8 254.6 L628.0 254.7 L628.2 254.8 L628.3 254.9 L628.5 255.0 L628.7 255.1 L628.9 255.2 L629.1 255.3 L629.3 255.4 L629.5 255.5 L629.7 255.6 L629.9 255.7 L630.1 255.8 L630.3 255.9 L630.5 256.0 L630.7 256.0 L630.9 256.1 L631.1 256.2 L631.3 256.3 L631.5 256.3 L631.7 256.4 L631.9 256.5 L632.0 256.5 L632.2 256.6 L632.4 256.6 L632.6 256.7 L632.8 256.7 L633.0 256.8 L633.2 256.8 L633.4 256.9 L633.6 256.9 L633.8 257.0 L634.0 257.0 L634.2 257.1 L634.4 257.1 L634.6 257.2 L634.8 257.2 L635.0 257.2 L635.2 257.3 L635.4 257.3 L635.6 257.3 L635.8 257.4 L635.9 257.4 L636.1 257.4 L636.3 257.5 L636.5 257.5 L636.7 257.5 L636.9 257.6 L637.1 257.6 L637.3 257.6 L637.5 257.6 L637.7 257.7 L637.9 257.7 L638.1 257.7 L638.3 257.7 L638.5 257.8 L638.7 257.8 L638.9 257.8 L639.1 257.8 L639.3 257.8 L639.5 257.8 L639.6 257.9 L639.8 257.9 L640.0 257.9 L640.2 257.9 L640.4 257.9 L640.6 257.9 L640.8 257.9 L641.0 257.9 L641.2 257.9 L641.4 258.0 L641.6 258.0 L641.8 258.0 L642.0 258.0 L642.2 258.0 L642.4 258.0 L642.6 258.0 L642.8 258.0 L643.0 258.0 L643.2 258.0 L643.4 258.0 L643.5 258.0 L643.7 258.0 L643.9 258.1 L644.1 258.1 L644.3 258.1 L644.5 258.1 L644.7 258.1 L644.9 258.1 L645.1 258.1 L645.3 258.1 L645.5 258.1 L645.7 258.1 L645.9 258.1 L646.1 258.1 L646.3 258.1 L646.5 258.1 L646.7 258.1 L646.9 258.1 L647.1 258.1 L647.3 258.1 L647.4 258.1 L647.6 258.1 L647.8 258.1 L648.0 258.1 L648.2 258.1 L648.4 258.1 L648.6 258.1 L648.8 258.1 L649.0 258.1 L649.2 258.1 L649.4 258.1 L649.6 258.1 L649.8 258.1 L650.0 258.2 L650.2 258.2 L650.4 258.2 L650.6 258.2 L650.8 258.2 L651.0 258.2 L651.1 258.2 L651.3 258.2 L651.5 258.2 L651.7 258.2 L651.9 258.2 L652.1 258.2 L652.3 258.2 L652.5 258.2 L652.7 258.2 L652.9 258.2 L653.1 258.2 L653.3 258.2 L653.5 258.2 L653.7 258.2 L653.9 258.2 L654.1 258.2 L654.3 258.2 L654.5 258.2 L654.7 258.2 L654.9 258.2 L655.0 258.2 L655.2 258.2 L655.4 258.2 L655.6 258.2 L655.8 258.2 L656.0 258.2 L656.2 258.2 L656.4 258.2 L656.6 258.2 L656.8 258.2 L657.0 258.2 L657.2 258.2 L657.4 258.2 L657.6 258.2 L657.8 258.2 L658.0 258.2 L658.2 258.2 L658.4 258.2 L658.6 258.2 L658.7 258.2 L658.9 258.2 L659.1 258.2 L659.3 258.2 L659.5 258.2 L659.7 258.2 L659.9 258.2 L660.1 258.2 L660.3 258.2 L660.5 258.2 L660.7 258.2 L660.9 258.2 L661.1 258.2 L661.3 258.2 L661.5 258.2 L661.7 258.2 L661.9 258.2 L662.1 258.2 L662.3 258.2 L662.5 258.2 L662.6 258.2 L662.8 258.2 L663.0 258.2 L663.2 258.2 L663.4 258.2 L663.6 258.2 L663.8 258.2 L664.0 258.2 L664.2 258.2 L664.4 258.2 L664.6 258.2 L664.8 258.2 L665.0 258.2 L665.2 258.2 L665.4 258.2 L665.6 258.2 L665.8 258.2 L666.0 258.1 L666.2 258.1 L666.4 258.1 L666.5 258.1 L666.7 258.1 L666.9 258.1 L667.1 258.1 L667.3 258.1 L667.5 258.1 L667.7 258.1 L667.9 258.1 L668.1 258.1 L668.3 258.1" fill="none" stroke="#1a1a1a" stroke-width="1.0"/>
<path d="M578.0 278.6 L581.6 247.8 L584.8 229.8 L587.6 222.0 L590.2 219.1 L592.5 218.3 L594.7 219.1 L596.7 220.4 L598.6 222.2 L600.3 224.3 L601.9 226.6 L603.5 229.5 L604.9 232.2 L606.3 234.3 L607.6 236.2 L608.9 237.9 L610.1 239.6 L611.2 241.3 L612.3 242.9 L613.4 244.3 L614.4 245.5 L615.4 246.4 L616.3 247.2 L617.2 248.0 L618.1 248.6 L619.0 249.3 L619.8 249.9 L620.6 250.4 L621.4 250.9 L622.1 251.4 L622.9 251.9 L623.6 252.3 L624.3 252.7 L625.0 253.1 L625.6 253.5 L626.3 253.9 L626.9 254.2 L627.5 254.5 L628.1 254.8 L628.7 255.1 L629.3 255.4 L629.9 255.7 L630.4 255.9 L631.0 256.1 L631.5 256.3 L632.0 256.5 L632.5 256.7 L633.0 256.8 L633.5 256.9 L634.0 257.0 L634.5 257.1 L635.0 257.2 L635.4 257.3 L635.9 257.4 L636.3 257.5 L636.8 257.5 L637.2 257.6 L637.6 257.7 L638.0 257.7 L638.4 257.8 L638.9 257.8 L639.3 257.8 L639.6 257.9 L640.0 257.9 L640.4 257.9 L640.8 257.9 L641.2 257.9 L641.5 258.0 L641.9 258.0 L642.2 258.0 L642.6 258.0 L642.9 258.0 L643.3 258.0 L643.6 258.0 L644.0 258.1 L644.3 258.1 L644.6 258.1 L644.9 258.1 L645.3 258.1 L645.6 258.1 L645.9 258.1 L646.2 258.1 L646.5 258.1 L646.8 258.1 L647.1 258.1 L647.4 258.1 L647.7 258.1 L648.0 258.1 L648.3 258.1 L648.5 258.1 L648.8 258.1 L649.1 258.1 L649.4 258.1 L649.6 258.1 L649.9 258.2 L650.2 258.2 L650.4 258.2 L650.7 258.2 L650.9 258.2 L651.2 258.2 L651.5 258.2 L651.7 258.2 L652.0 258.2 L652.2 258.2 L652.4 258.2 L652.7 258.2 L652.9 258.2 L653.2 258.2 L653.4 258.2 L653.6 258.2 L653.9 258.2 L654.1 258.2 L654.3 258.2 L654.5 258.2 L654.8 258.2 L655.0 258.2 L655.2 258.2 L655.4 258.2 L655.6 258.2 L655.9 258.2 L656.1 258.2 L656.3 258.2 L656.5 258.2 L656.7 258.2 L656.9 258.2 L657.1 258.2 L657.3 258.2 L657.5 258.2 L657.7 258.2 L657.9 258.2 L658.1 258.2 L658.3 258.2 L658.5 258.2 L658.7 258.2 L658.9 258.2 L659.1 258.2 L659.3 258.2 L659.5 258.2 L659.6 258.2 L659.8 258.2 L660.0 258.2 L660.2 258.2 L660.4 258.2 L660.6 258.2 L660.7 258.2 L660.9 258.2 L661.1 258.2 L661.3 258.2 L661.4 258.2 L661.6 258.2 L661.8 258.2 L662.0 258.2 L662.1 258.2 L662.3 258.2 L662.5 258.2 L662.6 258.2 L662.8 258.2 L663.0 258.2 L663.1 258.2 L663.3 258.2 L663.4 258.2 L663.6 258.2 L663.8 258.2 L663.9 258.2 L664.1 258.2 L664.2 258.2 L664.4 258.2 L664.6 258.2 L664.7 258.2 L664.9 258.2 L665.0 258.2 L665.2 258.2 L665.3 258.2 L665.5 258.2 L665.6 258.2 L665.8 258.2 L665.9 258.1 L666.1 258.1 L666.2 258.1 L666.3 258.1 L666.5 258.1 L666.6 258.1 L666.8 258.1 L666.9 258.1 L667.1 258.1 L667.2 258.1 L667.3 258.1 L667.5 258.1 L667.6 258.1 L667.8 258.1 L667.9 258.1 L668.0 258.1 L668.2 258.1 L668.3 258.1" fill="none" stroke="none" marker-start="url(#m8)" marker-mid="url(#m8)" marker-end="url(#m8)"/>
</g>
<defs>
<marker id="m9" markerUnits="userSpaceOnUse" markerWidth="12" markerHeight="12" refX="0" refY="0" viewBox="-6 -6 12 12" overflow="visible"><circle r="1.60" fill="#ee7462" stroke="#dc3b2a" stroke-width="0.9"/></marker>
</defs>
<g clip-path="url(#cf)">
<path d="M571.0 376.9 L571.2 372.8 L571.4 368.6 L571.6 364.6 L571.8 360.6 L572.0 356.7 L572.2 352.8 L572.4 349.0 L572.6 345.4 L572.8 341.8 L573.0 338.4 L573.2 335.1 L573.4 331.9 L573.6 328.8 L573.8 325.9 L574.0 323.1 L574.2 320.5 L574.4 317.9 L574.6 315.3 L574.7 312.9 L574.9 310.5 L575.1 308.1 L575.3 305.9 L575.5 303.7 L575.7 301.5 L575.9 299.4 L576.1 297.3 L576.3 295.2 L576.5 293.2 L576.7 291.2 L576.9 289.3 L577.1 287.3 L577.3 285.4 L577.5 283.5 L577.7 281.6 L577.9 279.7 L578.1 277.8 L578.3 276.0 L578.5 274.1 L578.6 272.2 L578.8 270.4 L579.0 268.6 L579.2 266.8 L579.4 265.0 L579.6 263.3 L579.8 261.5 L580.0 259.8 L580.2 258.2 L580.4 256.5 L580.6 254.9 L580.8 253.4 L581.0 251.8 L581.2 250.3 L581.4 248.9 L581.6 247.5 L581.8 246.1 L582.0 244.7 L582.2 243.3 L582.3 242.0 L582.5 240.6 L582.7 239.3 L582.9 238.0 L583.1 236.8 L583.3 235.6 L583.5 234.4 L583.7 233.2 L583.9 232.1 L584.1 231.1 L584.3 230.1 L584.5 229.2 L584.7 228.4 L584.9 227.6 L585.1 226.8 L585.3 226.1 L585.5 225.4 L585.7 224.7 L585.9 224.1 L586.1 223.4 L586.2 222.8 L586.4 222.3 L586.6 221.7 L586.8 221.2 L587.0 220.7 L587.2 220.3 L587.4 219.9 L587.6 219.5 L587.8 219.2 L588.0 218.8 L588.2 218.5 L588.4 218.2 L588.6 217.9 L588.8 217.6 L589.0 217.3 L589.2 217.1 L589.4 216.8 L589.6 216.6 L589.8 216.4 L589.9 216.3 L590.1 216.1 L590.3 216.0 L590.5 215.9 L590.7 215.8 L590.9 215.8 L591.1 215.7 L591.3 215.6 L591.5 215.5 L591.7 215.4 L591.9 215.4 L592.1 215.4 L592.3 215.3 L592.5 215.3 L592.7 215.3 L592.9 215.3 L593.1 215.4 L593.3 215.4 L593.5 215.5 L593.7 215.5 L593.8 215.6 L594.0 215.7 L594.2 215.8 L594.4 215.8 L594.6 215.9 L594.8 216.0 L595.0 216.1 L595.2 216.2 L595.4 216.4 L595.6 216.5 L595.8 216.7 L596.0 216.9 L596.2 217.1 L596.4 217.3 L596.6 217.4 L596.8 217.6 L597.0 217.8 L597.2 218.0 L597.4 218.2 L597.6 218.4 L597.7 218.6 L597.9 218.8 L598.1 219.0 L598.3 219.2 L598.5 219.4 L598.7 219.7 L598.9 219.9 L599.1 220.1 L599.3 220.3 L599.5 220.6 L599.7 220.8 L599.9 221.1 L600.1 221.3 L600.3 221.6 L600.5 221.8 L600.7 222.1 L600.9 222.4 L601.1 222.7 L601.3 222.9 L601.4 223.2 L601.6 223.5 L601.8 223.8 L602.0 224.1 L602.2 224.5 L602.4 224.8 L602.6 225.2 L602.8 225.6 L603.0 226.0 L603.2 226.4 L603.4 226.8 L603.6 227.2 L603.8 227.6 L604.0 227.9 L604.2 228.3 L604.4 228.7 L604.6 229.1 L604.8 229.4 L605.0 229.7 L605.2 230.0 L605.3 230.4 L605.5 230.7 L605.7 231.0 L605.9 231.3 L606.1 231.6 L606.3 231.9 L606.5 232.1 L606.7 232.4 L606.9 232.7 L607.1 233.0 L607.3 233.3 L607.5 233.6 L607.7 233.8 L607.9 234.1 L608.1 234.4 L608.3 234.6 L608.5 234.9 L608.7 235.2 L608.9 235.5 L609.1 235.7 L609.2 236.0 L609.4 236.3 L609.6 236.6 L609.8 236.9 L610.0 237.2 L610.2 237.4 L610.4 237.7 L610.6 238.0 L610.8 238.3 L611.0 238.6 L611.2 238.9 L611.4 239.2 L611.6 239.5 L611.8 239.8 L612.0 240.1 L612.2 240.4 L612.4 240.7 L612.6 241.0 L612.8 241.3 L612.9 241.5 L613.1 241.8 L613.3 242.1 L613.5 242.3 L613.7 242.5 L613.9 242.8 L614.1 243.0 L614.3 243.2 L614.5 243.4 L614.7 243.6 L614.9 243.8 L615.1 244.0 L615.3 244.2 L615.5 244.4 L615.7 244.5 L615.9 244.7 L616.1 244.9 L616.3 245.0 L616.5 245.2 L616.7 245.4 L616.8 245.5 L617.0 245.7 L617.2 245.9 L617.4 246.0 L617.6 246.2 L617.8 246.3 L618.0 246.5 L618.2 246.6 L618.4 246.8 L618.6 246.9 L618.8 247.1 L619.0 247.2 L619.2 247.4 L619.4 247.5 L619.6 247.7 L619.8 247.8 L620.0 247.9 L620.2 248.1 L620.4 248.2 L620.5 248.4 L620.7 248.5 L620.9 248.6 L621.1 248.8 L621.3 248.9 L621.5 249.0 L621.7 249.2 L621.9 249.3 L622.1 249.4 L622.3 249.6 L622.5 249.7 L622.7 249.8 L622.9 249.9 L623.1 250.1 L623.3 250.2 L623.5 250.3 L623.7 250.5 L623.9 250.6 L624.1 250.8 L624.3 250.9 L624.4 251.0 L624.6 251.2 L624.8 251.3 L625.0 251.4 L625.2 251.6 L625.4 251.7 L625.6 251.9 L625.8 252.0 L626.0 252.1 L626.2 252.3 L626.4 252.4 L626.6 252.5 L626.8 252.6 L627.0 252.8 L627.2 252.9 L627.4 253.0 L627.6 253.1 L627.8 253.2 L628.0 253.3 L628.2 253.5 L628.3 253.6 L628.5 253.7 L628.7 253.8 L628.9 253.9 L629.1 254.0 L629.3 254.1 L629.5 254.2 L629.7 254.3 L629.9 254.4 L630.1 254.5 L630.3 254.6 L630.5 254.7 L630.7 254.8 L630.9 254.9 L631.1 255.0 L631.3 255.1 L631.5 255.2 L631.7 255.3 L631.9 255.3 L632.0 255.4 L632.2 255.5 L632.4 255.6 L632.6 255.6 L632.8 255.7 L633.0 255.8 L633.2 255.8 L633.4 255.9 L633.6 256.0 L633.8 256.0 L634.0 256.1 L634.2 256.2 L634.4 256.2 L634.6 256.3 L634.8 256.3 L635.0 256.4 L635.2 256.4 L635.4 256.5 L635.6 256.5 L635.8 256.6 L635.9 256.6 L636.1 256.7 L636.3 256.7 L636.5 256.7 L636.7 256.8 L636.9 256.8 L637.1 256.8 L637.3 256.9 L637.5 256.9 L637.7 256.9 L637.9 257.0 L638.1 257.0 L638.3 257.0 L638.5 257.1 L638.7 257.1 L638.9 257.1 L639.1 257.1 L639.3 257.2 L639.5 257.2 L639.6 257.2 L639.8 257.2 L640.0 257.2 L640.2 257.3 L640.4 257.3 L640.6 257.3 L640.8 257.3 L641.0 257.3 L641.2 257.3 L641.4 257.4 L641.6 257.4 L641.8 257.4 L642.0 257.4 L642.2 257.4 L642.4 257.4 L642.6 257.4 L642.8 257.5 L643.0 257.5 L643.2 257.5 L643.4 257.5 L643.5 257.5 L643.7 257.5 L643.9 257.5 L644.1 257.5 L644.3 257.5 L644.5 257.6 L644.7 257.6 L644.9 257.6 L645.1 257.6 L645.3 257.6 L645.5 257.6 L645.7 257.6 L645.9 257.6 L646.1 257.6 L646.3 257.6 L646.5 257.6 L646.7 257.6 L646.9 257.6 L647.1 257.6 L647.3 257.6 L647.4 257.7 L647.6 257.7 L647.8 257.7 L648.0 257.7 L648.2 257.7 L648.4 257.7 L648.6 257.7 L648.8 257.7 L649.0 257.7 L649.2 257.7 L649.4 257.7 L649.6 257.7 L649.8 257.7 L650.0 257.7 L650.2 257.7 L650.4 257.7 L650.6 257.7 L650.8 257.7 L651.0 257.7 L651.1 257.7 L651.3 257.7 L651.5 257.7 L651.7 257.7 L651.9 257.7 L652.1 257.7 L652.3 257.7 L652.5 257.7 L652.7 257.8 L652.9 257.8 L653.1 257.8 L653.3 257.8 L653.5 257.8 L653.7 257.8 L653.9 257.8 L654.1 257.8 L654.3 257.8 L654.5 257.8 L654.7 257.8 L654.9 257.8 L655.0 257.8 L655.2 257.8 L655.4 257.8 L655.6 257.8 L655.8 257.8 L656.0 257.8 L656.2 257.8 L656.4 257.8 L656.6 257.8 L656.8 257.8 L657.0 257.8 L657.2 257.8 L657.4 257.8 L657.6 257.8 L657.8 257.8 L658.0 257.8 L658.2 257.8 L658.4 257.8 L658.6 257.8 L658.7 257.8 L658.9 257.8 L659.1 257.8 L659.3 257.8 L659.5 257.8 L659.7 257.8 L659.9 257.8 L660.1 257.8 L660.3 257.8 L660.5 257.8 L660.7 257.8 L660.9 257.8 L661.1 257.8 L661.3 257.8 L661.5 257.8 L661.7 257.8 L661.9 257.8 L662.1 257.8 L662.3 257.8 L662.5 257.8 L662.6 257.8 L662.8 257.8 L663.0 257.8 L663.2 257.8 L663.4 257.8 L663.6 257.8 L663.8 257.8 L664.0 257.8 L664.2 257.8 L664.4 257.8 L664.6 257.8 L664.8 257.8 L665.0 257.8 L665.2 257.8 L665.4 257.8 L665.6 257.8 L665.8 257.8 L666.0 257.8 L666.2 257.8 L666.4 257.8 L666.5 257.8 L666.7 257.8 L666.9 257.8 L667.1 257.8 L667.3 257.8 L667.5 257.8 L667.7 257.8 L667.9 257.8 L668.1 257.8 L668.3 257.8" fill="none" stroke="#dc3b2a" stroke-width="1.0"/>
<path d="M578.0 278.1 L581.6 247.0 L584.8 227.9 L587.6 219.5 L590.2 216.1 L592.5 215.3 L594.7 216.0 L596.7 217.5 L598.6 219.5 L600.3 221.6 L601.9 224.0 L603.5 226.9 L604.9 229.7 L606.3 231.8 L607.6 233.7 L608.9 235.5 L610.1 237.2 L611.2 239.0 L612.3 240.6 L613.4 242.1 L614.4 243.3 L615.4 244.2 L616.3 245.1 L617.2 245.8 L618.1 246.5 L619.0 247.2 L619.8 247.8 L620.6 248.4 L621.4 248.9 L622.1 249.4 L622.9 249.9 L623.6 250.4 L624.3 250.9 L625.0 251.4 L625.6 251.9 L626.3 252.3 L626.9 252.7 L627.5 253.1 L628.1 253.5 L628.7 253.8 L629.3 254.1 L629.9 254.4 L630.4 254.7 L631.0 255.0 L631.5 255.2 L632.0 255.4 L632.5 255.6 L633.0 255.8 L633.5 256.0 L634.0 256.1 L634.5 256.3 L635.0 256.4 L635.4 256.5 L635.9 256.6 L636.3 256.7 L636.8 256.8 L637.2 256.9 L637.6 256.9 L638.0 257.0 L638.4 257.1 L638.9 257.1 L639.3 257.2 L639.6 257.2 L640.0 257.2 L640.4 257.3 L640.8 257.3 L641.2 257.3 L641.5 257.4 L641.9 257.4 L642.2 257.4 L642.6 257.4 L642.9 257.5 L643.3 257.5 L643.6 257.5 L644.0 257.5 L644.3 257.5 L644.6 257.6 L644.9 257.6 L645.3 257.6 L645.6 257.6 L645.9 257.6 L646.2 257.6 L646.5 257.6 L646.8 257.6 L647.1 257.6 L647.4 257.7 L647.7 257.7 L648.0 257.7 L648.3 257.7 L648.5 257.7 L648.8 257.7 L649.1 257.7 L649.4 257.7 L649.6 257.7 L649.9 257.7 L650.2 257.7 L650.4 257.7 L650.7 257.7 L650.9 257.7 L651.2 257.7 L651.5 257.7 L651.7 257.7 L652.0 257.7 L652.2 257.7 L652.4 257.7 L652.7 257.8 L652.9 257.8 L653.2 257.8 L653.4 257.8 L653.6 257.8 L653.9 257.8 L654.1 257.8 L654.3 257.8 L654.5 257.8 L654.8 257.8 L655.0 257.8 L655.2 257.8 L655.4 257.8 L655.6 257.8 L655.9 257.8 L656.1 257.8 L656.3 257.8 L656.5 257.8 L656.7 257.8 L656.9 257.8 L657.1 257.8 L657.3 257.8 L657.5 257.8 L657.7 257.8 L657.9 257.8 L658.1 257.8 L658.3 257.8 L658.5 257.8 L658.7 257.8 L658.9 257.8 L659.1 257.8 L659.3 257.8 L659.5 257.8 L659.6 257.8 L659.8 257.8 L660.0 257.8 L660.2 257.8 L660.4 257.8 L660.6 257.8 L660.7 257.8 L660.9 257.8 L661.1 257.8 L661.3 257.8 L661.4 257.8 L661.6 257.8 L661.8 257.8 L662.0 257.8 L662.1 257.8 L662.3 257.8 L662.5 257.8 L662.6 257.8 L662.8 257.8 L663.0 257.8 L663.1 257.8 L663.3 257.8 L663.4 257.8 L663.6 257.8 L663.8 257.8 L663.9 257.8 L664.1 257.8 L664.2 257.8 L664.4 257.8 L664.6 257.8 L664.7 257.8 L664.9 257.8 L665.0 257.8 L665.2 257.8 L665.3 257.8 L665.5 257.8 L665.6 257.8 L665.8 257.8 L665.9 257.8 L666.1 257.8 L666.2 257.8 L666.3 257.8 L666.5 257.8 L666.6 257.8 L666.8 257.8 L666.9 257.8 L667.1 257.8 L667.2 257.8 L667.3 257.8 L667.5 257.8 L667.6 257.8 L667.8 257.8 L667.9 257.8 L668.0 257.8 L668.2 257.8 L668.3 257.8" fill="none" stroke="none" marker-start="url(#m9)" marker-mid="url(#m9)" marker-end="url(#m9)"/>
</g>
<g clip-path="url(#cf)"><path d="M571.5 366.5 L571.6 364.4 L571.7 362.3 L571.8 360.2 L571.9 358.2 L572.0 356.2 L572.1 354.2 L572.2 352.2 L572.3 350.3 L572.4 348.3 L572.5 346.4 L572.6 344.6 L572.7 342.7 L572.8 340.9 L573.0 339.1 L573.1 337.4 L573.2 335.7 L573.3 334.0 L573.4 332.4 L573.5 330.7 L573.6 329.2 L573.7 327.6 L573.8 326.1 L573.9 324.7 L574.0 323.3 L574.1 321.9 L574.2 320.5 L574.3 319.1 L574.4 317.8 L574.5 316.5 L574.6 315.2 L574.7 313.9 L574.8 312.6 L574.9 311.4 L575.0 310.2 L575.1 309.0 L575.2 307.8 L575.3 306.6 L575.4 305.4 L575.5 304.3 L575.6 303.2 L575.7 302.0 L575.8 300.9 L575.9 299.8 L576.0 298.7 L576.1 297.7 L576.2 296.6 L576.3 295.5 L576.4 294.5 L576.5 293.4 L576.6 292.4 L576.7 291.4 L576.8 290.4 L576.9 289.4 L577.0 288.4 L577.1 287.4 L577.2 286.4 L577.3 285.4 L577.4 284.4 L577.5 283.4" fill="none" stroke="#6a4a2a" stroke-width="1.4"/></g>
<line x1="639.30" y1="204.90" x2="647.70" y2="204.90" stroke="#86a44a" stroke-width="1.0"/>
<path d="M643.50 202.71L645.60 206.70L641.40 206.70Z" fill="#c4d89a" stroke="#86a44a" stroke-width="1.0"/>
<text x="652.10" y="208.40" font-size="10" text-anchor="start" fill="#1e1e1e" stroke="#1e1e1e" stroke-width="0.2" font-weight="normal" >45</text>
<line x1="639.30" y1="218.10" x2="647.70" y2="218.10" stroke="#1a1a1a" stroke-width="1.0"/>
<rect x="641.70" y="216.30" width="3.60" height="3.60" fill="#d0d0d0" stroke="#1a1a1a" stroke-width="1.0"/>
<text x="652.10" y="221.60" font-size="10" text-anchor="start" fill="#1e1e1e" stroke="#1e1e1e" stroke-width="0.2" font-weight="normal" >25</text>
<line x1="639.30" y1="231.00" x2="647.70" y2="231.00" stroke="#dc3b2a" stroke-width="1.0"/>
<circle cx="643.50" cy="231.00" r="2.00" fill="#ee7462" stroke="#dc3b2a" stroke-width="1.0"/>
<text x="652.10" y="234.50" font-size="10" text-anchor="start" fill="#1e1e1e" stroke="#1e1e1e" stroke-width="0.2" font-weight="normal" >10</text>
<text x="455.00" y="187.70" font-size="16.5" text-anchor="start" fill="#111" font-weight="bold" >f</text>
<text x="506.00" y="211.00" font-size="11.5" text-anchor="start" fill="#1e1e1e" stroke="#1e1e1e" stroke-width="0.2" font-weight="normal" >Cuo</text>
<text x="576.20" y="337.40" font-size="10" text-anchor="middle" fill="#1e1e1e" stroke="#1e1e1e" stroke-width="0.2" font-weight="normal" >Sparation distance between particles (Å)</text>
</svg></body></html>
